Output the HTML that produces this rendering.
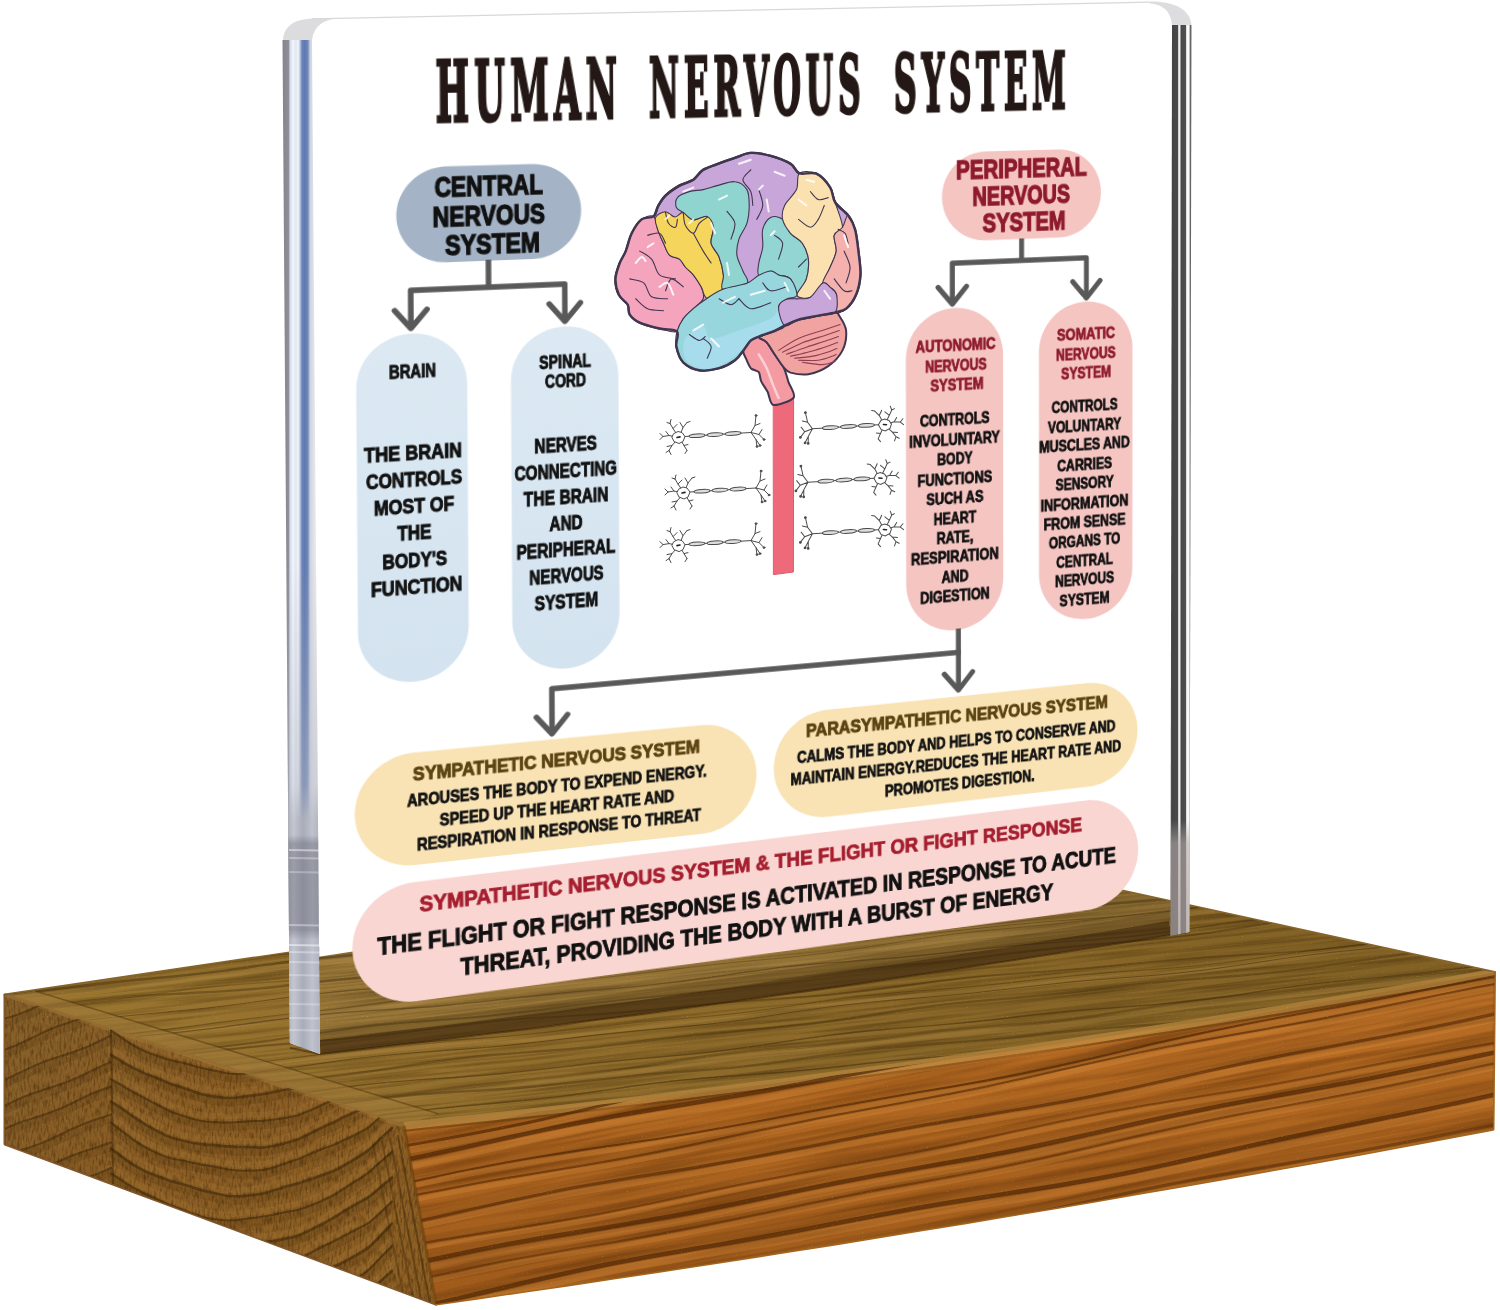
<!DOCTYPE html>
<html><head><meta charset="utf-8"><title>Human Nervous System</title>
<style>
html,body{margin:0;padding:0;background:#fff}
body{width:1500px;height:1310px;position:relative;overflow:hidden;font-family:"Liberation Sans",sans-serif}
.abs{position:absolute;left:0;top:0}
#panel{width:860px;height:1000px;transform-origin:0 0;transform:matrix3d(1.1494175,-0.0078878222,0,0.00012859121,0.011429869,1.0462971,0,1.0718339e-05,0,0,1,0,312,19,0,1)}
</style></head><body>
<svg class="abs" width="1500" height="1310" viewBox="0 0 1500 1310">
<defs>
<linearGradient id="wtop" x1="0" y1="0" x2="1" y2="0"><stop offset="0" stop-color="#9a7630"/><stop offset="0.25" stop-color="#94702e"/><stop offset="0.6" stop-color="#8a6829"/><stop offset="1" stop-color="#806024"/></linearGradient>
<linearGradient id="wfront" x1="0" y1="0" x2="0.12" y2="1"><stop offset="0" stop-color="#bc7229"/><stop offset="0.4" stop-color="#b26821"/><stop offset="1" stop-color="#9e5a1b"/></linearGradient>
<linearGradient id="wend" x1="0" y1="0" x2="1" y2="0.6"><stop offset="0" stop-color="#86602a"/><stop offset="0.5" stop-color="#8a5d24"/><stop offset="1" stop-color="#8c5f24"/></linearGradient>
<filter id="nf" x="0" y="0" width="100%" height="100%" color-interpolation-filters="sRGB"><feTurbulence type="fractalNoise" baseFrequency="0.005 0.14" numOctaves="3" seed="5"/><feColorMatrix type="matrix" values="0 0 0 0 0.30  0 0 0 0 0.14  0 0 0 0 0.0  2.4 0 0 0 -0.95"/></filter>
<filter id="nt" x="0" y="0" width="100%" height="100%" color-interpolation-filters="sRGB"><feTurbulence type="fractalNoise" baseFrequency="0.006 0.3" numOctaves="3" seed="9"/><feColorMatrix type="matrix" values="0 0 0 0 0.22  0 0 0 0 0.14  0 0 0 0 0.02  2.2 0 0 0 -0.9"/></filter>
<filter id="ne" x="0" y="0" width="100%" height="100%" color-interpolation-filters="sRGB"><feTurbulence type="fractalNoise" baseFrequency="0.5 0.12" numOctaves="2" seed="2"/><feColorMatrix type="matrix" values="0 0 0 0 0.25  0 0 0 0 0.14  0 0 0 0 0.02  2.0 0 0 0 -0.85"/></filter>
<filter id="spk" x="0" y="0" width="100%" height="100%" color-interpolation-filters="sRGB"><feTurbulence type="fractalNoise" baseFrequency="0.8" numOctaves="1" seed="4"/><feColorMatrix type="matrix" values="0 0 0 0 0.85  0 0 0 0 0.72  0 0 0 0 0.45  4 0 0 0 -2.75"/></filter>
<clipPath id="cwood"><polygon points="5.0,995.0 955.0,854.5 1494.5,972.5 1493.0,1129.3 1493.0,1129.3 1449.0,1137.6 1404.9,1145.8 1360.9,1153.9 1316.8,1161.9 1272.8,1169.8 1228.8,1177.7 1184.7,1185.4 1140.7,1193.1 1096.6,1200.7 1052.6,1208.2 1008.5,1215.6 964.5,1222.9 920.5,1230.1 876.4,1237.3 832.4,1244.4 788.3,1251.3 744.3,1258.2 700.2,1265.0 656.2,1271.7 612.2,1278.3 568.1,1284.9 524.1,1291.3 480.0,1297.7 436.0,1304.0 5.0,1144.0"/></clipPath>
<clipPath id="ctop"><polygon points="5.0,995.0 955.0,854.5 1494.5,972.5 1449.1,980.6 1403.6,988.5 1358.2,996.3 1312.8,1003.9 1267.3,1011.4 1221.9,1018.8 1176.4,1026.0 1131.0,1033.1 1085.6,1040.0 1040.1,1046.7 994.7,1053.3 949.2,1059.8 903.8,1066.1 858.4,1072.3 812.9,1078.3 767.5,1084.2 722.1,1089.9 676.6,1095.5 631.2,1100.9 585.8,1106.2 540.3,1111.3 494.9,1116.3 449.4,1121.1 404.0,1125.8"/></clipPath>
<clipPath id="cfront"><polygon points="404.0,1125.8 449.4,1121.1 494.9,1116.3 540.3,1111.3 585.8,1106.2 631.2,1100.9 676.6,1095.5 722.1,1089.9 767.5,1084.2 812.9,1078.3 858.4,1072.3 903.8,1066.1 949.2,1059.8 994.7,1053.3 1040.1,1046.7 1085.6,1040.0 1131.0,1033.1 1176.4,1026.0 1221.9,1018.8 1267.3,1011.4 1312.8,1003.9 1358.2,996.3 1403.6,988.5 1449.1,980.6 1494.5,972.5 1493.0,1129.3 1449.0,1137.6 1404.9,1145.8 1360.9,1153.9 1316.8,1161.9 1272.8,1169.8 1228.8,1177.7 1184.7,1185.4 1140.7,1193.1 1096.6,1200.7 1052.6,1208.2 1008.5,1215.6 964.5,1222.9 920.5,1230.1 876.4,1237.3 832.4,1244.4 788.3,1251.3 744.3,1258.2 700.2,1265.0 656.2,1271.7 612.2,1278.3 568.1,1284.9 524.1,1291.3 480.0,1297.7 436.0,1304.0"/></clipPath>
<clipPath id="cend"><polygon points="5.0,995.0 404.0,1125.8 436.0,1304.0 5.0,1144.0"/></clipPath>
<clipPath id="cpanel"><polygon points="312.0,19.0 1171.0,2.0 1170.0,935.0 1116.9,943.7 1063.8,952.2 1010.6,960.6 957.5,968.8 904.4,976.8 851.2,984.7 798.1,992.4 745.0,999.9 691.9,1007.3 638.8,1014.4 585.6,1021.5 532.5,1028.3 479.4,1035.0 426.2,1041.5 373.1,1047.8 320.0,1054.0"/></clipPath>
</defs>
<polygon points="5.0,995.0 955.0,854.5 1494.5,972.5 1449.1,980.6 1403.6,988.5 1358.2,996.3 1312.8,1003.9 1267.3,1011.4 1221.9,1018.8 1176.4,1026.0 1131.0,1033.1 1085.6,1040.0 1040.1,1046.7 994.7,1053.3 949.2,1059.8 903.8,1066.1 858.4,1072.3 812.9,1078.3 767.5,1084.2 722.1,1089.9 676.6,1095.5 631.2,1100.9 585.8,1106.2 540.3,1111.3 494.9,1116.3 449.4,1121.1 404.0,1125.8" fill="url(#wtop)" stroke="#86642a" stroke-width="3" stroke-linejoin="round"/>
<polygon points="5.0,995.0 404.0,1125.8 436.0,1304.0 5.0,1144.0" fill="url(#wend)" stroke="#83592a" stroke-width="3" stroke-linejoin="round"/>
<polygon points="404.0,1125.8 449.4,1121.1 494.9,1116.3 540.3,1111.3 585.8,1106.2 631.2,1100.9 676.6,1095.5 722.1,1089.9 767.5,1084.2 812.9,1078.3 858.4,1072.3 903.8,1066.1 949.2,1059.8 994.7,1053.3 1040.1,1046.7 1085.6,1040.0 1131.0,1033.1 1176.4,1026.0 1221.9,1018.8 1267.3,1011.4 1312.8,1003.9 1358.2,996.3 1403.6,988.5 1449.1,980.6 1494.5,972.5 1493.0,1129.3 1449.0,1137.6 1404.9,1145.8 1360.9,1153.9 1316.8,1161.9 1272.8,1169.8 1228.8,1177.7 1184.7,1185.4 1140.7,1193.1 1096.6,1200.7 1052.6,1208.2 1008.5,1215.6 964.5,1222.9 920.5,1230.1 876.4,1237.3 832.4,1244.4 788.3,1251.3 744.3,1258.2 700.2,1265.0 656.2,1271.7 612.2,1278.3 568.1,1284.9 524.1,1291.3 480.0,1297.7 436.0,1304.0" fill="url(#wfront)" stroke="#a5651f" stroke-width="3" stroke-linejoin="round"/>
<g clip-path="url(#cfront)"><rect x="300" y="1050" width="1300" height="600" transform="skewY(-10.8)" filter="url(#nf)" opacity="0.38"/></g>
<g clip-path="url(#ctop)"><rect x="0" y="860" width="1600" height="500" transform="skewY(-6)" filter="url(#nt)" opacity="0.45"/></g>
<g clip-path="url(#cend)"><rect x="0" y="990" width="450" height="320" filter="url(#ne)" opacity="0.6"/></g>
<g clip-path="url(#ctop)" fill="none" stroke-linecap="round">
<path d="M0.0 980.3 C6.2 979.9 25.0 978.4 37.5 977.6 C50.0 976.8 62.5 976.2 75.0 975.4 C87.5 974.5 100.0 973.7 112.5 972.6 C125.0 971.5 137.5 970.2 150.0 968.8 C162.5 967.3 175.0 965.7 187.5 964.1 C200.0 962.6 212.5 961.0 225.0 959.6 C237.5 958.2 250.0 957.0 262.5 955.7 C275.0 954.5 287.5 953.5 300.0 952.2 C312.5 951.0 325.0 949.7 337.5 948.3 C350.0 946.8 362.5 945.1 375.0 943.4 C387.5 941.7 400.0 939.8 412.5 938.1 C425.0 936.4 437.5 934.7 450.0 933.3 C462.5 931.8 475.0 930.7 487.5 929.6 C500.0 928.6 512.5 927.8 525.0 927.0 C537.5 926.1 550.0 925.4 562.5 924.4 C575.0 923.4 587.5 922.4 600.0 921.1 C612.5 919.9 625.0 918.4 637.5 917.1 C650.0 915.7 662.5 914.2 675.0 912.9 C687.5 911.6 700.0 910.4 712.5 909.3 C725.0 908.2 737.5 907.3 750.0 906.2 C762.5 905.2 775.0 904.2 787.5 902.9 C800.0 901.6 812.5 900.2 825.0 898.6 C837.5 897.0 850.0 895.0 862.5 893.2 C875.0 891.4 887.5 889.5 900.0 887.8 C912.5 886.1 925.0 884.5 937.5 883.1 C950.0 881.8 962.5 880.7 975.0 879.6 C987.5 878.5 1000.0 877.7 1012.5 876.6 C1025.0 875.6 1037.5 874.5 1050.0 873.3 C1062.5 872.1 1075.0 870.7 1087.5 869.3 C1100.0 868.0 1112.5 866.4 1125.0 865.2 C1137.5 863.9 1150.0 862.6 1162.5 861.6 C1175.0 860.5 1187.5 859.7 1200.0 858.8 C1212.5 857.9 1225.0 857.3 1237.5 856.3 C1250.0 855.3 1262.5 854.3 1275.0 852.9 C1287.5 851.6 1300.0 850.0 1312.5 848.3 C1325.0 846.7 1337.5 844.7 1350.0 843.0 C1362.5 841.3 1375.0 839.4 1387.5 837.9 C1400.0 836.3 1412.5 835.0 1425.0 833.7 C1437.5 832.4 1450.0 831.4 1462.5 830.2 C1475.0 829.0 1493.8 827.1 1500.0 826.5" stroke="rgba(62,42,10,0.4)" stroke-width="2.4"/>
<path d="M0.0 996.0 C6.2 995.2 25.0 992.9 37.5 991.4 C50.0 989.8 62.5 988.1 75.0 986.6 C87.5 985.1 100.0 983.6 112.5 982.3 C125.0 981.0 137.5 979.9 150.0 978.7 C162.5 977.5 175.0 976.4 187.5 975.0 C200.0 973.6 212.5 972.1 225.0 970.6 C237.5 969.0 250.0 967.1 262.5 965.4 C275.0 963.8 287.5 962.0 300.0 960.5 C312.5 959.0 325.0 957.7 337.5 956.6 C350.0 955.4 362.5 954.7 375.0 953.8 C387.5 953.0 400.0 952.4 412.5 951.5 C425.0 950.6 437.5 949.7 450.0 948.6 C462.5 947.5 475.0 946.1 487.5 944.7 C500.0 943.4 512.5 941.8 525.0 940.4 C537.5 939.0 550.0 937.7 562.5 936.4 C575.0 935.2 587.5 934.2 600.0 933.1 C612.5 932.0 625.0 931.1 637.5 929.9 C650.0 928.6 662.5 927.4 675.0 925.9 C687.5 924.3 700.0 922.6 712.5 920.8 C725.0 919.0 737.5 917.0 750.0 915.3 C762.5 913.6 775.0 911.8 787.5 910.4 C800.0 909.0 812.5 907.8 825.0 906.7 C837.5 905.6 850.0 904.8 862.5 903.8 C875.0 902.8 887.5 902.0 900.0 900.9 C912.5 899.8 925.0 898.5 937.5 897.2 C950.0 896.0 962.5 894.5 975.0 893.1 C987.5 891.8 1000.0 890.4 1012.5 889.3 C1025.0 888.1 1037.5 887.1 1050.0 886.2 C1062.5 885.2 1075.0 884.5 1087.5 883.6 C1100.0 882.6 1112.5 881.7 1125.0 880.5 C1137.5 879.2 1150.0 877.8 1162.5 876.2 C1175.0 874.6 1187.5 872.7 1200.0 870.9 C1212.5 869.1 1225.0 867.2 1237.5 865.6 C1250.0 863.9 1262.5 862.4 1275.0 861.0 C1287.5 859.7 1300.0 858.6 1312.5 857.5 C1325.0 856.3 1337.5 855.3 1350.0 854.1 C1362.5 852.9 1375.0 851.6 1387.5 850.3 C1400.0 848.9 1412.5 847.3 1425.0 845.9 C1437.5 844.4 1450.0 842.9 1462.5 841.6 C1475.0 840.4 1493.8 838.8 1500.0 838.3" stroke="rgba(62,42,10,0.5)" stroke-width="2.4"/>
<path d="M0.0 1001.0 C6.2 1000.2 25.0 997.9 37.5 996.4 C50.0 994.8 62.5 993.1 75.0 991.6 C87.5 990.1 100.0 988.6 112.5 987.3 C125.0 986.0 137.5 984.9 150.0 983.7 C162.5 982.5 175.0 981.4 187.5 980.0 C200.0 978.6 212.5 977.1 225.0 975.6 C237.5 974.0 250.0 972.1 262.5 970.4 C275.0 968.8 287.5 967.0 300.0 965.5 C312.5 964.0 325.0 962.7 337.5 961.6 C350.0 960.4 362.5 959.7 375.0 958.8 C387.5 958.0 400.0 957.4 412.5 956.5 C425.0 955.6 437.5 954.7 450.0 953.6 C462.5 952.5 475.0 951.1 487.5 949.7 C500.0 948.4 512.5 946.8 525.0 945.4 C537.5 944.0 550.0 942.7 562.5 941.4 C575.0 940.2 587.5 939.2 600.0 938.1 C612.5 937.0 625.0 936.1 637.5 934.9 C650.0 933.6 662.5 932.4 675.0 930.9 C687.5 929.3 700.0 927.6 712.5 925.8 C725.0 924.0 737.5 922.0 750.0 920.3 C762.5 918.6 775.0 916.8 787.5 915.4 C800.0 914.0 812.5 912.8 825.0 911.7 C837.5 910.6 850.0 909.8 862.5 908.8 C875.0 907.8 887.5 907.0 900.0 905.9 C912.5 904.8 925.0 903.5 937.5 902.2 C950.0 901.0 962.5 899.5 975.0 898.1 C987.5 896.8 1000.0 895.4 1012.5 894.3 C1025.0 893.1 1037.5 892.1 1050.0 891.2 C1062.5 890.2 1075.0 889.5 1087.5 888.6 C1100.0 887.6 1112.5 886.7 1125.0 885.5 C1137.5 884.2 1150.0 882.8 1162.5 881.2 C1175.0 879.6 1187.5 877.7 1200.0 875.9 C1212.5 874.1 1225.0 872.2 1237.5 870.6 C1250.0 868.9 1262.5 867.4 1275.0 866.0 C1287.5 864.7 1300.0 863.6 1312.5 862.5 C1325.0 861.3 1337.5 860.3 1350.0 859.1 C1362.5 857.9 1375.0 856.6 1387.5 855.3 C1400.0 853.9 1412.5 852.3 1425.0 850.9 C1437.5 849.4 1450.0 847.9 1462.5 846.6 C1475.0 845.4 1493.8 843.8 1500.0 843.3" stroke="rgba(190,150,80,0.22)" stroke-width="5"/>
<path d="M0.0 1013.0 C6.2 1012.3 25.0 1010.3 37.5 1009.0 C50.0 1007.6 62.5 1006.4 75.0 1004.9 C87.5 1003.4 100.0 1001.8 112.5 1000.1 C125.0 998.4 137.5 996.4 150.0 994.7 C162.5 992.9 175.0 991.1 187.5 989.6 C200.0 988.0 212.5 986.7 225.0 985.6 C237.5 984.4 250.0 983.6 262.5 982.6 C275.0 981.7 287.5 981.0 300.0 980.0 C312.5 979.0 325.0 977.9 337.5 976.6 C350.0 975.3 362.5 973.8 375.0 972.3 C387.5 970.7 400.0 969.0 412.5 967.5 C425.0 965.9 437.5 964.4 450.0 963.1 C462.5 961.7 475.0 960.5 487.5 959.3 C500.0 958.0 512.5 956.9 525.0 955.5 C537.5 954.1 550.0 952.6 562.5 951.0 C575.0 949.3 587.5 947.4 600.0 945.5 C612.5 943.6 625.0 941.5 637.5 939.7 C650.0 937.9 662.5 936.1 675.0 934.6 C687.5 933.2 700.0 932.0 712.5 930.8 C725.0 929.7 737.5 928.8 750.0 927.8 C762.5 926.7 775.0 925.7 787.5 924.5 C800.0 923.3 812.5 921.9 825.0 920.5 C837.5 919.1 850.0 917.5 862.5 916.1 C875.0 914.6 887.5 913.1 900.0 911.8 C912.5 910.6 925.0 909.5 937.5 908.4 C950.0 907.3 962.5 906.4 975.0 905.3 C987.5 904.1 1000.0 903.0 1012.5 901.5 C1025.0 900.1 1037.5 898.4 1050.0 896.7 C1062.5 894.9 1075.0 892.8 1087.5 890.9 C1100.0 889.0 1112.5 887.0 1125.0 885.2 C1137.5 883.5 1150.0 881.9 1162.5 880.5 C1175.0 879.1 1187.5 877.9 1200.0 876.7 C1212.5 875.5 1225.0 874.4 1237.5 873.1 C1250.0 871.8 1262.5 870.4 1275.0 869.0 C1287.5 867.5 1300.0 865.8 1312.5 864.3 C1325.0 862.8 1337.5 861.2 1350.0 859.9 C1362.5 858.5 1375.0 857.3 1387.5 856.3 C1400.0 855.2 1412.5 854.4 1425.0 853.5 C1437.5 852.6 1450.0 851.8 1462.5 850.7 C1475.0 849.6 1493.8 847.5 1500.0 846.8" stroke="rgba(62,42,10,0.3)" stroke-width="1.3"/>
<path d="M0.0 1011.4 C6.2 1010.7 25.0 1008.6 37.5 1007.2 C50.0 1005.7 62.5 1003.9 75.0 1002.5 C87.5 1001.0 100.0 999.5 112.5 998.3 C125.0 997.1 137.5 996.1 150.0 995.3 C162.5 994.4 175.0 993.9 187.5 993.2 C200.0 992.5 212.5 992.0 225.0 991.1 C237.5 990.3 250.0 989.3 262.5 988.1 C275.0 987.0 287.5 985.5 300.0 984.1 C312.5 982.8 325.0 981.2 337.5 979.9 C350.0 978.6 362.5 977.3 375.0 976.2 C387.5 975.0 400.0 974.1 412.5 973.0 C425.0 972.0 437.5 971.0 450.0 969.7 C462.5 968.5 475.0 967.1 487.5 965.6 C500.0 964.1 512.5 962.3 525.0 960.6 C537.5 958.9 550.0 957.1 562.5 955.6 C575.0 954.1 587.5 952.7 600.0 951.5 C612.5 950.4 625.0 949.5 637.5 948.7 C650.0 947.8 662.5 947.2 675.0 946.4 C687.5 945.6 700.0 944.7 712.5 943.7 C725.0 942.7 737.5 941.4 750.0 940.2 C762.5 939.0 775.0 937.6 787.5 936.3 C800.0 935.1 812.5 933.9 825.0 932.9 C837.5 931.8 850.0 931.0 862.5 930.1 C875.0 929.2 887.5 928.4 900.0 927.4 C912.5 926.4 925.0 925.4 937.5 924.0 C950.0 922.7 962.5 921.1 975.0 919.4 C987.5 917.8 1000.0 915.9 1012.5 914.2 C1025.0 912.5 1037.5 910.8 1050.0 909.4 C1062.5 907.9 1075.0 906.7 1087.5 905.6 C1100.0 904.5 1112.5 903.6 1125.0 902.6 C1137.5 901.6 1150.0 900.8 1162.5 899.7 C1175.0 898.6 1187.5 897.4 1200.0 896.1 C1212.5 894.9 1225.0 893.4 1237.5 892.2 C1250.0 890.9 1262.5 889.6 1275.0 888.5 C1287.5 887.5 1300.0 886.6 1312.5 885.8 C1325.0 885.0 1337.5 884.4 1350.0 883.7 C1362.5 882.9 1375.0 882.2 1387.5 881.2 C1400.0 880.2 1412.5 879.0 1425.0 877.6 C1437.5 876.2 1450.0 874.5 1462.5 872.9 C1475.0 871.3 1493.8 868.8 1500.0 868.0" stroke="rgba(62,42,10,0.4)" stroke-width="2.4"/>
<path d="M0.0 1030.8 C6.2 1030.1 25.0 1028.1 37.5 1026.6 C50.0 1025.1 62.5 1023.3 75.0 1021.8 C87.5 1020.2 100.0 1018.7 112.5 1017.3 C125.0 1016.0 137.5 1014.8 150.0 1013.6 C162.5 1012.4 175.0 1011.3 187.5 1010.0 C200.0 1008.8 212.5 1007.4 225.0 1005.9 C237.5 1004.4 250.0 1002.6 262.5 1000.9 C275.0 999.3 287.5 997.4 300.0 995.8 C312.5 994.3 325.0 992.8 337.5 991.5 C350.0 990.3 362.5 989.4 375.0 988.5 C387.5 987.6 400.0 987.0 412.5 986.1 C425.0 985.3 437.5 984.5 450.0 983.5 C462.5 982.5 475.0 981.3 487.5 980.0 C500.0 978.7 512.5 977.1 525.0 975.8 C537.5 974.4 550.0 972.9 562.5 971.6 C575.0 970.4 587.5 969.3 600.0 968.2 C612.5 967.1 625.0 966.2 637.5 965.0 C650.0 963.9 662.5 962.8 675.0 961.4 C687.5 960.0 700.0 958.4 712.5 956.7 C725.0 955.0 737.5 953.0 750.0 951.2 C762.5 949.4 775.0 947.6 787.5 946.0 C800.0 944.5 812.5 943.1 825.0 941.9 C837.5 940.8 850.0 939.9 862.5 938.9 C875.0 937.9 887.5 937.1 900.0 936.1 C912.5 935.1 925.0 934.0 937.5 932.7 C950.0 931.5 962.5 930.1 975.0 928.7 C987.5 927.4 1000.0 925.9 1012.5 924.7 C1025.0 923.5 1037.5 922.4 1050.0 921.4 C1062.5 920.4 1075.0 919.7 1087.5 918.8 C1100.0 917.9 1112.5 917.1 1125.0 916.0 C1137.5 914.9 1150.0 913.6 1162.5 912.1 C1175.0 910.6 1187.5 908.9 1200.0 907.1 C1212.5 905.4 1225.0 903.4 1237.5 901.7 C1250.0 900.0 1262.5 898.3 1275.0 896.9 C1287.5 895.5 1300.0 894.3 1312.5 893.1 C1325.0 891.9 1337.5 890.9 1350.0 889.8 C1362.5 888.6 1375.0 887.5 1387.5 886.1 C1400.0 884.8 1412.5 883.3 1425.0 881.9 C1437.5 880.5 1450.0 878.9 1462.5 877.5 C1475.0 876.2 1493.8 874.5 1500.0 873.8" stroke="rgba(62,42,10,0.5)" stroke-width="1.0"/>
<path d="M0.0 1044.7 C6.2 1044.1 25.0 1042.0 37.5 1040.9 C50.0 1039.8 62.5 1039.0 75.0 1038.1 C87.5 1037.2 100.0 1036.4 112.5 1035.3 C125.0 1034.2 137.5 1033.0 150.0 1031.6 C162.5 1030.1 175.0 1028.4 187.5 1026.8 C200.0 1025.1 212.5 1023.3 225.0 1021.7 C237.5 1020.0 250.0 1018.4 262.5 1017.0 C275.0 1015.5 287.5 1014.2 300.0 1012.9 C312.5 1011.5 325.0 1010.3 337.5 1008.8 C350.0 1007.3 362.5 1005.7 375.0 1004.0 C387.5 1002.2 400.0 1000.2 412.5 998.3 C425.0 996.4 437.5 994.4 450.0 992.6 C462.5 990.8 475.0 989.2 487.5 987.8 C500.0 986.4 512.5 985.3 525.0 984.2 C537.5 983.1 550.0 982.3 562.5 981.2 C575.0 980.2 587.5 979.2 600.0 977.9 C612.5 976.7 625.0 975.2 637.5 973.8 C650.0 972.3 662.5 970.6 675.0 969.1 C687.5 967.5 700.0 966.0 712.5 964.7 C725.0 963.3 737.5 962.1 750.0 960.9 C762.5 959.7 775.0 958.7 787.5 957.4 C800.0 956.1 812.5 954.8 825.0 953.2 C837.5 951.6 850.0 949.8 862.5 947.9 C875.0 946.0 887.5 943.8 900.0 941.9 C912.5 939.9 925.0 937.9 937.5 936.2 C950.0 934.5 962.5 933.0 975.0 931.7 C987.5 930.3 1000.0 929.2 1012.5 928.0 C1025.0 926.8 1037.5 925.8 1050.0 924.5 C1062.5 923.2 1075.0 921.8 1087.5 920.3 C1100.0 918.9 1112.5 917.2 1125.0 915.7 C1137.5 914.2 1150.0 912.6 1162.5 911.2 C1175.0 909.9 1187.5 908.7 1200.0 907.6 C1212.5 906.5 1225.0 905.7 1237.5 904.6 C1250.0 903.6 1262.5 902.6 1275.0 901.3 C1287.5 900.1 1300.0 898.6 1312.5 897.0 C1325.0 895.3 1337.5 893.3 1350.0 891.5 C1362.5 889.6 1375.0 887.5 1387.5 885.6 C1400.0 883.8 1412.5 882.0 1425.0 880.5 C1437.5 878.9 1450.0 877.6 1462.5 876.2 C1475.0 874.8 1493.8 872.9 1500.0 872.2" stroke="rgba(62,42,10,0.4)" stroke-width="1.0"/>
<path d="M0.0 1049.7 C6.2 1049.1 25.0 1047.0 37.5 1045.9 C50.0 1044.8 62.5 1044.0 75.0 1043.1 C87.5 1042.2 100.0 1041.4 112.5 1040.3 C125.0 1039.2 137.5 1038.0 150.0 1036.6 C162.5 1035.1 175.0 1033.4 187.5 1031.8 C200.0 1030.1 212.5 1028.3 225.0 1026.7 C237.5 1025.0 250.0 1023.4 262.5 1022.0 C275.0 1020.5 287.5 1019.2 300.0 1017.9 C312.5 1016.5 325.0 1015.3 337.5 1013.8 C350.0 1012.3 362.5 1010.7 375.0 1009.0 C387.5 1007.2 400.0 1005.2 412.5 1003.3 C425.0 1001.4 437.5 999.4 450.0 997.6 C462.5 995.8 475.0 994.2 487.5 992.8 C500.0 991.4 512.5 990.3 525.0 989.2 C537.5 988.1 550.0 987.3 562.5 986.2 C575.0 985.2 587.5 984.2 600.0 982.9 C612.5 981.7 625.0 980.2 637.5 978.8 C650.0 977.3 662.5 975.6 675.0 974.1 C687.5 972.5 700.0 971.0 712.5 969.7 C725.0 968.3 737.5 967.1 750.0 965.9 C762.5 964.7 775.0 963.7 787.5 962.4 C800.0 961.1 812.5 959.8 825.0 958.2 C837.5 956.6 850.0 954.8 862.5 952.9 C875.0 951.0 887.5 948.8 900.0 946.9 C912.5 944.9 925.0 942.9 937.5 941.2 C950.0 939.5 962.5 938.0 975.0 936.7 C987.5 935.3 1000.0 934.2 1012.5 933.0 C1025.0 931.8 1037.5 930.8 1050.0 929.5 C1062.5 928.2 1075.0 926.8 1087.5 925.3 C1100.0 923.9 1112.5 922.2 1125.0 920.7 C1137.5 919.2 1150.0 917.6 1162.5 916.2 C1175.0 914.9 1187.5 913.7 1200.0 912.6 C1212.5 911.5 1225.0 910.7 1237.5 909.6 C1250.0 908.6 1262.5 907.6 1275.0 906.3 C1287.5 905.1 1300.0 903.6 1312.5 902.0 C1325.0 900.3 1337.5 898.3 1350.0 896.5 C1362.5 894.6 1375.0 892.5 1387.5 890.6 C1400.0 888.8 1412.5 887.0 1425.0 885.5 C1437.5 883.9 1450.0 882.6 1462.5 881.2 C1475.0 879.8 1493.8 877.9 1500.0 877.2" stroke="rgba(190,150,80,0.22)" stroke-width="5"/>
<path d="M0.0 1052.3 C6.2 1051.5 25.0 1049.2 37.5 1047.6 C50.0 1046.0 62.5 1044.3 75.0 1042.8 C87.5 1041.3 100.0 1040.0 112.5 1038.7 C125.0 1037.4 137.5 1036.3 150.0 1035.1 C162.5 1033.9 175.0 1032.7 187.5 1031.3 C200.0 1029.9 212.5 1028.4 225.0 1026.8 C237.5 1025.2 250.0 1023.3 262.5 1021.6 C275.0 1020.0 287.5 1018.2 300.0 1016.8 C312.5 1015.3 325.0 1014.1 337.5 1013.0 C350.0 1012.0 362.5 1011.2 375.0 1010.4 C387.5 1009.6 400.0 1008.9 412.5 1008.0 C425.0 1007.2 437.5 1006.2 450.0 1005.0 C462.5 1003.9 475.0 1002.4 487.5 1001.1 C500.0 999.7 512.5 998.1 525.0 996.8 C537.5 995.4 550.0 994.1 562.5 992.9 C575.0 991.7 587.5 990.7 600.0 989.6 C612.5 988.5 625.0 987.5 637.5 986.3 C650.0 985.0 662.5 983.7 675.0 982.1 C687.5 980.6 700.0 978.8 712.5 977.0 C725.0 975.2 737.5 973.2 750.0 971.5 C762.5 969.8 775.0 968.1 787.5 966.7 C800.0 965.4 812.5 964.2 825.0 963.2 C837.5 962.1 850.0 961.3 862.5 960.4 C875.0 959.4 887.5 958.5 900.0 957.4 C912.5 956.3 925.0 955.0 937.5 953.7 C950.0 952.4 962.5 950.9 975.0 949.5 C987.5 948.2 1000.0 946.9 1012.5 945.8 C1025.0 944.6 1037.5 943.7 1050.0 942.8 C1062.5 941.8 1075.0 941.1 1087.5 940.1 C1100.0 939.2 1112.5 938.2 1125.0 936.9 C1137.5 935.6 1150.0 934.1 1162.5 932.5 C1175.0 930.8 1187.5 928.9 1200.0 927.1 C1212.5 925.4 1225.0 923.5 1237.5 921.9 C1250.0 920.2 1262.5 918.8 1275.0 917.5 C1287.5 916.2 1300.0 915.1 1312.5 914.0 C1325.0 912.8 1337.5 911.8 1350.0 910.6 C1362.5 909.4 1375.0 908.1 1387.5 906.7 C1400.0 905.3 1412.5 903.7 1425.0 902.3 C1437.5 900.8 1450.0 899.3 1462.5 898.1 C1475.0 896.9 1493.8 895.4 1500.0 894.9" stroke="rgba(62,42,10,0.5)" stroke-width="1.3"/>
<path d="M0.0 1073.6 C6.2 1072.9 25.0 1071.2 37.5 1069.7 C50.0 1068.3 62.5 1066.5 75.0 1064.8 C87.5 1063.1 100.0 1061.2 112.5 1059.5 C125.0 1057.8 137.5 1056.2 150.0 1054.7 C162.5 1053.2 175.0 1051.9 187.5 1050.5 C200.0 1049.1 212.5 1047.8 225.0 1046.3 C237.5 1044.8 250.0 1043.2 262.5 1041.5 C275.0 1039.8 287.5 1037.8 300.0 1035.9 C312.5 1034.0 325.0 1032.0 337.5 1030.3 C350.0 1028.5 362.5 1026.9 375.0 1025.5 C387.5 1024.2 400.0 1023.1 412.5 1022.1 C425.0 1021.0 437.5 1020.2 450.0 1019.2 C462.5 1018.1 475.0 1017.1 487.5 1015.9 C500.0 1014.6 512.5 1013.2 525.0 1011.7 C537.5 1010.2 550.0 1008.4 562.5 1006.9 C575.0 1005.3 587.5 1003.7 600.0 1002.3 C612.5 1000.9 625.0 999.7 637.5 998.4 C650.0 997.2 662.5 996.1 675.0 994.8 C687.5 993.4 700.0 992.1 712.5 990.5 C725.0 988.8 737.5 987.0 750.0 985.1 C762.5 983.2 775.0 981.0 787.5 979.0 C800.0 977.1 812.5 975.1 825.0 973.4 C837.5 971.7 850.0 970.2 862.5 968.9 C875.0 967.5 887.5 966.5 900.0 965.3 C912.5 964.2 925.0 963.2 937.5 961.9 C950.0 960.7 962.5 959.3 975.0 957.9 C987.5 956.4 1000.0 954.8 1012.5 953.2 C1025.0 951.7 1037.5 950.1 1050.0 948.8 C1062.5 947.4 1075.0 946.2 1087.5 945.0 C1100.0 943.9 1112.5 943.0 1125.0 941.9 C1137.5 940.8 1150.0 939.8 1162.5 938.5 C1175.0 937.2 1187.5 935.7 1200.0 934.0 C1212.5 932.3 1225.0 930.3 1237.5 928.3 C1250.0 926.4 1262.5 924.3 1275.0 922.4 C1287.5 920.6 1300.0 918.8 1312.5 917.2 C1325.0 915.6 1337.5 914.3 1350.0 912.9 C1362.5 911.6 1375.0 910.4 1387.5 909.0 C1400.0 907.7 1412.5 906.3 1425.0 904.7 C1437.5 903.2 1450.0 901.5 1462.5 899.8 C1475.0 898.2 1493.8 895.7 1500.0 894.9" stroke="rgba(62,42,10,0.4)" stroke-width="1.8"/>
<path d="M0.0 1067.7 C6.2 1067.1 25.0 1065.2 37.5 1064.2 C50.0 1063.2 62.5 1062.5 75.0 1061.8 C87.5 1061.1 100.0 1060.7 112.5 1060.0 C125.0 1059.3 137.5 1058.6 150.0 1057.6 C162.5 1056.7 175.0 1055.5 187.5 1054.2 C200.0 1052.9 212.5 1051.4 225.0 1050.0 C237.5 1048.6 250.0 1047.2 262.5 1045.9 C275.0 1044.7 287.5 1043.6 300.0 1042.5 C312.5 1041.4 325.0 1040.5 337.5 1039.4 C350.0 1038.3 362.5 1037.2 375.0 1035.8 C387.5 1034.5 400.0 1032.9 412.5 1031.4 C425.0 1029.8 437.5 1028.0 450.0 1026.4 C462.5 1024.8 475.0 1023.2 487.5 1021.9 C500.0 1020.6 512.5 1019.5 525.0 1018.6 C537.5 1017.7 550.0 1017.1 562.5 1016.3 C575.0 1015.6 587.5 1015.0 600.0 1014.2 C612.5 1013.3 625.0 1012.3 637.5 1011.2 C650.0 1010.1 662.5 1008.8 675.0 1007.6 C687.5 1006.3 700.0 1005.0 712.5 1003.8 C725.0 1002.7 737.5 1001.6 750.0 1000.7 C762.5 999.7 775.0 998.9 787.5 998.0 C800.0 997.1 812.5 996.3 825.0 995.1 C837.5 994.0 850.0 992.7 862.5 991.2 C875.0 989.8 887.5 988.0 900.0 986.3 C912.5 984.6 925.0 982.8 937.5 981.2 C950.0 979.6 962.5 978.2 975.0 976.9 C987.5 975.7 1000.0 974.7 1012.5 973.8 C1025.0 972.8 1037.5 972.1 1050.0 971.2 C1062.5 970.2 1075.0 969.3 1087.5 968.2 C1100.0 967.1 1112.5 965.8 1125.0 964.6 C1137.5 963.3 1150.0 961.9 1162.5 960.8 C1175.0 959.6 1187.5 958.5 1200.0 957.6 C1212.5 956.7 1225.0 956.0 1237.5 955.3 C1250.0 954.5 1262.5 954.0 1275.0 953.1 C1287.5 952.3 1300.0 951.4 1312.5 950.2 C1325.0 949.0 1337.5 947.6 1350.0 946.1 C1362.5 944.5 1375.0 942.7 1387.5 941.1 C1400.0 939.5 1412.5 937.9 1425.0 936.4 C1437.5 935.0 1450.0 933.8 1462.5 932.6 C1475.0 931.5 1493.8 930.0 1500.0 929.5" stroke="rgba(62,42,10,0.4)" stroke-width="1.8"/>
<path d="M0.0 1089.2 C6.2 1088.8 25.0 1087.6 37.5 1086.5 C50.0 1085.5 62.5 1084.2 75.0 1082.8 C87.5 1081.4 100.0 1079.7 112.5 1078.1 C125.0 1076.6 137.5 1074.9 150.0 1073.4 C162.5 1071.9 175.0 1070.6 187.5 1069.3 C200.0 1068.0 212.5 1066.9 225.0 1065.7 C237.5 1064.4 250.0 1063.2 262.5 1061.8 C275.0 1060.4 287.5 1058.8 300.0 1057.1 C312.5 1055.5 325.0 1053.5 337.5 1051.8 C350.0 1050.1 362.5 1048.3 375.0 1046.8 C387.5 1045.4 400.0 1044.1 412.5 1043.0 C425.0 1041.9 437.5 1041.1 450.0 1040.2 C462.5 1039.4 475.0 1038.7 487.5 1037.8 C500.0 1036.8 512.5 1035.8 525.0 1034.6 C537.5 1033.4 550.0 1032.0 562.5 1030.6 C575.0 1029.2 587.5 1027.7 600.0 1026.3 C612.5 1024.9 625.0 1023.6 637.5 1022.4 C650.0 1021.3 662.5 1020.3 675.0 1019.2 C687.5 1018.1 700.0 1017.1 712.5 1015.9 C725.0 1014.6 737.5 1013.3 750.0 1011.7 C762.5 1010.1 775.0 1008.2 787.5 1006.4 C800.0 1004.6 812.5 1002.6 825.0 1000.9 C837.5 999.1 850.0 997.4 862.5 996.0 C875.0 994.6 887.5 993.5 900.0 992.3 C912.5 991.2 925.0 990.4 937.5 989.4 C950.0 988.4 962.5 987.4 975.0 986.2 C987.5 985.1 1000.0 983.7 1012.5 982.4 C1025.0 981.0 1037.5 979.5 1050.0 978.1 C1062.5 976.8 1075.0 975.5 1087.5 974.4 C1100.0 973.2 1112.5 972.3 1125.0 971.4 C1137.5 970.4 1150.0 969.7 1162.5 968.8 C1175.0 967.8 1187.5 966.8 1200.0 965.5 C1212.5 964.2 1225.0 962.7 1237.5 961.0 C1250.0 959.4 1262.5 957.4 1275.0 955.6 C1287.5 953.9 1300.0 952.0 1312.5 950.3 C1325.0 948.7 1337.5 947.3 1350.0 945.9 C1362.5 944.6 1375.0 943.5 1387.5 942.3 C1400.0 941.1 1412.5 940.1 1425.0 938.8 C1437.5 937.5 1450.0 936.1 1462.5 934.7 C1475.0 933.2 1493.8 930.9 1500.0 930.1" stroke="rgba(62,42,10,0.4)" stroke-width="1.0"/>
<path d="M0.0 1094.2 C6.2 1093.8 25.0 1092.6 37.5 1091.5 C50.0 1090.5 62.5 1089.2 75.0 1087.8 C87.5 1086.4 100.0 1084.7 112.5 1083.1 C125.0 1081.6 137.5 1079.9 150.0 1078.4 C162.5 1076.9 175.0 1075.6 187.5 1074.3 C200.0 1073.0 212.5 1071.9 225.0 1070.7 C237.5 1069.4 250.0 1068.2 262.5 1066.8 C275.0 1065.4 287.5 1063.8 300.0 1062.1 C312.5 1060.5 325.0 1058.5 337.5 1056.8 C350.0 1055.1 362.5 1053.3 375.0 1051.8 C387.5 1050.4 400.0 1049.1 412.5 1048.0 C425.0 1046.9 437.5 1046.1 450.0 1045.2 C462.5 1044.4 475.0 1043.7 487.5 1042.8 C500.0 1041.8 512.5 1040.8 525.0 1039.6 C537.5 1038.4 550.0 1037.0 562.5 1035.6 C575.0 1034.2 587.5 1032.7 600.0 1031.3 C612.5 1029.9 625.0 1028.6 637.5 1027.4 C650.0 1026.3 662.5 1025.3 675.0 1024.2 C687.5 1023.1 700.0 1022.1 712.5 1020.9 C725.0 1019.6 737.5 1018.3 750.0 1016.7 C762.5 1015.1 775.0 1013.2 787.5 1011.4 C800.0 1009.6 812.5 1007.6 825.0 1005.9 C837.5 1004.1 850.0 1002.4 862.5 1001.0 C875.0 999.6 887.5 998.5 900.0 997.3 C912.5 996.2 925.0 995.4 937.5 994.4 C950.0 993.4 962.5 992.4 975.0 991.2 C987.5 990.1 1000.0 988.7 1012.5 987.4 C1025.0 986.0 1037.5 984.5 1050.0 983.1 C1062.5 981.8 1075.0 980.5 1087.5 979.4 C1100.0 978.2 1112.5 977.3 1125.0 976.4 C1137.5 975.4 1150.0 974.7 1162.5 973.8 C1175.0 972.8 1187.5 971.8 1200.0 970.5 C1212.5 969.2 1225.0 967.7 1237.5 966.0 C1250.0 964.4 1262.5 962.4 1275.0 960.6 C1287.5 958.9 1300.0 957.0 1312.5 955.3 C1325.0 953.7 1337.5 952.3 1350.0 950.9 C1362.5 949.6 1375.0 948.5 1387.5 947.3 C1400.0 946.1 1412.5 945.1 1425.0 943.8 C1437.5 942.5 1450.0 941.1 1462.5 939.7 C1475.0 938.2 1493.8 935.9 1500.0 935.1" stroke="rgba(190,150,80,0.22)" stroke-width="5"/>
<path d="M0.0 1101.5 C6.2 1101.0 25.0 1099.5 37.5 1098.2 C50.0 1096.9 62.5 1095.3 75.0 1093.8 C87.5 1092.2 100.0 1090.3 112.5 1088.7 C125.0 1087.1 137.5 1085.5 150.0 1084.0 C162.5 1082.5 175.0 1081.3 187.5 1079.9 C200.0 1078.6 212.5 1077.5 225.0 1076.1 C237.5 1074.8 250.0 1073.3 262.5 1071.7 C275.0 1070.1 287.5 1068.3 300.0 1066.5 C312.5 1064.7 325.0 1062.7 337.5 1061.0 C350.0 1059.3 362.5 1057.7 375.0 1056.3 C387.5 1054.9 400.0 1053.9 412.5 1052.8 C425.0 1051.8 437.5 1051.1 450.0 1050.2 C462.5 1049.2 475.0 1048.4 487.5 1047.3 C500.0 1046.2 512.5 1044.9 525.0 1043.5 C537.5 1042.2 550.0 1040.5 562.5 1039.1 C575.0 1037.6 587.5 1036.0 600.0 1034.7 C612.5 1033.3 625.0 1032.1 637.5 1030.9 C650.0 1029.7 662.5 1028.7 675.0 1027.5 C687.5 1026.3 700.0 1025.1 712.5 1023.7 C725.0 1022.2 737.5 1020.5 750.0 1018.8 C762.5 1017.0 775.0 1014.9 787.5 1013.0 C800.0 1011.2 812.5 1009.2 825.0 1007.5 C837.5 1005.8 850.0 1004.3 862.5 1003.0 C875.0 1001.6 887.5 1000.6 900.0 999.5 C912.5 998.4 925.0 997.5 937.5 996.4 C950.0 995.3 962.5 994.1 975.0 992.8 C987.5 991.4 1000.0 989.9 1012.5 988.5 C1025.0 987.0 1037.5 985.5 1050.0 984.2 C1062.5 982.8 1075.0 981.6 1087.5 980.5 C1100.0 979.4 1112.5 978.6 1125.0 977.6 C1137.5 976.6 1150.0 975.7 1162.5 974.6 C1175.0 973.4 1187.5 972.1 1200.0 970.6 C1212.5 969.1 1225.0 967.2 1237.5 965.4 C1250.0 963.6 1262.5 961.5 1275.0 959.7 C1287.5 957.9 1300.0 956.1 1312.5 954.6 C1325.0 953.0 1337.5 951.7 1350.0 950.4 C1362.5 949.1 1375.0 948.0 1387.5 946.7 C1400.0 945.5 1412.5 944.2 1425.0 942.8 C1437.5 941.4 1450.0 939.8 1462.5 938.2 C1475.0 936.7 1493.8 934.3 1500.0 933.5" stroke="rgba(62,42,10,0.5)" stroke-width="1.0"/>
<path d="M0.0 1110.3 C6.2 1109.8 25.0 1108.1 37.5 1107.1 C50.0 1106.1 62.5 1105.5 75.0 1104.6 C87.5 1103.6 100.0 1102.8 112.5 1101.6 C125.0 1100.5 137.5 1099.1 150.0 1097.6 C162.5 1096.2 175.0 1094.4 187.5 1092.8 C200.0 1091.1 212.5 1089.4 225.0 1087.9 C237.5 1086.3 250.0 1084.9 262.5 1083.6 C275.0 1082.2 287.5 1081.1 300.0 1079.7 C312.5 1078.4 325.0 1077.1 337.5 1075.6 C350.0 1074.1 362.5 1072.4 375.0 1070.6 C387.5 1068.8 400.0 1066.8 412.5 1065.0 C425.0 1063.1 437.5 1061.2 450.0 1059.7 C462.5 1058.1 475.0 1056.7 487.5 1055.5 C500.0 1054.3 512.5 1053.4 525.0 1052.4 C537.5 1051.4 550.0 1050.6 562.5 1049.6 C575.0 1048.5 587.5 1047.4 600.0 1046.1 C612.5 1044.8 625.0 1043.3 637.5 1041.8 C650.0 1040.4 662.5 1038.7 675.0 1037.3 C687.5 1035.9 700.0 1034.5 712.5 1033.3 C725.0 1032.0 737.5 1031.0 750.0 1029.9 C762.5 1028.7 775.0 1027.7 787.5 1026.3 C800.0 1025.0 812.5 1023.6 825.0 1021.9 C837.5 1020.2 850.0 1018.3 862.5 1016.4 C875.0 1014.5 887.5 1012.4 900.0 1010.5 C912.5 1008.7 925.0 1006.9 937.5 1005.4 C950.0 1003.9 962.5 1002.6 975.0 1001.4 C987.5 1000.2 1000.0 999.2 1012.5 998.1 C1025.0 996.9 1037.5 995.8 1050.0 994.5 C1062.5 993.2 1075.0 991.8 1087.5 990.3 C1100.0 988.9 1112.5 987.2 1125.0 985.8 C1137.5 984.4 1150.0 983.0 1162.5 981.8 C1175.0 980.6 1187.5 979.6 1200.0 978.6 C1212.5 977.6 1225.0 976.8 1237.5 975.8 C1250.0 974.7 1262.5 973.7 1275.0 972.3 C1287.5 970.9 1300.0 969.3 1312.5 967.6 C1325.0 965.9 1337.5 963.9 1350.0 962.0 C1362.5 960.2 1375.0 958.2 1387.5 956.5 C1400.0 954.8 1412.5 953.2 1425.0 951.8 C1437.5 950.4 1450.0 949.2 1462.5 947.9 C1475.0 946.6 1493.8 944.7 1500.0 944.0" stroke="rgba(62,42,10,0.4)" stroke-width="2.4"/>
<path d="M0.0 1127.9 C6.2 1127.4 25.0 1125.9 37.5 1124.6 C50.0 1123.3 62.5 1121.8 75.0 1120.2 C87.5 1118.6 100.0 1116.8 112.5 1115.3 C125.0 1113.7 137.5 1112.1 150.0 1110.7 C162.5 1109.3 175.0 1108.0 187.5 1106.8 C200.0 1105.5 212.5 1104.4 225.0 1103.0 C237.5 1101.7 250.0 1100.2 262.5 1098.7 C275.0 1097.1 287.5 1095.2 300.0 1093.5 C312.5 1091.7 325.0 1089.8 337.5 1088.1 C350.0 1086.5 362.5 1084.9 375.0 1083.6 C387.5 1082.3 400.0 1081.3 412.5 1080.3 C425.0 1079.3 437.5 1078.6 450.0 1077.7 C462.5 1076.8 475.0 1076.0 487.5 1074.9 C500.0 1073.8 512.5 1072.5 525.0 1071.2 C537.5 1069.8 550.0 1068.2 562.5 1066.8 C575.0 1065.3 587.5 1063.8 600.0 1062.5 C612.5 1061.2 625.0 1060.0 637.5 1058.9 C650.0 1057.7 662.5 1056.8 675.0 1055.6 C687.5 1054.4 700.0 1053.2 712.5 1051.8 C725.0 1050.3 737.5 1048.6 750.0 1046.9 C762.5 1045.1 775.0 1043.1 787.5 1041.2 C800.0 1039.4 812.5 1037.5 825.0 1035.8 C837.5 1034.2 850.0 1032.8 862.5 1031.5 C875.0 1030.2 887.5 1029.3 900.0 1028.2 C912.5 1027.2 925.0 1026.3 937.5 1025.2 C950.0 1024.1 962.5 1022.9 975.0 1021.6 C987.5 1020.3 1000.0 1018.8 1012.5 1017.4 C1025.0 1016.0 1037.5 1014.4 1050.0 1013.2 C1062.5 1011.9 1075.0 1010.7 1087.5 1009.7 C1100.0 1008.6 1112.5 1007.8 1125.0 1006.9 C1137.5 1005.9 1150.0 1005.1 1162.5 1003.9 C1175.0 1002.8 1187.5 1001.5 1200.0 999.9 C1212.5 998.4 1225.0 996.6 1237.5 994.8 C1250.0 993.0 1262.5 991.0 1275.0 989.2 C1287.5 987.4 1300.0 985.7 1312.5 984.2 C1325.0 982.7 1337.5 981.4 1350.0 980.2 C1362.5 978.9 1375.0 977.8 1387.5 976.6 C1400.0 975.4 1412.5 974.1 1425.0 972.7 C1437.5 971.3 1450.0 969.8 1462.5 968.2 C1475.0 966.7 1493.8 964.4 1500.0 963.6" stroke="rgba(62,42,10,0.5)" stroke-width="1.3"/>
<path d="M0.0 1140.0 C6.2 1139.2 25.0 1136.6 37.5 1135.1 C50.0 1133.5 62.5 1132.2 75.0 1130.8 C87.5 1129.5 100.0 1128.2 112.5 1126.8 C125.0 1125.3 137.5 1123.8 150.0 1122.1 C162.5 1120.4 175.0 1118.5 187.5 1116.7 C200.0 1114.9 212.5 1112.9 225.0 1111.2 C237.5 1109.6 250.0 1108.0 262.5 1106.6 C275.0 1105.3 287.5 1104.3 300.0 1103.3 C312.5 1102.3 325.0 1101.5 337.5 1100.5 C350.0 1099.6 362.5 1098.6 375.0 1097.4 C387.5 1096.2 400.0 1094.8 412.5 1093.3 C425.0 1091.8 437.5 1090.1 450.0 1088.5 C462.5 1086.9 475.0 1085.3 487.5 1083.9 C500.0 1082.4 512.5 1081.2 525.0 1079.9 C537.5 1078.6 550.0 1077.5 562.5 1076.2 C575.0 1074.8 587.5 1073.5 600.0 1071.9 C612.5 1070.3 625.0 1068.5 637.5 1066.6 C650.0 1064.8 662.5 1062.6 675.0 1060.7 C687.5 1058.8 700.0 1056.8 712.5 1055.2 C725.0 1053.5 737.5 1052.1 750.0 1050.8 C762.5 1049.5 775.0 1048.5 787.5 1047.4 C800.0 1046.3 812.5 1045.4 825.0 1044.2 C837.5 1043.0 850.0 1041.7 862.5 1040.4 C875.0 1039.0 887.5 1037.4 900.0 1035.9 C912.5 1034.4 925.0 1032.8 937.5 1031.4 C950.0 1030.0 962.5 1028.8 975.0 1027.6 C987.5 1026.5 1000.0 1025.6 1012.5 1024.5 C1025.0 1023.4 1037.5 1022.3 1050.0 1021.0 C1062.5 1019.7 1075.0 1018.2 1087.5 1016.5 C1100.0 1014.8 1112.5 1012.8 1125.0 1010.9 C1137.5 1009.0 1150.0 1006.9 1162.5 1005.0 C1175.0 1003.2 1187.5 1001.4 1200.0 999.8 C1212.5 998.3 1225.0 997.0 1237.5 995.6 C1250.0 994.3 1262.5 993.2 1275.0 991.9 C1287.5 990.6 1300.0 989.3 1312.5 987.9 C1325.0 986.4 1337.5 984.8 1350.0 983.2 C1362.5 981.6 1375.0 979.9 1387.5 978.4 C1400.0 977.0 1412.5 975.6 1425.0 974.4 C1437.5 973.2 1450.0 972.3 1462.5 971.3 C1475.0 970.4 1493.8 969.1 1500.0 968.6" stroke="rgba(62,42,10,0.3)" stroke-width="2.4"/>
<path d="M0.0 1145.0 C6.2 1144.2 25.0 1141.6 37.5 1140.1 C50.0 1138.5 62.5 1137.2 75.0 1135.8 C87.5 1134.5 100.0 1133.2 112.5 1131.8 C125.0 1130.3 137.5 1128.8 150.0 1127.1 C162.5 1125.4 175.0 1123.5 187.5 1121.7 C200.0 1119.9 212.5 1117.9 225.0 1116.2 C237.5 1114.6 250.0 1113.0 262.5 1111.6 C275.0 1110.3 287.5 1109.3 300.0 1108.3 C312.5 1107.3 325.0 1106.5 337.5 1105.5 C350.0 1104.6 362.5 1103.6 375.0 1102.4 C387.5 1101.2 400.0 1099.8 412.5 1098.3 C425.0 1096.8 437.5 1095.1 450.0 1093.5 C462.5 1091.9 475.0 1090.3 487.5 1088.9 C500.0 1087.4 512.5 1086.2 525.0 1084.9 C537.5 1083.6 550.0 1082.5 562.5 1081.2 C575.0 1079.8 587.5 1078.5 600.0 1076.9 C612.5 1075.3 625.0 1073.5 637.5 1071.6 C650.0 1069.8 662.5 1067.6 675.0 1065.7 C687.5 1063.8 700.0 1061.8 712.5 1060.2 C725.0 1058.5 737.5 1057.1 750.0 1055.8 C762.5 1054.5 775.0 1053.5 787.5 1052.4 C800.0 1051.3 812.5 1050.4 825.0 1049.2 C837.5 1048.0 850.0 1046.7 862.5 1045.4 C875.0 1044.0 887.5 1042.4 900.0 1040.9 C912.5 1039.4 925.0 1037.8 937.5 1036.4 C950.0 1035.0 962.5 1033.8 975.0 1032.6 C987.5 1031.5 1000.0 1030.6 1012.5 1029.5 C1025.0 1028.4 1037.5 1027.3 1050.0 1026.0 C1062.5 1024.7 1075.0 1023.2 1087.5 1021.5 C1100.0 1019.8 1112.5 1017.8 1125.0 1015.9 C1137.5 1014.0 1150.0 1011.9 1162.5 1010.0 C1175.0 1008.2 1187.5 1006.4 1200.0 1004.8 C1212.5 1003.3 1225.0 1002.0 1237.5 1000.6 C1250.0 999.3 1262.5 998.2 1275.0 996.9 C1287.5 995.6 1300.0 994.3 1312.5 992.9 C1325.0 991.4 1337.5 989.8 1350.0 988.2 C1362.5 986.6 1375.0 984.9 1387.5 983.4 C1400.0 982.0 1412.5 980.6 1425.0 979.4 C1437.5 978.2 1450.0 977.3 1462.5 976.3 C1475.0 975.4 1493.8 974.1 1500.0 973.6" stroke="rgba(190,150,80,0.22)" stroke-width="5"/>
<path d="M0.0 1139.1 C6.2 1138.7 25.0 1137.7 37.5 1136.8 C50.0 1135.8 62.5 1134.7 75.0 1133.5 C87.5 1132.2 100.0 1130.6 112.5 1129.1 C125.0 1127.6 137.5 1126.0 150.0 1124.5 C162.5 1123.1 175.0 1121.7 187.5 1120.4 C200.0 1119.1 212.5 1118.1 225.0 1116.9 C237.5 1115.7 250.0 1114.7 262.5 1113.4 C275.0 1112.1 287.5 1110.6 300.0 1109.0 C312.5 1107.5 325.0 1105.7 337.5 1104.0 C350.0 1102.3 362.5 1100.5 375.0 1099.0 C387.5 1097.5 400.0 1096.2 412.5 1095.0 C425.0 1093.9 437.5 1093.1 450.0 1092.3 C462.5 1091.4 475.0 1090.8 487.5 1090.0 C500.0 1089.2 512.5 1088.3 525.0 1087.2 C537.5 1086.2 550.0 1084.9 562.5 1083.6 C575.0 1082.2 587.5 1080.7 600.0 1079.4 C612.5 1078.1 625.0 1076.8 637.5 1075.6 C650.0 1074.4 662.5 1073.5 675.0 1072.4 C687.5 1071.4 700.0 1070.5 712.5 1069.4 C725.0 1068.3 737.5 1067.1 750.0 1065.6 C762.5 1064.2 775.0 1062.5 787.5 1060.8 C800.0 1059.0 812.5 1057.1 825.0 1055.3 C837.5 1053.6 850.0 1051.9 862.5 1050.4 C875.0 1049.0 887.5 1047.8 900.0 1046.7 C912.5 1045.6 925.0 1044.8 937.5 1043.8 C950.0 1042.8 962.5 1042.0 975.0 1040.9 C987.5 1039.8 1000.0 1038.6 1012.5 1037.4 C1025.0 1036.1 1037.5 1034.6 1050.0 1033.3 C1062.5 1032.0 1075.0 1030.7 1087.5 1029.6 C1100.0 1028.4 1112.5 1027.5 1125.0 1026.6 C1137.5 1025.7 1150.0 1025.0 1162.5 1024.2 C1175.0 1023.3 1187.5 1022.4 1200.0 1021.3 C1212.5 1020.2 1225.0 1018.8 1237.5 1017.3 C1250.0 1015.8 1262.5 1013.9 1275.0 1012.2 C1287.5 1010.5 1300.0 1008.6 1312.5 1007.0 C1325.0 1005.4 1337.5 1003.9 1350.0 1002.5 C1362.5 1001.2 1375.0 1000.1 1387.5 999.0 C1400.0 997.8 1412.5 996.8 1425.0 995.7 C1437.5 994.5 1450.0 993.2 1462.5 991.9 C1475.0 990.5 1493.8 988.2 1500.0 987.5" stroke="rgba(62,42,10,0.4)" stroke-width="2.4"/>
<path d="M0.0 1153.2 C6.2 1152.6 25.0 1150.7 37.5 1149.5 C50.0 1148.2 62.5 1147.1 75.0 1145.7 C87.5 1144.3 100.0 1142.8 112.5 1141.2 C125.0 1139.6 137.5 1137.8 150.0 1136.2 C162.5 1134.5 175.0 1132.8 187.5 1131.4 C200.0 1130.0 212.5 1128.8 225.0 1127.7 C237.5 1126.7 250.0 1126.0 262.5 1125.2 C275.0 1124.4 287.5 1123.7 300.0 1122.9 C312.5 1122.0 325.0 1121.0 337.5 1119.8 C350.0 1118.6 362.5 1117.2 375.0 1115.8 C387.5 1114.4 400.0 1112.7 412.5 1111.3 C425.0 1109.9 437.5 1108.5 450.0 1107.3 C462.5 1106.0 475.0 1105.0 487.5 1103.8 C500.0 1102.7 512.5 1101.6 525.0 1100.4 C537.5 1099.1 550.0 1097.7 562.5 1096.2 C575.0 1094.6 587.5 1092.8 600.0 1091.0 C612.5 1089.2 625.0 1087.2 637.5 1085.5 C650.0 1083.9 662.5 1082.2 675.0 1080.8 C687.5 1079.5 700.0 1078.4 712.5 1077.4 C725.0 1076.3 737.5 1075.6 750.0 1074.7 C762.5 1073.7 775.0 1072.8 787.5 1071.8 C800.0 1070.7 812.5 1069.4 825.0 1068.1 C837.5 1066.8 850.0 1065.3 862.5 1063.9 C875.0 1062.6 887.5 1061.2 900.0 1060.1 C912.5 1058.9 925.0 1057.9 937.5 1057.0 C950.0 1056.0 962.5 1055.2 975.0 1054.2 C987.5 1053.1 1000.0 1052.1 1012.5 1050.8 C1025.0 1049.5 1037.5 1047.9 1050.0 1046.2 C1062.5 1044.5 1075.0 1042.6 1087.5 1040.8 C1100.0 1039.0 1112.5 1037.1 1125.0 1035.5 C1137.5 1033.8 1150.0 1032.4 1162.5 1031.1 C1175.0 1029.8 1187.5 1028.8 1200.0 1027.6 C1212.5 1026.5 1225.0 1025.6 1237.5 1024.4 C1250.0 1023.2 1262.5 1021.9 1275.0 1020.6 C1287.5 1019.2 1300.0 1017.7 1312.5 1016.2 C1325.0 1014.8 1337.5 1013.3 1350.0 1012.1 C1362.5 1010.9 1375.0 1009.8 1387.5 1008.9 C1400.0 1007.9 1412.5 1007.3 1425.0 1006.5 C1437.5 1005.6 1450.0 1004.9 1462.5 1003.9 C1475.0 1002.9 1493.8 1001.0 1500.0 1000.4" stroke="rgba(62,42,10,0.5)" stroke-width="1.3"/>
<path d="M0.0 1171.0 C6.2 1170.3 25.0 1168.1 37.5 1166.8 C50.0 1165.5 62.5 1164.4 75.0 1163.1 C87.5 1161.8 100.0 1160.5 112.5 1159.0 C125.0 1157.5 137.5 1155.9 150.0 1154.2 C162.5 1152.5 175.0 1150.6 187.5 1149.0 C200.0 1147.3 212.5 1145.6 225.0 1144.3 C237.5 1142.9 250.0 1141.8 262.5 1140.7 C275.0 1139.7 287.5 1139.0 300.0 1138.2 C312.5 1137.3 325.0 1136.6 337.5 1135.6 C350.0 1134.6 362.5 1133.5 375.0 1132.2 C387.5 1130.9 400.0 1129.4 412.5 1127.9 C425.0 1126.4 437.5 1124.8 450.0 1123.4 C462.5 1122.0 475.0 1120.6 487.5 1119.4 C500.0 1118.1 512.5 1117.1 525.0 1115.9 C537.5 1114.7 550.0 1113.6 562.5 1112.3 C575.0 1110.9 587.5 1109.4 600.0 1107.7 C612.5 1106.0 625.0 1104.0 637.5 1102.2 C650.0 1100.4 662.5 1098.4 675.0 1096.7 C687.5 1095.0 700.0 1093.5 712.5 1092.1 C725.0 1090.8 737.5 1089.8 750.0 1088.8 C762.5 1087.7 775.0 1087.0 787.5 1085.9 C800.0 1084.9 812.5 1083.9 825.0 1082.7 C837.5 1081.5 850.0 1080.1 862.5 1078.8 C875.0 1077.4 887.5 1075.8 900.0 1074.5 C912.5 1073.1 925.0 1071.8 937.5 1070.7 C950.0 1069.5 962.5 1068.6 975.0 1067.6 C987.5 1066.6 1000.0 1065.8 1012.5 1064.7 C1025.0 1063.6 1037.5 1062.4 1050.0 1060.9 C1062.5 1059.5 1075.0 1057.7 1087.5 1056.0 C1100.0 1054.2 1112.5 1052.2 1125.0 1050.3 C1137.5 1048.5 1150.0 1046.7 1162.5 1045.1 C1175.0 1043.5 1187.5 1042.1 1200.0 1040.8 C1212.5 1039.5 1225.0 1038.5 1237.5 1037.4 C1250.0 1036.2 1262.5 1035.1 1275.0 1033.9 C1287.5 1032.6 1300.0 1031.2 1312.5 1029.7 C1325.0 1028.3 1337.5 1026.7 1350.0 1025.2 C1362.5 1023.8 1375.0 1022.3 1387.5 1021.1 C1400.0 1019.9 1412.5 1018.9 1425.0 1018.0 C1437.5 1017.1 1450.0 1016.4 1462.5 1015.6 C1475.0 1014.7 1493.8 1013.2 1500.0 1012.8" stroke="rgba(62,42,10,0.4)" stroke-width="2.4"/>
<path d="M0.0 1188.9 C6.2 1188.3 25.0 1186.1 37.5 1184.9 C50.0 1183.7 62.5 1182.9 75.0 1181.9 C87.5 1180.9 100.0 1180.2 112.5 1179.1 C125.0 1178.1 137.5 1176.9 150.0 1175.6 C162.5 1174.2 175.0 1172.6 187.5 1170.9 C200.0 1169.3 212.5 1167.4 225.0 1165.8 C237.5 1164.1 250.0 1162.5 262.5 1161.0 C275.0 1159.4 287.5 1158.1 300.0 1156.8 C312.5 1155.4 325.0 1154.2 337.5 1152.7 C350.0 1151.3 362.5 1149.7 375.0 1148.0 C387.5 1146.3 400.0 1144.4 412.5 1142.5 C425.0 1140.6 437.5 1138.4 450.0 1136.6 C462.5 1134.8 475.0 1133.0 487.5 1131.6 C500.0 1130.1 512.5 1128.9 525.0 1127.7 C537.5 1126.6 550.0 1125.7 562.5 1124.7 C575.0 1123.7 587.5 1122.7 600.0 1121.5 C612.5 1120.3 625.0 1118.9 637.5 1117.4 C650.0 1116.0 662.5 1114.3 675.0 1112.7 C687.5 1111.2 700.0 1109.6 712.5 1108.2 C725.0 1106.8 737.5 1105.6 750.0 1104.3 C762.5 1103.1 775.0 1102.1 787.5 1100.8 C800.0 1099.6 812.5 1098.3 825.0 1096.8 C837.5 1095.3 850.0 1093.5 862.5 1091.6 C875.0 1089.8 887.5 1087.6 900.0 1085.6 C912.5 1083.7 925.0 1081.6 937.5 1079.8 C950.0 1078.0 962.5 1076.4 975.0 1075.0 C987.5 1073.6 1000.0 1072.4 1012.5 1071.2 C1025.0 1070.0 1037.5 1068.9 1050.0 1067.7 C1062.5 1066.4 1075.0 1065.1 1087.5 1063.6 C1100.0 1062.2 1112.5 1060.5 1125.0 1059.0 C1137.5 1057.4 1150.0 1055.8 1162.5 1054.4 C1175.0 1053.0 1187.5 1051.7 1200.0 1050.6 C1212.5 1049.4 1225.0 1048.5 1237.5 1047.5 C1250.0 1046.5 1262.5 1045.6 1275.0 1044.3 C1287.5 1043.1 1300.0 1041.7 1312.5 1040.2 C1325.0 1038.6 1337.5 1036.7 1350.0 1034.8 C1362.5 1032.9 1375.0 1030.8 1387.5 1028.9 C1400.0 1027.0 1412.5 1025.2 1425.0 1023.6 C1437.5 1021.9 1450.0 1020.5 1462.5 1019.1 C1475.0 1017.7 1493.8 1015.8 1500.0 1015.1" stroke="rgba(62,42,10,0.3)" stroke-width="1.8"/>
<path d="M0.0 1193.9 C6.2 1193.3 25.0 1191.1 37.5 1189.9 C50.0 1188.7 62.5 1187.9 75.0 1186.9 C87.5 1185.9 100.0 1185.2 112.5 1184.1 C125.0 1183.1 137.5 1181.9 150.0 1180.6 C162.5 1179.2 175.0 1177.6 187.5 1175.9 C200.0 1174.3 212.5 1172.4 225.0 1170.8 C237.5 1169.1 250.0 1167.5 262.5 1166.0 C275.0 1164.4 287.5 1163.1 300.0 1161.8 C312.5 1160.4 325.0 1159.2 337.5 1157.7 C350.0 1156.3 362.5 1154.7 375.0 1153.0 C387.5 1151.3 400.0 1149.4 412.5 1147.5 C425.0 1145.6 437.5 1143.4 450.0 1141.6 C462.5 1139.8 475.0 1138.0 487.5 1136.6 C500.0 1135.1 512.5 1133.9 525.0 1132.7 C537.5 1131.6 550.0 1130.7 562.5 1129.7 C575.0 1128.7 587.5 1127.7 600.0 1126.5 C612.5 1125.3 625.0 1123.9 637.5 1122.4 C650.0 1121.0 662.5 1119.3 675.0 1117.7 C687.5 1116.2 700.0 1114.6 712.5 1113.2 C725.0 1111.8 737.5 1110.6 750.0 1109.3 C762.5 1108.1 775.0 1107.1 787.5 1105.8 C800.0 1104.6 812.5 1103.3 825.0 1101.8 C837.5 1100.3 850.0 1098.5 862.5 1096.6 C875.0 1094.8 887.5 1092.6 900.0 1090.6 C912.5 1088.7 925.0 1086.6 937.5 1084.8 C950.0 1083.0 962.5 1081.4 975.0 1080.0 C987.5 1078.6 1000.0 1077.4 1012.5 1076.2 C1025.0 1075.0 1037.5 1073.9 1050.0 1072.7 C1062.5 1071.4 1075.0 1070.1 1087.5 1068.6 C1100.0 1067.2 1112.5 1065.5 1125.0 1064.0 C1137.5 1062.4 1150.0 1060.8 1162.5 1059.4 C1175.0 1058.0 1187.5 1056.7 1200.0 1055.6 C1212.5 1054.4 1225.0 1053.5 1237.5 1052.5 C1250.0 1051.5 1262.5 1050.6 1275.0 1049.3 C1287.5 1048.1 1300.0 1046.7 1312.5 1045.2 C1325.0 1043.6 1337.5 1041.7 1350.0 1039.8 C1362.5 1037.9 1375.0 1035.8 1387.5 1033.9 C1400.0 1032.0 1412.5 1030.2 1425.0 1028.6 C1437.5 1026.9 1450.0 1025.5 1462.5 1024.1 C1475.0 1022.7 1493.8 1020.8 1500.0 1020.1" stroke="rgba(190,150,80,0.22)" stroke-width="5"/>
<path d="M0.0 1188.7 C6.2 1188.1 25.0 1186.0 37.5 1184.9 C50.0 1183.8 62.5 1183.0 75.0 1182.1 C87.5 1181.3 100.0 1180.7 112.5 1179.7 C125.0 1178.8 137.5 1177.9 150.0 1176.7 C162.5 1175.5 175.0 1174.0 187.5 1172.5 C200.0 1171.0 212.5 1169.3 225.0 1167.7 C237.5 1166.2 250.0 1164.6 262.5 1163.2 C275.0 1161.8 287.5 1160.6 300.0 1159.3 C312.5 1158.0 325.0 1157.0 337.5 1155.6 C350.0 1154.3 362.5 1153.0 375.0 1151.4 C387.5 1149.8 400.0 1148.0 412.5 1146.3 C425.0 1144.5 437.5 1142.5 450.0 1140.8 C462.5 1139.0 475.0 1137.3 487.5 1135.9 C500.0 1134.5 512.5 1133.4 525.0 1132.3 C537.5 1131.2 550.0 1130.5 562.5 1129.6 C575.0 1128.7 587.5 1127.8 600.0 1126.8 C612.5 1125.7 625.0 1124.5 637.5 1123.2 C650.0 1121.9 662.5 1120.3 675.0 1118.9 C687.5 1117.5 700.0 1116.0 712.5 1114.6 C725.0 1113.3 737.5 1112.2 750.0 1111.1 C762.5 1109.9 775.0 1109.0 787.5 1107.9 C800.0 1106.8 812.5 1105.7 825.0 1104.3 C837.5 1103.0 850.0 1101.4 862.5 1099.7 C875.0 1098.0 887.5 1096.0 900.0 1094.1 C912.5 1092.2 925.0 1090.2 937.5 1088.5 C950.0 1086.9 962.5 1085.3 975.0 1083.9 C987.5 1082.6 1000.0 1081.5 1012.5 1080.4 C1025.0 1079.3 1037.5 1078.4 1050.0 1077.2 C1062.5 1076.1 1075.0 1074.9 1087.5 1073.6 C1100.0 1072.3 1112.5 1070.8 1125.0 1069.4 C1137.5 1067.9 1150.0 1066.4 1162.5 1065.1 C1175.0 1063.8 1187.5 1062.6 1200.0 1061.5 C1212.5 1060.5 1225.0 1059.7 1237.5 1058.7 C1250.0 1057.8 1262.5 1057.1 1275.0 1056.0 C1287.5 1054.9 1300.0 1053.8 1312.5 1052.3 C1325.0 1050.9 1337.5 1049.2 1350.0 1047.4 C1362.5 1045.7 1375.0 1043.7 1387.5 1041.9 C1400.0 1040.2 1412.5 1038.4 1425.0 1036.8 C1437.5 1035.3 1450.0 1034.0 1462.5 1032.6 C1475.0 1031.3 1493.8 1029.6 1500.0 1029.0" stroke="rgba(62,42,10,0.3)" stroke-width="1.0"/>
<path d="M0.0 1212.0 C6.2 1211.1 25.0 1208.4 37.5 1206.8 C50.0 1205.1 62.5 1203.5 75.0 1202.1 C87.5 1200.6 100.0 1199.4 112.5 1198.0 C125.0 1196.7 137.5 1195.5 150.0 1194.1 C162.5 1192.6 175.0 1191.1 187.5 1189.4 C200.0 1187.7 212.5 1185.8 225.0 1184.0 C237.5 1182.2 250.0 1180.3 262.5 1178.7 C275.0 1177.1 287.5 1175.6 300.0 1174.3 C312.5 1173.1 325.0 1172.1 337.5 1171.1 C350.0 1170.2 362.5 1169.5 375.0 1168.5 C387.5 1167.5 400.0 1166.6 412.5 1165.4 C425.0 1164.2 437.5 1162.7 450.0 1161.3 C462.5 1159.8 475.0 1158.1 487.5 1156.6 C500.0 1155.1 512.5 1153.6 525.0 1152.2 C537.5 1150.8 550.0 1149.6 562.5 1148.4 C575.0 1147.2 587.5 1146.1 600.0 1144.8 C612.5 1143.5 625.0 1142.2 637.5 1140.6 C650.0 1139.0 662.5 1137.2 675.0 1135.3 C687.5 1133.5 700.0 1131.4 712.5 1129.5 C725.0 1127.6 737.5 1125.7 750.0 1124.2 C762.5 1122.6 775.0 1121.2 787.5 1120.0 C800.0 1118.8 812.5 1117.8 825.0 1116.8 C837.5 1115.7 850.0 1114.8 862.5 1113.6 C875.0 1112.4 887.5 1111.1 900.0 1109.7 C912.5 1108.4 925.0 1106.8 937.5 1105.3 C950.0 1103.9 962.5 1102.3 975.0 1101.0 C987.5 1099.7 1000.0 1098.6 1012.5 1097.5 C1025.0 1096.4 1037.5 1095.6 1050.0 1094.5 C1062.5 1093.4 1075.0 1092.4 1087.5 1091.1 C1100.0 1089.8 1112.5 1088.3 1125.0 1086.6 C1137.5 1084.9 1150.0 1082.9 1162.5 1081.1 C1175.0 1079.2 1187.5 1077.1 1200.0 1075.3 C1212.5 1073.5 1225.0 1071.8 1237.5 1070.4 C1250.0 1068.9 1262.5 1067.6 1275.0 1066.4 C1287.5 1065.1 1300.0 1064.0 1312.5 1062.7 C1325.0 1061.5 1337.5 1060.1 1350.0 1058.7 C1362.5 1057.2 1375.0 1055.6 1387.5 1054.0 C1400.0 1052.5 1412.5 1050.8 1425.0 1049.4 C1437.5 1048.0 1450.0 1046.7 1462.5 1045.6 C1475.0 1044.5 1493.8 1043.2 1500.0 1042.7" stroke="rgba(62,42,10,0.4)" stroke-width="1.8"/>
<path d="M0.0 1222.8 C6.2 1222.0 25.0 1219.4 37.5 1217.6 C50.0 1215.9 62.5 1214.1 75.0 1212.5 C87.5 1210.8 100.0 1209.4 112.5 1208.0 C125.0 1206.5 137.5 1205.3 150.0 1203.9 C162.5 1202.5 175.0 1201.2 187.5 1199.6 C200.0 1198.0 212.5 1196.2 225.0 1194.5 C237.5 1192.7 250.0 1190.6 262.5 1188.8 C275.0 1187.0 287.5 1185.2 300.0 1183.6 C312.5 1182.1 325.0 1180.8 337.5 1179.6 C350.0 1178.5 362.5 1177.6 375.0 1176.7 C387.5 1175.7 400.0 1174.9 412.5 1173.8 C425.0 1172.7 437.5 1171.5 450.0 1170.2 C462.5 1168.8 475.0 1167.2 487.5 1165.6 C500.0 1164.1 512.5 1162.4 525.0 1160.9 C537.5 1159.4 550.0 1157.9 562.5 1156.6 C575.0 1155.3 587.5 1154.2 600.0 1152.9 C612.5 1151.6 625.0 1150.5 637.5 1149.0 C650.0 1147.6 662.5 1146.0 675.0 1144.3 C687.5 1142.5 700.0 1140.5 712.5 1138.5 C725.0 1136.6 737.5 1134.5 750.0 1132.6 C762.5 1130.8 775.0 1129.1 787.5 1127.6 C800.0 1126.1 812.5 1124.9 825.0 1123.8 C837.5 1122.6 850.0 1121.6 862.5 1120.5 C875.0 1119.4 887.5 1118.3 900.0 1117.0 C912.5 1115.7 925.0 1114.2 937.5 1112.7 C950.0 1111.2 962.5 1109.5 975.0 1108.1 C987.5 1106.6 1000.0 1105.2 1012.5 1104.0 C1025.0 1102.7 1037.5 1101.7 1050.0 1100.6 C1062.5 1099.5 1075.0 1098.7 1087.5 1097.5 C1100.0 1096.3 1112.5 1095.1 1125.0 1093.6 C1137.5 1092.1 1150.0 1090.3 1162.5 1088.5 C1175.0 1086.7 1187.5 1084.5 1200.0 1082.6 C1212.5 1080.7 1225.0 1078.7 1237.5 1077.0 C1250.0 1075.3 1262.5 1073.8 1275.0 1072.3 C1287.5 1070.9 1300.0 1069.7 1312.5 1068.4 C1325.0 1067.2 1337.5 1066.0 1350.0 1064.6 C1362.5 1063.2 1375.0 1061.6 1387.5 1060.1 C1400.0 1058.5 1412.5 1056.8 1425.0 1055.2 C1437.5 1053.6 1450.0 1052.0 1462.5 1050.7 C1475.0 1049.4 1493.8 1047.8 1500.0 1047.2" stroke="rgba(62,42,10,0.3)" stroke-width="1.3"/>
<path d="M0.0 1228.1 C6.2 1227.4 25.0 1225.6 37.5 1224.3 C50.0 1223.0 62.5 1221.7 75.0 1220.3 C87.5 1218.8 100.0 1217.2 112.5 1215.6 C125.0 1213.9 137.5 1212.0 150.0 1210.3 C162.5 1208.6 175.0 1206.9 187.5 1205.5 C200.0 1204.0 212.5 1202.8 225.0 1201.7 C237.5 1200.6 250.0 1199.9 262.5 1199.0 C275.0 1198.2 287.5 1197.5 300.0 1196.5 C312.5 1195.6 325.0 1194.5 337.5 1193.2 C350.0 1192.0 362.5 1190.5 375.0 1189.0 C387.5 1187.5 400.0 1185.8 412.5 1184.4 C425.0 1182.9 437.5 1181.5 450.0 1180.2 C462.5 1178.9 475.0 1177.8 487.5 1176.6 C500.0 1175.4 512.5 1174.3 525.0 1172.9 C537.5 1171.6 550.0 1170.1 562.5 1168.5 C575.0 1166.8 587.5 1164.9 600.0 1163.1 C612.5 1161.3 625.0 1159.2 637.5 1157.5 C650.0 1155.8 662.5 1154.1 675.0 1152.7 C687.5 1151.3 700.0 1150.2 712.5 1149.1 C725.0 1148.1 737.5 1147.3 750.0 1146.3 C762.5 1145.3 775.0 1144.3 787.5 1143.2 C800.0 1142.0 812.5 1140.7 825.0 1139.3 C837.5 1137.9 850.0 1136.3 862.5 1135.0 C875.0 1133.6 887.5 1132.2 900.0 1131.0 C912.5 1129.8 925.0 1128.8 937.5 1127.7 C950.0 1126.7 962.5 1125.9 975.0 1124.8 C987.5 1123.7 1000.0 1122.5 1012.5 1121.1 C1025.0 1119.7 1037.5 1118.1 1050.0 1116.3 C1062.5 1114.6 1075.0 1112.5 1087.5 1110.7 C1100.0 1108.8 1112.5 1106.9 1125.0 1105.2 C1137.5 1103.6 1150.0 1102.1 1162.5 1100.8 C1175.0 1099.4 1187.5 1098.4 1200.0 1097.2 C1212.5 1096.0 1225.0 1095.0 1237.5 1093.7 C1250.0 1092.5 1262.5 1091.1 1275.0 1089.7 C1287.5 1088.3 1300.0 1086.7 1312.5 1085.2 C1325.0 1083.8 1337.5 1082.2 1350.0 1081.0 C1362.5 1079.7 1375.0 1078.6 1387.5 1077.7 C1400.0 1076.7 1412.5 1076.0 1425.0 1075.1 C1437.5 1074.2 1450.0 1073.4 1462.5 1072.3 C1475.0 1071.3 1493.8 1069.2 1500.0 1068.6" stroke="rgba(62,42,10,0.5)" stroke-width="2.4"/>
<path d="M0.0 1233.1 C6.2 1232.4 25.0 1230.6 37.5 1229.3 C50.0 1228.0 62.5 1226.7 75.0 1225.3 C87.5 1223.8 100.0 1222.2 112.5 1220.6 C125.0 1218.9 137.5 1217.0 150.0 1215.3 C162.5 1213.6 175.0 1211.9 187.5 1210.5 C200.0 1209.0 212.5 1207.8 225.0 1206.7 C237.5 1205.6 250.0 1204.9 262.5 1204.0 C275.0 1203.2 287.5 1202.5 300.0 1201.5 C312.5 1200.6 325.0 1199.5 337.5 1198.2 C350.0 1197.0 362.5 1195.5 375.0 1194.0 C387.5 1192.5 400.0 1190.8 412.5 1189.4 C425.0 1187.9 437.5 1186.5 450.0 1185.2 C462.5 1183.9 475.0 1182.8 487.5 1181.6 C500.0 1180.4 512.5 1179.3 525.0 1177.9 C537.5 1176.6 550.0 1175.1 562.5 1173.5 C575.0 1171.8 587.5 1169.9 600.0 1168.1 C612.5 1166.3 625.0 1164.2 637.5 1162.5 C650.0 1160.8 662.5 1159.1 675.0 1157.7 C687.5 1156.3 700.0 1155.2 712.5 1154.1 C725.0 1153.1 737.5 1152.3 750.0 1151.3 C762.5 1150.3 775.0 1149.3 787.5 1148.2 C800.0 1147.0 812.5 1145.7 825.0 1144.3 C837.5 1142.9 850.0 1141.3 862.5 1140.0 C875.0 1138.6 887.5 1137.2 900.0 1136.0 C912.5 1134.8 925.0 1133.8 937.5 1132.7 C950.0 1131.7 962.5 1130.9 975.0 1129.8 C987.5 1128.7 1000.0 1127.5 1012.5 1126.1 C1025.0 1124.7 1037.5 1123.1 1050.0 1121.3 C1062.5 1119.6 1075.0 1117.5 1087.5 1115.7 C1100.0 1113.8 1112.5 1111.9 1125.0 1110.2 C1137.5 1108.6 1150.0 1107.1 1162.5 1105.8 C1175.0 1104.4 1187.5 1103.4 1200.0 1102.2 C1212.5 1101.0 1225.0 1100.0 1237.5 1098.7 C1250.0 1097.5 1262.5 1096.1 1275.0 1094.7 C1287.5 1093.3 1300.0 1091.7 1312.5 1090.2 C1325.0 1088.8 1337.5 1087.2 1350.0 1086.0 C1362.5 1084.7 1375.0 1083.6 1387.5 1082.7 C1400.0 1081.7 1412.5 1081.0 1425.0 1080.1 C1437.5 1079.2 1450.0 1078.4 1462.5 1077.3 C1475.0 1076.3 1493.8 1074.2 1500.0 1073.6" stroke="rgba(190,150,80,0.22)" stroke-width="5"/>
<path d="M0.0 1236.6 C6.2 1235.8 25.0 1233.6 37.5 1232.0 C50.0 1230.3 62.5 1228.5 75.0 1226.8 C87.5 1225.2 100.0 1223.5 112.5 1222.1 C125.0 1220.7 137.5 1219.5 150.0 1218.5 C162.5 1217.5 175.0 1216.8 187.5 1215.9 C200.0 1215.1 212.5 1214.4 225.0 1213.4 C237.5 1212.5 250.0 1211.4 262.5 1210.1 C275.0 1208.8 287.5 1207.2 300.0 1205.7 C312.5 1204.2 325.0 1202.5 337.5 1201.0 C350.0 1199.5 362.5 1198.1 375.0 1196.8 C387.5 1195.5 400.0 1194.4 412.5 1193.2 C425.0 1191.9 437.5 1190.8 450.0 1189.5 C462.5 1188.1 475.0 1186.6 487.5 1184.9 C500.0 1183.3 512.5 1181.4 525.0 1179.5 C537.5 1177.7 550.0 1175.7 562.5 1174.0 C575.0 1172.3 587.5 1170.7 600.0 1169.4 C612.5 1168.1 625.0 1167.0 637.5 1166.0 C650.0 1165.0 662.5 1164.2 675.0 1163.3 C687.5 1162.3 700.0 1161.4 712.5 1160.2 C725.0 1159.0 737.5 1157.7 750.0 1156.3 C762.5 1154.9 775.0 1153.4 787.5 1152.0 C800.0 1150.6 812.5 1149.2 825.0 1148.0 C837.5 1146.8 850.0 1145.8 862.5 1144.7 C875.0 1143.6 887.5 1142.8 900.0 1141.6 C912.5 1140.5 925.0 1139.3 937.5 1137.9 C950.0 1136.4 962.5 1134.7 975.0 1132.9 C987.5 1131.2 1000.0 1129.1 1012.5 1127.3 C1025.0 1125.4 1037.5 1123.5 1050.0 1121.9 C1062.5 1120.3 1075.0 1118.8 1087.5 1117.5 C1100.0 1116.3 1112.5 1115.2 1125.0 1114.1 C1137.5 1113.0 1150.0 1112.0 1162.5 1110.7 C1175.0 1109.5 1187.5 1108.2 1200.0 1106.8 C1212.5 1105.4 1225.0 1103.8 1237.5 1102.4 C1250.0 1100.9 1262.5 1099.4 1275.0 1098.2 C1287.5 1097.0 1300.0 1095.9 1312.5 1094.9 C1325.0 1094.0 1337.5 1093.3 1350.0 1092.3 C1362.5 1091.4 1375.0 1090.6 1387.5 1089.5 C1400.0 1088.4 1412.5 1087.1 1425.0 1085.6 C1437.5 1084.1 1450.0 1082.2 1462.5 1080.5 C1475.0 1078.7 1493.8 1076.0 1500.0 1075.1" stroke="rgba(62,42,10,0.3)" stroke-width="1.8"/>
<path d="M0.0 1256.9 C6.2 1256.1 25.0 1253.6 37.5 1252.0 C50.0 1250.3 62.5 1248.5 75.0 1246.9 C87.5 1245.3 100.0 1243.8 112.5 1242.4 C125.0 1241.0 137.5 1239.8 150.0 1238.4 C162.5 1237.1 175.0 1235.9 187.5 1234.4 C200.0 1232.9 212.5 1231.3 225.0 1229.6 C237.5 1227.9 250.0 1225.9 262.5 1224.2 C275.0 1222.4 287.5 1220.5 300.0 1218.9 C312.5 1217.4 325.0 1216.0 337.5 1214.8 C350.0 1213.6 362.5 1212.8 375.0 1211.8 C387.5 1210.9 400.0 1210.2 412.5 1209.2 C425.0 1208.2 437.5 1207.2 450.0 1205.9 C462.5 1204.7 475.0 1203.2 487.5 1201.7 C500.0 1200.2 512.5 1198.5 525.0 1197.1 C537.5 1195.6 550.0 1194.1 562.5 1192.8 C575.0 1191.5 587.5 1190.4 600.0 1189.2 C612.5 1188.0 625.0 1187.0 637.5 1185.6 C650.0 1184.3 662.5 1182.9 675.0 1181.3 C687.5 1179.6 700.0 1177.7 712.5 1175.9 C725.0 1174.0 737.5 1171.9 750.0 1170.1 C762.5 1168.2 775.0 1166.4 787.5 1164.9 C800.0 1163.4 812.5 1162.2 825.0 1161.0 C837.5 1159.8 850.0 1158.9 862.5 1157.8 C875.0 1156.8 887.5 1155.8 900.0 1154.6 C912.5 1153.4 925.0 1152.0 937.5 1150.6 C950.0 1149.2 962.5 1147.6 975.0 1146.2 C987.5 1144.7 1000.0 1143.3 1012.5 1142.0 C1025.0 1140.8 1037.5 1139.7 1050.0 1138.7 C1062.5 1137.6 1075.0 1136.8 1087.5 1135.8 C1100.0 1134.7 1112.5 1133.6 1125.0 1132.3 C1137.5 1130.9 1150.0 1129.3 1162.5 1127.6 C1175.0 1125.9 1187.5 1123.9 1200.0 1122.0 C1212.5 1120.1 1225.0 1118.1 1237.5 1116.4 C1250.0 1114.7 1262.5 1113.1 1275.0 1111.6 C1287.5 1110.2 1300.0 1109.0 1312.5 1107.8 C1325.0 1106.5 1337.5 1105.4 1350.0 1104.1 C1362.5 1102.8 1375.0 1101.4 1387.5 1099.9 C1400.0 1098.5 1412.5 1096.8 1425.0 1095.2 C1437.5 1093.7 1450.0 1092.1 1462.5 1090.7 C1475.0 1089.4 1493.8 1087.7 1500.0 1087.1" stroke="rgba(62,42,10,0.5)" stroke-width="1.3"/>
<path d="M0.0 1255.7 C6.2 1255.0 25.0 1253.1 37.5 1251.6 C50.0 1250.2 62.5 1248.5 75.0 1247.0 C87.5 1245.4 100.0 1243.8 112.5 1242.5 C125.0 1241.1 137.5 1240.0 150.0 1239.0 C162.5 1238.0 175.0 1237.4 187.5 1236.6 C200.0 1235.9 212.5 1235.4 225.0 1234.7 C237.5 1233.9 250.0 1233.1 262.5 1232.1 C275.0 1231.0 287.5 1229.7 300.0 1228.4 C312.5 1227.1 325.0 1225.5 337.5 1224.2 C350.0 1222.8 362.5 1221.4 375.0 1220.2 C387.5 1219.0 400.0 1218.0 412.5 1216.9 C425.0 1215.8 437.5 1214.9 450.0 1213.8 C462.5 1212.6 475.0 1211.4 487.5 1210.0 C500.0 1208.5 512.5 1206.9 525.0 1205.2 C537.5 1203.6 550.0 1201.7 562.5 1200.1 C575.0 1198.5 587.5 1196.9 600.0 1195.6 C612.5 1194.3 625.0 1193.2 637.5 1192.3 C650.0 1191.3 662.5 1190.7 675.0 1189.9 C687.5 1189.1 700.0 1188.4 712.5 1187.4 C725.0 1186.5 737.5 1185.4 750.0 1184.2 C762.5 1183.0 775.0 1181.6 787.5 1180.4 C800.0 1179.1 812.5 1177.8 825.0 1176.7 C837.5 1175.5 850.0 1174.6 862.5 1173.7 C875.0 1172.7 887.5 1172.0 900.0 1171.1 C912.5 1170.1 925.0 1169.2 937.5 1168.0 C950.0 1166.8 962.5 1165.4 975.0 1163.9 C987.5 1162.3 1000.0 1160.5 1012.5 1158.8 C1025.0 1157.1 1037.5 1155.2 1050.0 1153.7 C1062.5 1152.1 1075.0 1150.7 1087.5 1149.4 C1100.0 1148.2 1112.5 1147.3 1125.0 1146.3 C1137.5 1145.2 1150.0 1144.4 1162.5 1143.4 C1175.0 1142.4 1187.5 1141.3 1200.0 1140.1 C1212.5 1138.9 1225.0 1137.4 1237.5 1136.1 C1250.0 1134.8 1262.5 1133.4 1275.0 1132.3 C1287.5 1131.1 1300.0 1130.1 1312.5 1129.2 C1325.0 1128.3 1337.5 1127.7 1350.0 1126.9 C1362.5 1126.2 1375.0 1125.6 1387.5 1124.7 C1400.0 1123.8 1412.5 1122.8 1425.0 1121.6 C1437.5 1120.3 1450.0 1118.8 1462.5 1117.2 C1475.0 1115.7 1493.8 1113.1 1500.0 1112.3" stroke="rgba(62,42,10,0.3)" stroke-width="2.4"/>
<path d="M0.0 1275.6 C6.2 1275.1 25.0 1273.7 37.5 1272.7 C50.0 1271.8 62.5 1271.0 75.0 1269.9 C87.5 1268.8 100.0 1267.6 112.5 1266.2 C125.0 1264.8 137.5 1263.1 150.0 1261.4 C162.5 1259.7 175.0 1257.9 187.5 1256.2 C200.0 1254.6 212.5 1252.9 225.0 1251.5 C237.5 1250.0 250.0 1248.7 262.5 1247.4 C275.0 1246.0 287.5 1244.8 300.0 1243.3 C312.5 1241.8 325.0 1240.2 337.5 1238.5 C350.0 1236.7 362.5 1234.7 375.0 1232.8 C387.5 1231.0 400.0 1228.9 412.5 1227.2 C425.0 1225.4 437.5 1223.8 450.0 1222.4 C462.5 1221.0 475.0 1219.9 487.5 1218.8 C500.0 1217.7 512.5 1216.9 525.0 1215.9 C537.5 1214.9 550.0 1213.9 562.5 1212.6 C575.0 1211.4 587.5 1209.9 600.0 1208.4 C612.5 1207.0 625.0 1205.3 637.5 1203.7 C650.0 1202.2 662.5 1200.7 675.0 1199.3 C687.5 1197.9 700.0 1196.7 712.5 1195.5 C725.0 1194.3 737.5 1193.2 750.0 1192.0 C762.5 1190.7 775.0 1189.3 787.5 1187.7 C800.0 1186.2 812.5 1184.3 825.0 1182.4 C837.5 1180.5 850.0 1178.4 862.5 1176.4 C875.0 1174.5 887.5 1172.5 900.0 1170.8 C912.5 1169.1 925.0 1167.6 937.5 1166.2 C950.0 1164.9 962.5 1163.8 975.0 1162.6 C987.5 1161.4 1000.0 1160.4 1012.5 1159.1 C1025.0 1157.9 1037.5 1156.5 1050.0 1155.0 C1062.5 1153.6 1075.0 1151.9 1087.5 1150.4 C1100.0 1148.9 1112.5 1147.3 1125.0 1146.0 C1137.5 1144.6 1150.0 1143.4 1162.5 1142.3 C1175.0 1141.2 1187.5 1140.3 1200.0 1139.3 C1212.5 1138.2 1225.0 1137.3 1237.5 1136.0 C1250.0 1134.7 1262.5 1133.2 1275.0 1131.6 C1287.5 1129.9 1300.0 1127.9 1312.5 1126.0 C1325.0 1124.2 1337.5 1122.0 1350.0 1120.2 C1362.5 1118.4 1375.0 1116.6 1387.5 1115.0 C1400.0 1113.4 1412.5 1112.1 1425.0 1110.7 C1437.5 1109.4 1450.0 1108.2 1462.5 1106.8 C1475.0 1105.4 1493.8 1103.2 1500.0 1102.5" stroke="rgba(62,42,10,0.5)" stroke-width="1.3"/>
<path d="M0.0 1280.6 C6.2 1280.1 25.0 1278.7 37.5 1277.7 C50.0 1276.8 62.5 1276.0 75.0 1274.9 C87.5 1273.8 100.0 1272.6 112.5 1271.2 C125.0 1269.8 137.5 1268.1 150.0 1266.4 C162.5 1264.7 175.0 1262.9 187.5 1261.2 C200.0 1259.6 212.5 1257.9 225.0 1256.5 C237.5 1255.0 250.0 1253.7 262.5 1252.4 C275.0 1251.0 287.5 1249.8 300.0 1248.3 C312.5 1246.8 325.0 1245.2 337.5 1243.5 C350.0 1241.7 362.5 1239.7 375.0 1237.8 C387.5 1236.0 400.0 1233.9 412.5 1232.2 C425.0 1230.4 437.5 1228.8 450.0 1227.4 C462.5 1226.0 475.0 1224.9 487.5 1223.8 C500.0 1222.7 512.5 1221.9 525.0 1220.9 C537.5 1219.9 550.0 1218.9 562.5 1217.6 C575.0 1216.4 587.5 1214.9 600.0 1213.4 C612.5 1212.0 625.0 1210.3 637.5 1208.7 C650.0 1207.2 662.5 1205.7 675.0 1204.3 C687.5 1202.9 700.0 1201.7 712.5 1200.5 C725.0 1199.3 737.5 1198.2 750.0 1197.0 C762.5 1195.7 775.0 1194.3 787.5 1192.7 C800.0 1191.2 812.5 1189.3 825.0 1187.4 C837.5 1185.5 850.0 1183.4 862.5 1181.4 C875.0 1179.5 887.5 1177.5 900.0 1175.8 C912.5 1174.1 925.0 1172.6 937.5 1171.2 C950.0 1169.9 962.5 1168.8 975.0 1167.6 C987.5 1166.4 1000.0 1165.4 1012.5 1164.1 C1025.0 1162.9 1037.5 1161.5 1050.0 1160.0 C1062.5 1158.6 1075.0 1156.9 1087.5 1155.4 C1100.0 1153.9 1112.5 1152.3 1125.0 1151.0 C1137.5 1149.6 1150.0 1148.4 1162.5 1147.3 C1175.0 1146.2 1187.5 1145.3 1200.0 1144.3 C1212.5 1143.2 1225.0 1142.3 1237.5 1141.0 C1250.0 1139.7 1262.5 1138.2 1275.0 1136.6 C1287.5 1134.9 1300.0 1132.9 1312.5 1131.0 C1325.0 1129.2 1337.5 1127.0 1350.0 1125.2 C1362.5 1123.4 1375.0 1121.6 1387.5 1120.0 C1400.0 1118.4 1412.5 1117.1 1425.0 1115.7 C1437.5 1114.4 1450.0 1113.2 1462.5 1111.8 C1475.0 1110.4 1493.8 1108.2 1500.0 1107.5" stroke="rgba(190,150,80,0.22)" stroke-width="5"/>
</g>
<polygon points="5.0,995.0 404.0,1125.8 438.0,1113.8 35.0,991.0" fill="rgba(160,122,58,0.55)" clip-path="url(#ctop)"/>
<path d="M35 991 L438 1113.82551752112" stroke="rgba(70,46,12,0.45)" stroke-width="1.6" fill="none" clip-path="url(#ctop)"/>
<path d="M404.0 1125.8 C411.6 1125.0 434.3 1122.7 449.4 1121.1 C464.6 1119.6 479.7 1117.9 494.9 1116.3 C510.0 1114.7 525.2 1113.0 540.3 1111.3 C555.5 1109.6 570.6 1107.9 585.8 1106.2 C600.9 1104.5 616.0 1102.7 631.2 1100.9 C646.3 1099.1 661.5 1097.3 676.6 1095.5 C691.8 1093.6 706.9 1091.8 722.1 1089.9 C737.2 1088.0 752.4 1086.1 767.5 1084.2 C782.6 1082.3 797.8 1080.3 812.9 1078.3 C828.1 1076.3 843.2 1074.3 858.4 1072.3 C873.5 1070.3 888.7 1068.2 903.8 1066.1 C919.0 1064.0 934.1 1061.9 949.2 1059.8 C964.4 1057.7 979.5 1055.5 994.7 1053.3 C1009.8 1051.2 1025.0 1049.0 1040.1 1046.7 C1055.3 1044.5 1070.4 1042.2 1085.6 1040.0 C1100.7 1037.7 1115.9 1035.4 1131.0 1033.1 C1146.1 1030.7 1161.3 1028.4 1176.4 1026.0 C1191.6 1023.6 1206.7 1021.2 1221.9 1018.8 C1237.0 1016.4 1252.2 1013.9 1267.3 1011.4 C1282.5 1009.0 1297.6 1006.5 1312.8 1003.9 C1327.9 1001.4 1343.0 998.9 1358.2 996.3 C1373.3 993.7 1388.5 991.1 1403.6 988.5 C1418.8 985.9 1433.9 983.2 1449.1 980.6 C1464.2 977.9 1486.9 973.8 1494.5 972.5" fill="none" stroke="rgba(178,132,62,0.8)" stroke-width="8" clip-path="url(#cwood)"/>
<path d="M5 995 L404 1125.82551752112" fill="none" stroke="rgba(150,110,50,0.8)" stroke-width="4" clip-path="url(#cwood)"/>
<path d="M404.0 1130.8 C411.6 1130.0 434.3 1127.7 449.4 1126.1 C464.6 1124.6 479.7 1122.9 494.9 1121.3 C510.0 1119.7 525.2 1118.0 540.3 1116.3 C555.5 1114.6 570.6 1112.9 585.8 1111.2 C600.9 1109.5 616.0 1107.7 631.2 1105.9 C646.3 1104.1 661.5 1102.3 676.6 1100.5 C691.8 1098.6 706.9 1096.8 722.1 1094.9 C737.2 1093.0 752.4 1091.1 767.5 1089.2 C782.6 1087.3 797.8 1085.3 812.9 1083.3 C828.1 1081.3 843.2 1079.3 858.4 1077.3 C873.5 1075.3 888.7 1073.2 903.8 1071.1 C919.0 1069.0 934.1 1066.9 949.2 1064.8 C964.4 1062.7 979.5 1060.5 994.7 1058.3 C1009.8 1056.2 1025.0 1054.0 1040.1 1051.7 C1055.3 1049.5 1070.4 1047.2 1085.6 1045.0 C1100.7 1042.7 1115.9 1040.4 1131.0 1038.1 C1146.1 1035.7 1161.3 1033.4 1176.4 1031.0 C1191.6 1028.6 1206.7 1026.2 1221.9 1023.8 C1237.0 1021.4 1252.2 1018.9 1267.3 1016.4 C1282.5 1014.0 1297.6 1011.5 1312.8 1008.9 C1327.9 1006.4 1343.0 1003.9 1358.2 1001.3 C1373.3 998.7 1388.5 996.1 1403.6 993.5 C1418.8 990.9 1433.9 988.2 1449.1 985.6 C1464.2 982.9 1486.9 978.8 1494.5 977.5" fill="none" stroke="rgba(90,55,14,0.5)" stroke-width="2.2" clip-path="url(#cwood)"/>
<g clip-path="url(#cfront)" fill="none" stroke-linecap="round">
<path d="M400.0 1146.6 C406.1 1145.6 424.4 1142.4 436.7 1140.3 C448.9 1138.1 461.1 1135.9 473.3 1133.6 C485.6 1131.3 497.8 1128.9 510.0 1126.3 C522.2 1123.8 534.4 1121.1 546.7 1118.4 C558.9 1115.6 571.1 1112.8 583.3 1109.9 C595.6 1107.1 607.8 1104.1 620.0 1101.3 C632.2 1098.4 644.4 1095.6 656.7 1092.8 C668.9 1090.1 681.1 1087.4 693.3 1084.8 C705.6 1082.2 717.8 1079.8 730.0 1077.3 C742.2 1074.9 754.4 1072.6 766.7 1070.2 C778.9 1067.9 791.1 1065.6 803.3 1063.2 C815.6 1060.8 827.8 1058.5 840.0 1056.0 C852.2 1053.5 864.4 1051.0 876.7 1048.4 C888.9 1045.9 901.1 1043.2 913.3 1040.6 C925.6 1038.0 937.8 1035.3 950.0 1032.7 C962.2 1030.1 974.4 1027.6 986.7 1025.1 C998.9 1022.7 1011.1 1020.3 1023.3 1018.1 C1035.6 1015.8 1047.8 1013.7 1060.0 1011.7 C1072.2 1009.6 1084.4 1007.7 1096.7 1005.8 C1108.9 1003.8 1121.1 1002.0 1133.3 1000.0 C1145.6 998.1 1157.8 996.2 1170.0 994.1 C1182.2 992.1 1194.4 990.0 1206.7 987.7 C1218.9 985.5 1231.1 983.2 1243.3 980.8 C1255.6 978.4 1267.8 975.8 1280.0 973.3 C1292.2 970.8 1304.4 968.2 1316.7 965.7 C1328.9 963.2 1341.1 960.7 1353.3 958.3 C1365.6 955.8 1377.8 953.4 1390.0 951.1 C1402.2 948.8 1414.4 946.5 1426.7 944.3 C1438.9 942.0 1451.1 939.8 1463.3 937.5 C1475.6 935.2 1493.9 931.7 1500.0 930.5" stroke="rgba(78,38,6,0.7)" stroke-width="3"/>
<path d="M400.0 1141.6 C406.1 1140.6 424.4 1137.4 436.7 1135.3 C448.9 1133.1 461.1 1130.9 473.3 1128.6 C485.6 1126.3 497.8 1123.9 510.0 1121.3 C522.2 1118.8 534.4 1116.1 546.7 1113.4 C558.9 1110.6 571.1 1107.8 583.3 1104.9 C595.6 1102.1 607.8 1099.1 620.0 1096.3 C632.2 1093.4 644.4 1090.6 656.7 1087.8 C668.9 1085.1 681.1 1082.4 693.3 1079.8 C705.6 1077.2 717.8 1074.8 730.0 1072.3 C742.2 1069.9 754.4 1067.6 766.7 1065.2 C778.9 1062.9 791.1 1060.6 803.3 1058.2 C815.6 1055.8 827.8 1053.5 840.0 1051.0 C852.2 1048.5 864.4 1046.0 876.7 1043.4 C888.9 1040.9 901.1 1038.2 913.3 1035.6 C925.6 1033.0 937.8 1030.3 950.0 1027.7 C962.2 1025.1 974.4 1022.6 986.7 1020.1 C998.9 1017.7 1011.1 1015.3 1023.3 1013.1 C1035.6 1010.8 1047.8 1008.7 1060.0 1006.7 C1072.2 1004.6 1084.4 1002.7 1096.7 1000.8 C1108.9 998.8 1121.1 997.0 1133.3 995.0 C1145.6 993.1 1157.8 991.2 1170.0 989.1 C1182.2 987.1 1194.4 985.0 1206.7 982.7 C1218.9 980.5 1231.1 978.2 1243.3 975.8 C1255.6 973.4 1267.8 970.8 1280.0 968.3 C1292.2 965.8 1304.4 963.2 1316.7 960.7 C1328.9 958.2 1341.1 955.7 1353.3 953.3 C1365.6 950.8 1377.8 948.4 1390.0 946.1 C1402.2 943.8 1414.4 941.5 1426.7 939.3 C1438.9 937.0 1451.1 934.8 1463.3 932.5 C1475.6 930.2 1493.9 926.7 1500.0 925.5" stroke="rgba(78,38,6,0.12)" stroke-width="8"/>
<path d="M400.0 1152.1 C406.1 1151.1 424.4 1147.9 436.7 1145.8 C448.9 1143.6 461.1 1141.4 473.3 1139.1 C485.6 1136.8 497.8 1134.4 510.0 1131.8 C522.2 1129.3 534.4 1126.6 546.7 1123.9 C558.9 1121.1 571.1 1118.3 583.3 1115.4 C595.6 1112.6 607.8 1109.6 620.0 1106.8 C632.2 1103.9 644.4 1101.1 656.7 1098.3 C668.9 1095.6 681.1 1092.9 693.3 1090.3 C705.6 1087.7 717.8 1085.3 730.0 1082.8 C742.2 1080.4 754.4 1078.1 766.7 1075.7 C778.9 1073.4 791.1 1071.1 803.3 1068.7 C815.6 1066.3 827.8 1064.0 840.0 1061.5 C852.2 1059.0 864.4 1056.5 876.7 1053.9 C888.9 1051.4 901.1 1048.7 913.3 1046.1 C925.6 1043.5 937.8 1040.8 950.0 1038.2 C962.2 1035.6 974.4 1033.1 986.7 1030.6 C998.9 1028.2 1011.1 1025.8 1023.3 1023.6 C1035.6 1021.3 1047.8 1019.2 1060.0 1017.2 C1072.2 1015.1 1084.4 1013.2 1096.7 1011.3 C1108.9 1009.3 1121.1 1007.5 1133.3 1005.5 C1145.6 1003.6 1157.8 1001.7 1170.0 999.6 C1182.2 997.6 1194.4 995.5 1206.7 993.2 C1218.9 991.0 1231.1 988.7 1243.3 986.3 C1255.6 983.9 1267.8 981.3 1280.0 978.8 C1292.2 976.3 1304.4 973.7 1316.7 971.2 C1328.9 968.7 1341.1 966.2 1353.3 963.8 C1365.6 961.3 1377.8 958.9 1390.0 956.6 C1402.2 954.3 1414.4 952.0 1426.7 949.8 C1438.9 947.5 1451.1 945.3 1463.3 943.0 C1475.6 940.7 1493.9 937.2 1500.0 936.0" stroke="rgba(225,150,70,0.28)" stroke-width="6"/>
<path d="M400.0 1160.8 C406.1 1159.6 424.4 1155.9 436.7 1153.3 C448.9 1150.7 461.1 1148.0 473.3 1145.4 C485.6 1142.7 497.8 1139.9 510.0 1137.3 C522.2 1134.6 534.4 1131.9 546.7 1129.4 C558.9 1126.8 571.1 1124.4 583.3 1122.0 C595.6 1119.7 607.8 1117.4 620.0 1115.3 C632.2 1113.1 644.4 1111.1 656.7 1109.0 C668.9 1107.0 681.1 1105.1 693.3 1103.0 C705.6 1101.0 717.8 1099.0 730.0 1096.9 C742.2 1094.8 754.4 1092.7 766.7 1090.5 C778.9 1088.2 791.1 1085.9 803.3 1083.6 C815.6 1081.3 827.8 1078.8 840.0 1076.4 C852.2 1074.1 864.4 1071.6 876.7 1069.3 C888.9 1067.0 901.1 1064.7 913.3 1062.5 C925.6 1060.3 937.8 1058.2 950.0 1056.2 C962.2 1054.1 974.4 1052.2 986.7 1050.2 C998.9 1048.3 1011.1 1046.4 1023.3 1044.5 C1035.6 1042.5 1047.8 1040.6 1060.0 1038.5 C1072.2 1036.4 1084.4 1034.3 1096.7 1032.1 C1108.9 1029.8 1121.1 1027.4 1133.3 1025.0 C1145.6 1022.5 1157.8 1019.9 1170.0 1017.4 C1182.2 1014.8 1194.4 1012.1 1206.7 1009.5 C1218.9 1006.8 1231.1 1004.2 1243.3 1001.6 C1255.6 999.1 1267.8 996.6 1280.0 994.2 C1292.2 991.8 1304.4 989.5 1316.7 987.2 C1328.9 984.9 1341.1 982.7 1353.3 980.5 C1365.6 978.3 1377.8 976.1 1390.0 973.9 C1402.2 971.7 1414.4 969.4 1426.7 967.0 C1438.9 964.7 1451.1 962.3 1463.3 959.8 C1475.6 957.3 1493.9 953.4 1500.0 952.1" stroke="rgba(78,38,6,0.7)" stroke-width="4.5"/>
<path d="M400.0 1154.3 C406.1 1153.1 424.4 1149.4 436.7 1146.8 C448.9 1144.2 461.1 1141.5 473.3 1138.9 C485.6 1136.2 497.8 1133.4 510.0 1130.8 C522.2 1128.1 534.4 1125.4 546.7 1122.9 C558.9 1120.3 571.1 1117.9 583.3 1115.5 C595.6 1113.2 607.8 1110.9 620.0 1108.8 C632.2 1106.6 644.4 1104.6 656.7 1102.5 C668.9 1100.5 681.1 1098.6 693.3 1096.5 C705.6 1094.5 717.8 1092.5 730.0 1090.4 C742.2 1088.3 754.4 1086.2 766.7 1084.0 C778.9 1081.7 791.1 1079.4 803.3 1077.1 C815.6 1074.8 827.8 1072.3 840.0 1069.9 C852.2 1067.6 864.4 1065.1 876.7 1062.8 C888.9 1060.5 901.1 1058.2 913.3 1056.0 C925.6 1053.8 937.8 1051.7 950.0 1049.7 C962.2 1047.6 974.4 1045.7 986.7 1043.7 C998.9 1041.8 1011.1 1039.9 1023.3 1038.0 C1035.6 1036.0 1047.8 1034.1 1060.0 1032.0 C1072.2 1029.9 1084.4 1027.8 1096.7 1025.6 C1108.9 1023.3 1121.1 1020.9 1133.3 1018.5 C1145.6 1016.0 1157.8 1013.4 1170.0 1010.9 C1182.2 1008.3 1194.4 1005.6 1206.7 1003.0 C1218.9 1000.3 1231.1 997.7 1243.3 995.1 C1255.6 992.6 1267.8 990.1 1280.0 987.7 C1292.2 985.3 1304.4 983.0 1316.7 980.7 C1328.9 978.4 1341.1 976.2 1353.3 974.0 C1365.6 971.8 1377.8 969.6 1390.0 967.4 C1402.2 965.2 1414.4 962.9 1426.7 960.5 C1438.9 958.2 1451.1 955.8 1463.3 953.3 C1475.6 950.8 1493.9 946.9 1500.0 945.6" stroke="rgba(78,38,6,0.12)" stroke-width="9.5"/>
<path d="M400.0 1167.8 C406.1 1166.6 424.4 1162.9 436.7 1160.3 C448.9 1157.7 461.1 1155.0 473.3 1152.4 C485.6 1149.7 497.8 1146.9 510.0 1144.3 C522.2 1141.6 534.4 1138.9 546.7 1136.4 C558.9 1133.8 571.1 1131.4 583.3 1129.0 C595.6 1126.7 607.8 1124.4 620.0 1122.3 C632.2 1120.1 644.4 1118.1 656.7 1116.0 C668.9 1114.0 681.1 1112.1 693.3 1110.0 C705.6 1108.0 717.8 1106.0 730.0 1103.9 C742.2 1101.8 754.4 1099.7 766.7 1097.5 C778.9 1095.2 791.1 1092.9 803.3 1090.6 C815.6 1088.3 827.8 1085.8 840.0 1083.4 C852.2 1081.1 864.4 1078.6 876.7 1076.3 C888.9 1074.0 901.1 1071.7 913.3 1069.5 C925.6 1067.3 937.8 1065.2 950.0 1063.2 C962.2 1061.1 974.4 1059.2 986.7 1057.2 C998.9 1055.3 1011.1 1053.4 1023.3 1051.5 C1035.6 1049.5 1047.8 1047.6 1060.0 1045.5 C1072.2 1043.4 1084.4 1041.3 1096.7 1039.1 C1108.9 1036.8 1121.1 1034.4 1133.3 1032.0 C1145.6 1029.5 1157.8 1026.9 1170.0 1024.4 C1182.2 1021.8 1194.4 1019.1 1206.7 1016.5 C1218.9 1013.8 1231.1 1011.2 1243.3 1008.6 C1255.6 1006.1 1267.8 1003.6 1280.0 1001.2 C1292.2 998.8 1304.4 996.5 1316.7 994.2 C1328.9 991.9 1341.1 989.7 1353.3 987.5 C1365.6 985.3 1377.8 983.1 1390.0 980.9 C1402.2 978.7 1414.4 976.4 1426.7 974.0 C1438.9 971.7 1451.1 969.3 1463.3 966.8 C1475.6 964.3 1493.9 960.4 1500.0 959.1" stroke="rgba(225,150,70,0.28)" stroke-width="7.5"/>
<path d="M400.0 1184.4 C406.1 1183.0 424.4 1179.0 436.7 1176.4 C448.9 1173.8 461.1 1171.2 473.3 1168.8 C485.6 1166.3 497.8 1164.0 510.0 1161.7 C522.2 1159.5 534.4 1157.5 546.7 1155.5 C558.9 1153.5 571.1 1151.6 583.3 1149.8 C595.6 1147.9 607.8 1146.2 620.0 1144.4 C632.2 1142.5 644.4 1140.8 656.7 1138.9 C668.9 1137.0 681.1 1135.0 693.3 1133.0 C705.6 1130.9 717.8 1128.8 730.0 1126.6 C742.2 1124.4 754.4 1122.0 766.7 1119.7 C778.9 1117.4 791.1 1115.1 803.3 1112.8 C815.6 1110.5 827.8 1108.2 840.0 1105.9 C852.2 1103.7 864.4 1101.5 876.7 1099.4 C888.9 1097.2 901.1 1095.2 913.3 1093.1 C925.6 1091.0 937.8 1089.0 950.0 1086.9 C962.2 1084.8 974.4 1082.6 986.7 1080.4 C998.9 1078.1 1011.1 1075.8 1023.3 1073.3 C1035.6 1070.8 1047.8 1068.2 1060.0 1065.6 C1072.2 1062.9 1084.4 1060.0 1096.7 1057.2 C1108.9 1054.4 1121.1 1051.4 1133.3 1048.6 C1145.6 1045.7 1157.8 1042.8 1170.0 1040.1 C1182.2 1037.3 1194.4 1034.6 1206.7 1032.0 C1218.9 1029.4 1231.1 1026.9 1243.3 1024.5 C1255.6 1022.1 1267.8 1019.8 1280.0 1017.5 C1292.2 1015.2 1304.4 1013.0 1316.7 1010.8 C1328.9 1008.5 1341.1 1006.3 1353.3 1004.0 C1365.6 1001.7 1377.8 999.3 1390.0 996.9 C1402.2 994.5 1414.4 992.0 1426.7 989.6 C1438.9 987.1 1451.1 984.6 1463.3 982.2 C1475.6 979.7 1493.9 976.2 1500.0 975.0" stroke="rgba(78,38,6,0.7)" stroke-width="2"/>
<path d="M400.0 1180.4 C406.1 1179.0 424.4 1175.0 436.7 1172.4 C448.9 1169.8 461.1 1167.2 473.3 1164.8 C485.6 1162.3 497.8 1160.0 510.0 1157.7 C522.2 1155.5 534.4 1153.5 546.7 1151.5 C558.9 1149.5 571.1 1147.6 583.3 1145.8 C595.6 1143.9 607.8 1142.2 620.0 1140.4 C632.2 1138.5 644.4 1136.8 656.7 1134.9 C668.9 1133.0 681.1 1131.0 693.3 1129.0 C705.6 1126.9 717.8 1124.8 730.0 1122.6 C742.2 1120.4 754.4 1118.0 766.7 1115.7 C778.9 1113.4 791.1 1111.1 803.3 1108.8 C815.6 1106.5 827.8 1104.2 840.0 1101.9 C852.2 1099.7 864.4 1097.5 876.7 1095.4 C888.9 1093.2 901.1 1091.2 913.3 1089.1 C925.6 1087.0 937.8 1085.0 950.0 1082.9 C962.2 1080.8 974.4 1078.6 986.7 1076.4 C998.9 1074.1 1011.1 1071.8 1023.3 1069.3 C1035.6 1066.8 1047.8 1064.2 1060.0 1061.6 C1072.2 1058.9 1084.4 1056.0 1096.7 1053.2 C1108.9 1050.4 1121.1 1047.4 1133.3 1044.6 C1145.6 1041.7 1157.8 1038.8 1170.0 1036.1 C1182.2 1033.3 1194.4 1030.6 1206.7 1028.0 C1218.9 1025.4 1231.1 1022.9 1243.3 1020.5 C1255.6 1018.1 1267.8 1015.8 1280.0 1013.5 C1292.2 1011.2 1304.4 1009.0 1316.7 1006.8 C1328.9 1004.5 1341.1 1002.3 1353.3 1000.0 C1365.6 997.7 1377.8 995.3 1390.0 992.9 C1402.2 990.5 1414.4 988.0 1426.7 985.6 C1438.9 983.1 1451.1 980.6 1463.3 978.2 C1475.6 975.7 1493.9 972.2 1500.0 971.0" stroke="rgba(78,38,6,0.12)" stroke-width="7"/>
<path d="M400.0 1188.9 C406.1 1187.5 424.4 1183.5 436.7 1180.9 C448.9 1178.3 461.1 1175.7 473.3 1173.3 C485.6 1170.8 497.8 1168.5 510.0 1166.2 C522.2 1164.0 534.4 1162.0 546.7 1160.0 C558.9 1158.0 571.1 1156.1 583.3 1154.3 C595.6 1152.4 607.8 1150.7 620.0 1148.9 C632.2 1147.0 644.4 1145.3 656.7 1143.4 C668.9 1141.5 681.1 1139.5 693.3 1137.5 C705.6 1135.4 717.8 1133.3 730.0 1131.1 C742.2 1128.9 754.4 1126.5 766.7 1124.2 C778.9 1121.9 791.1 1119.6 803.3 1117.3 C815.6 1115.0 827.8 1112.7 840.0 1110.4 C852.2 1108.2 864.4 1106.0 876.7 1103.9 C888.9 1101.7 901.1 1099.7 913.3 1097.6 C925.6 1095.5 937.8 1093.5 950.0 1091.4 C962.2 1089.3 974.4 1087.1 986.7 1084.9 C998.9 1082.6 1011.1 1080.3 1023.3 1077.8 C1035.6 1075.3 1047.8 1072.7 1060.0 1070.1 C1072.2 1067.4 1084.4 1064.5 1096.7 1061.7 C1108.9 1058.9 1121.1 1055.9 1133.3 1053.1 C1145.6 1050.2 1157.8 1047.3 1170.0 1044.6 C1182.2 1041.8 1194.4 1039.1 1206.7 1036.5 C1218.9 1033.9 1231.1 1031.4 1243.3 1029.0 C1255.6 1026.6 1267.8 1024.3 1280.0 1022.0 C1292.2 1019.7 1304.4 1017.5 1316.7 1015.3 C1328.9 1013.0 1341.1 1010.8 1353.3 1008.5 C1365.6 1006.2 1377.8 1003.8 1390.0 1001.4 C1402.2 999.0 1414.4 996.5 1426.7 994.1 C1438.9 991.6 1451.1 989.1 1463.3 986.7 C1475.6 984.2 1493.9 980.7 1500.0 979.5" stroke="rgba(225,150,70,0.28)" stroke-width="5"/>
<path d="M400.0 1198.3 C406.1 1197.1 424.4 1193.3 436.7 1190.9 C448.9 1188.5 461.1 1186.2 473.3 1184.0 C485.6 1181.7 497.8 1179.6 510.0 1177.6 C522.2 1175.5 534.4 1173.5 546.7 1171.5 C558.9 1169.5 571.1 1167.5 583.3 1165.4 C595.6 1163.4 607.8 1161.2 620.0 1159.0 C632.2 1156.8 644.4 1154.4 656.7 1152.0 C668.9 1149.6 681.1 1147.0 693.3 1144.5 C705.6 1141.9 717.8 1139.2 730.0 1136.6 C742.2 1134.0 754.4 1131.4 766.7 1128.9 C778.9 1126.3 791.1 1123.8 803.3 1121.4 C815.6 1118.9 827.8 1116.6 840.0 1114.3 C852.2 1112.0 864.4 1109.8 876.7 1107.5 C888.9 1105.3 901.1 1103.1 913.3 1100.8 C925.6 1098.5 937.8 1096.3 950.0 1093.8 C962.2 1091.4 974.4 1088.9 986.7 1086.4 C998.9 1083.8 1011.1 1081.1 1023.3 1078.4 C1035.6 1075.6 1047.8 1072.8 1060.0 1070.0 C1072.2 1067.2 1084.4 1064.4 1096.7 1061.7 C1108.9 1059.0 1121.1 1056.3 1133.3 1053.7 C1145.6 1051.2 1157.8 1048.7 1170.0 1046.3 C1182.2 1043.9 1194.4 1041.7 1206.7 1039.5 C1218.9 1037.2 1231.1 1035.1 1243.3 1033.0 C1255.6 1030.8 1267.8 1028.7 1280.0 1026.5 C1292.2 1024.3 1304.4 1022.0 1316.7 1019.7 C1328.9 1017.4 1341.1 1015.0 1353.3 1012.5 C1365.6 1010.1 1377.8 1007.5 1390.0 1005.0 C1402.2 1002.5 1414.4 999.9 1426.7 997.4 C1438.9 994.9 1451.1 992.3 1463.3 989.9 C1475.6 987.5 1493.9 984.1 1500.0 983.0" stroke="rgba(78,38,6,0.6)" stroke-width="2"/>
<path d="M400.0 1194.3 C406.1 1193.1 424.4 1189.3 436.7 1186.9 C448.9 1184.5 461.1 1182.2 473.3 1180.0 C485.6 1177.7 497.8 1175.6 510.0 1173.6 C522.2 1171.5 534.4 1169.5 546.7 1167.5 C558.9 1165.5 571.1 1163.5 583.3 1161.4 C595.6 1159.4 607.8 1157.2 620.0 1155.0 C632.2 1152.8 644.4 1150.4 656.7 1148.0 C668.9 1145.6 681.1 1143.0 693.3 1140.5 C705.6 1137.9 717.8 1135.2 730.0 1132.6 C742.2 1130.0 754.4 1127.4 766.7 1124.9 C778.9 1122.3 791.1 1119.8 803.3 1117.4 C815.6 1114.9 827.8 1112.6 840.0 1110.3 C852.2 1108.0 864.4 1105.8 876.7 1103.5 C888.9 1101.3 901.1 1099.1 913.3 1096.8 C925.6 1094.5 937.8 1092.3 950.0 1089.8 C962.2 1087.4 974.4 1084.9 986.7 1082.4 C998.9 1079.8 1011.1 1077.1 1023.3 1074.4 C1035.6 1071.6 1047.8 1068.8 1060.0 1066.0 C1072.2 1063.2 1084.4 1060.4 1096.7 1057.7 C1108.9 1055.0 1121.1 1052.3 1133.3 1049.7 C1145.6 1047.2 1157.8 1044.7 1170.0 1042.3 C1182.2 1039.9 1194.4 1037.7 1206.7 1035.5 C1218.9 1033.2 1231.1 1031.1 1243.3 1029.0 C1255.6 1026.8 1267.8 1024.7 1280.0 1022.5 C1292.2 1020.3 1304.4 1018.0 1316.7 1015.7 C1328.9 1013.4 1341.1 1011.0 1353.3 1008.5 C1365.6 1006.1 1377.8 1003.5 1390.0 1001.0 C1402.2 998.5 1414.4 995.9 1426.7 993.4 C1438.9 990.9 1451.1 988.3 1463.3 985.9 C1475.6 983.5 1493.9 980.1 1500.0 979.0" stroke="rgba(78,38,6,0.12)" stroke-width="7"/>
<path d="M400.0 1202.8 C406.1 1201.6 424.4 1197.8 436.7 1195.4 C448.9 1193.0 461.1 1190.7 473.3 1188.5 C485.6 1186.2 497.8 1184.1 510.0 1182.1 C522.2 1180.0 534.4 1178.0 546.7 1176.0 C558.9 1174.0 571.1 1172.0 583.3 1169.9 C595.6 1167.9 607.8 1165.7 620.0 1163.5 C632.2 1161.3 644.4 1158.9 656.7 1156.5 C668.9 1154.1 681.1 1151.5 693.3 1149.0 C705.6 1146.4 717.8 1143.7 730.0 1141.1 C742.2 1138.5 754.4 1135.9 766.7 1133.4 C778.9 1130.8 791.1 1128.3 803.3 1125.9 C815.6 1123.4 827.8 1121.1 840.0 1118.8 C852.2 1116.5 864.4 1114.3 876.7 1112.0 C888.9 1109.8 901.1 1107.6 913.3 1105.3 C925.6 1103.0 937.8 1100.8 950.0 1098.3 C962.2 1095.9 974.4 1093.4 986.7 1090.9 C998.9 1088.3 1011.1 1085.6 1023.3 1082.9 C1035.6 1080.1 1047.8 1077.3 1060.0 1074.5 C1072.2 1071.7 1084.4 1068.9 1096.7 1066.2 C1108.9 1063.5 1121.1 1060.8 1133.3 1058.2 C1145.6 1055.7 1157.8 1053.2 1170.0 1050.8 C1182.2 1048.4 1194.4 1046.2 1206.7 1044.0 C1218.9 1041.7 1231.1 1039.6 1243.3 1037.5 C1255.6 1035.3 1267.8 1033.2 1280.0 1031.0 C1292.2 1028.8 1304.4 1026.5 1316.7 1024.2 C1328.9 1021.9 1341.1 1019.5 1353.3 1017.0 C1365.6 1014.6 1377.8 1012.0 1390.0 1009.5 C1402.2 1007.0 1414.4 1004.4 1426.7 1001.9 C1438.9 999.4 1451.1 996.8 1463.3 994.4 C1475.6 992.0 1493.9 988.6 1500.0 987.5" stroke="rgba(225,150,70,0.28)" stroke-width="5"/>
<path d="M400.0 1225.0 C406.1 1223.7 424.4 1219.7 436.7 1217.1 C448.9 1214.4 461.1 1211.6 473.3 1208.9 C485.6 1206.2 497.8 1203.4 510.0 1200.8 C522.2 1198.2 534.4 1195.6 546.7 1193.1 C558.9 1190.7 571.1 1188.3 583.3 1186.1 C595.6 1183.9 607.8 1181.8 620.0 1179.7 C632.2 1177.6 644.4 1175.7 656.7 1173.7 C668.9 1171.7 681.1 1169.7 693.3 1167.7 C705.6 1165.7 717.8 1163.6 730.0 1161.4 C742.2 1159.3 754.4 1157.1 766.7 1154.8 C778.9 1152.5 791.1 1150.1 803.3 1147.7 C815.6 1145.4 827.8 1142.9 840.0 1140.5 C852.2 1138.2 864.4 1135.8 876.7 1133.5 C888.9 1131.2 901.1 1129.0 913.3 1126.9 C925.6 1124.7 937.8 1122.7 950.0 1120.7 C962.2 1118.7 974.4 1116.7 986.7 1114.7 C998.9 1112.7 1011.1 1110.8 1023.3 1108.7 C1035.6 1106.7 1047.8 1104.6 1060.0 1102.3 C1072.2 1100.1 1084.4 1097.7 1096.7 1095.3 C1108.9 1092.8 1121.1 1090.2 1133.3 1087.6 C1145.6 1085.0 1157.8 1082.2 1170.0 1079.5 C1182.2 1076.8 1194.4 1074.0 1206.7 1071.4 C1218.9 1068.7 1231.1 1066.0 1243.3 1063.5 C1255.6 1060.9 1267.8 1058.5 1280.0 1056.0 C1292.2 1053.6 1304.4 1051.4 1316.7 1049.1 C1328.9 1046.8 1341.1 1044.6 1353.3 1042.3 C1365.6 1040.0 1377.8 1037.8 1390.0 1035.4 C1402.2 1033.1 1414.4 1030.7 1426.7 1028.3 C1438.9 1025.8 1451.1 1023.3 1463.3 1020.7 C1475.6 1018.1 1493.9 1014.1 1500.0 1012.8" stroke="rgba(78,38,6,0.6)" stroke-width="3"/>
<path d="M400.0 1220.0 C406.1 1218.7 424.4 1214.7 436.7 1212.1 C448.9 1209.4 461.1 1206.6 473.3 1203.9 C485.6 1201.2 497.8 1198.4 510.0 1195.8 C522.2 1193.2 534.4 1190.6 546.7 1188.1 C558.9 1185.7 571.1 1183.3 583.3 1181.1 C595.6 1178.9 607.8 1176.8 620.0 1174.7 C632.2 1172.6 644.4 1170.7 656.7 1168.7 C668.9 1166.7 681.1 1164.7 693.3 1162.7 C705.6 1160.7 717.8 1158.6 730.0 1156.4 C742.2 1154.3 754.4 1152.1 766.7 1149.8 C778.9 1147.5 791.1 1145.1 803.3 1142.7 C815.6 1140.4 827.8 1137.9 840.0 1135.5 C852.2 1133.2 864.4 1130.8 876.7 1128.5 C888.9 1126.2 901.1 1124.0 913.3 1121.9 C925.6 1119.7 937.8 1117.7 950.0 1115.7 C962.2 1113.7 974.4 1111.7 986.7 1109.7 C998.9 1107.7 1011.1 1105.8 1023.3 1103.7 C1035.6 1101.7 1047.8 1099.6 1060.0 1097.3 C1072.2 1095.1 1084.4 1092.7 1096.7 1090.3 C1108.9 1087.8 1121.1 1085.2 1133.3 1082.6 C1145.6 1080.0 1157.8 1077.2 1170.0 1074.5 C1182.2 1071.8 1194.4 1069.0 1206.7 1066.4 C1218.9 1063.7 1231.1 1061.0 1243.3 1058.5 C1255.6 1055.9 1267.8 1053.5 1280.0 1051.0 C1292.2 1048.6 1304.4 1046.4 1316.7 1044.1 C1328.9 1041.8 1341.1 1039.6 1353.3 1037.3 C1365.6 1035.0 1377.8 1032.8 1390.0 1030.4 C1402.2 1028.1 1414.4 1025.7 1426.7 1023.3 C1438.9 1020.8 1451.1 1018.3 1463.3 1015.7 C1475.6 1013.1 1493.9 1009.1 1500.0 1007.8" stroke="rgba(78,38,6,0.12)" stroke-width="8"/>
<path d="M400.0 1230.5 C406.1 1229.2 424.4 1225.2 436.7 1222.6 C448.9 1219.9 461.1 1217.1 473.3 1214.4 C485.6 1211.7 497.8 1208.9 510.0 1206.3 C522.2 1203.7 534.4 1201.1 546.7 1198.6 C558.9 1196.2 571.1 1193.8 583.3 1191.6 C595.6 1189.4 607.8 1187.3 620.0 1185.2 C632.2 1183.1 644.4 1181.2 656.7 1179.2 C668.9 1177.2 681.1 1175.2 693.3 1173.2 C705.6 1171.2 717.8 1169.1 730.0 1166.9 C742.2 1164.8 754.4 1162.6 766.7 1160.3 C778.9 1158.0 791.1 1155.6 803.3 1153.2 C815.6 1150.9 827.8 1148.4 840.0 1146.0 C852.2 1143.7 864.4 1141.3 876.7 1139.0 C888.9 1136.7 901.1 1134.5 913.3 1132.4 C925.6 1130.2 937.8 1128.2 950.0 1126.2 C962.2 1124.2 974.4 1122.2 986.7 1120.2 C998.9 1118.2 1011.1 1116.3 1023.3 1114.2 C1035.6 1112.2 1047.8 1110.1 1060.0 1107.8 C1072.2 1105.6 1084.4 1103.2 1096.7 1100.8 C1108.9 1098.3 1121.1 1095.7 1133.3 1093.1 C1145.6 1090.5 1157.8 1087.7 1170.0 1085.0 C1182.2 1082.3 1194.4 1079.5 1206.7 1076.9 C1218.9 1074.2 1231.1 1071.5 1243.3 1069.0 C1255.6 1066.4 1267.8 1064.0 1280.0 1061.5 C1292.2 1059.1 1304.4 1056.9 1316.7 1054.6 C1328.9 1052.3 1341.1 1050.1 1353.3 1047.8 C1365.6 1045.5 1377.8 1043.3 1390.0 1040.9 C1402.2 1038.6 1414.4 1036.2 1426.7 1033.8 C1438.9 1031.3 1451.1 1028.8 1463.3 1026.2 C1475.6 1023.6 1493.9 1019.6 1500.0 1018.3" stroke="rgba(225,150,70,0.28)" stroke-width="6"/>
<path d="M400.0 1247.0 C406.1 1245.9 424.4 1242.7 436.7 1240.6 C448.9 1238.6 461.1 1236.6 473.3 1234.7 C485.6 1232.8 497.8 1230.9 510.0 1229.0 C522.2 1227.0 534.4 1225.1 546.7 1223.1 C558.9 1221.0 571.1 1218.9 583.3 1216.7 C595.6 1214.5 607.8 1212.1 620.0 1209.7 C632.2 1207.3 644.4 1204.7 656.7 1202.2 C668.9 1199.7 681.1 1197.0 693.3 1194.5 C705.6 1191.9 717.8 1189.3 730.0 1186.8 C742.2 1184.3 754.4 1181.9 766.7 1179.5 C778.9 1177.1 791.1 1174.9 803.3 1172.6 C815.6 1170.4 827.8 1168.2 840.0 1166.0 C852.2 1163.8 864.4 1161.7 876.7 1159.5 C888.9 1157.2 901.1 1154.9 913.3 1152.6 C925.6 1150.2 937.8 1147.7 950.0 1145.2 C962.2 1142.7 974.4 1140.1 986.7 1137.4 C998.9 1134.8 1011.1 1132.1 1023.3 1129.4 C1035.6 1126.8 1047.8 1124.1 1060.0 1121.6 C1072.2 1119.1 1084.4 1116.6 1096.7 1114.2 C1108.9 1111.9 1121.1 1109.6 1133.3 1107.5 C1145.6 1105.3 1157.8 1103.3 1170.0 1101.3 C1182.2 1099.2 1194.4 1097.3 1206.7 1095.3 C1218.9 1093.4 1231.1 1091.4 1243.3 1089.4 C1255.6 1087.3 1267.8 1085.2 1280.0 1083.0 C1292.2 1080.8 1304.4 1078.5 1316.7 1076.2 C1328.9 1073.9 1341.1 1071.5 1353.3 1069.1 C1365.6 1066.7 1377.8 1064.2 1390.0 1061.8 C1402.2 1059.5 1414.4 1057.1 1426.7 1054.9 C1438.9 1052.6 1451.1 1050.4 1463.3 1048.3 C1475.6 1046.2 1493.9 1043.2 1500.0 1042.1" stroke="rgba(78,38,6,0.5)" stroke-width="2"/>
<path d="M400.0 1243.0 C406.1 1241.9 424.4 1238.7 436.7 1236.6 C448.9 1234.6 461.1 1232.6 473.3 1230.7 C485.6 1228.8 497.8 1226.9 510.0 1225.0 C522.2 1223.0 534.4 1221.1 546.7 1219.1 C558.9 1217.0 571.1 1214.9 583.3 1212.7 C595.6 1210.5 607.8 1208.1 620.0 1205.7 C632.2 1203.3 644.4 1200.7 656.7 1198.2 C668.9 1195.7 681.1 1193.0 693.3 1190.5 C705.6 1187.9 717.8 1185.3 730.0 1182.8 C742.2 1180.3 754.4 1177.9 766.7 1175.5 C778.9 1173.1 791.1 1170.9 803.3 1168.6 C815.6 1166.4 827.8 1164.2 840.0 1162.0 C852.2 1159.8 864.4 1157.7 876.7 1155.5 C888.9 1153.2 901.1 1150.9 913.3 1148.6 C925.6 1146.2 937.8 1143.7 950.0 1141.2 C962.2 1138.7 974.4 1136.1 986.7 1133.4 C998.9 1130.8 1011.1 1128.1 1023.3 1125.4 C1035.6 1122.8 1047.8 1120.1 1060.0 1117.6 C1072.2 1115.1 1084.4 1112.6 1096.7 1110.2 C1108.9 1107.9 1121.1 1105.6 1133.3 1103.5 C1145.6 1101.3 1157.8 1099.3 1170.0 1097.3 C1182.2 1095.2 1194.4 1093.3 1206.7 1091.3 C1218.9 1089.4 1231.1 1087.4 1243.3 1085.4 C1255.6 1083.3 1267.8 1081.2 1280.0 1079.0 C1292.2 1076.8 1304.4 1074.5 1316.7 1072.2 C1328.9 1069.9 1341.1 1067.5 1353.3 1065.1 C1365.6 1062.7 1377.8 1060.2 1390.0 1057.8 C1402.2 1055.5 1414.4 1053.1 1426.7 1050.9 C1438.9 1048.6 1451.1 1046.4 1463.3 1044.3 C1475.6 1042.2 1493.9 1039.2 1500.0 1038.1" stroke="rgba(78,38,6,0.12)" stroke-width="7"/>
<path d="M400.0 1251.5 C406.1 1250.4 424.4 1247.2 436.7 1245.1 C448.9 1243.1 461.1 1241.1 473.3 1239.2 C485.6 1237.3 497.8 1235.4 510.0 1233.5 C522.2 1231.5 534.4 1229.6 546.7 1227.6 C558.9 1225.5 571.1 1223.4 583.3 1221.2 C595.6 1219.0 607.8 1216.6 620.0 1214.2 C632.2 1211.8 644.4 1209.2 656.7 1206.7 C668.9 1204.2 681.1 1201.5 693.3 1199.0 C705.6 1196.4 717.8 1193.8 730.0 1191.3 C742.2 1188.8 754.4 1186.4 766.7 1184.0 C778.9 1181.6 791.1 1179.4 803.3 1177.1 C815.6 1174.9 827.8 1172.7 840.0 1170.5 C852.2 1168.3 864.4 1166.2 876.7 1164.0 C888.9 1161.7 901.1 1159.4 913.3 1157.1 C925.6 1154.7 937.8 1152.2 950.0 1149.7 C962.2 1147.2 974.4 1144.6 986.7 1141.9 C998.9 1139.3 1011.1 1136.6 1023.3 1133.9 C1035.6 1131.3 1047.8 1128.6 1060.0 1126.1 C1072.2 1123.6 1084.4 1121.1 1096.7 1118.7 C1108.9 1116.4 1121.1 1114.1 1133.3 1112.0 C1145.6 1109.8 1157.8 1107.8 1170.0 1105.8 C1182.2 1103.7 1194.4 1101.8 1206.7 1099.8 C1218.9 1097.9 1231.1 1095.9 1243.3 1093.9 C1255.6 1091.8 1267.8 1089.7 1280.0 1087.5 C1292.2 1085.3 1304.4 1083.0 1316.7 1080.7 C1328.9 1078.4 1341.1 1076.0 1353.3 1073.6 C1365.6 1071.2 1377.8 1068.7 1390.0 1066.3 C1402.2 1064.0 1414.4 1061.6 1426.7 1059.4 C1438.9 1057.1 1451.1 1054.9 1463.3 1052.8 C1475.6 1050.7 1493.9 1047.7 1500.0 1046.6" stroke="rgba(225,150,70,0.28)" stroke-width="5"/>
<path d="M400.0 1266.5 C406.1 1265.2 424.4 1261.2 436.7 1258.6 C448.9 1256.0 461.1 1253.4 473.3 1250.9 C485.6 1248.5 497.8 1246.1 510.0 1243.8 C522.2 1241.5 534.4 1239.4 546.7 1237.3 C558.9 1235.2 571.1 1233.2 583.3 1231.1 C595.6 1229.1 607.8 1227.2 620.0 1225.1 C632.2 1223.1 644.4 1221.0 656.7 1218.8 C668.9 1216.7 681.1 1214.4 693.3 1212.1 C705.6 1209.7 717.8 1207.3 730.0 1204.8 C742.2 1202.3 754.4 1199.7 766.7 1197.2 C778.9 1194.7 791.1 1192.1 803.3 1189.6 C815.6 1187.1 827.8 1184.7 840.0 1182.3 C852.2 1179.9 864.4 1177.7 876.7 1175.4 C888.9 1173.2 901.1 1171.0 913.3 1168.9 C925.6 1166.7 937.8 1164.6 950.0 1162.4 C962.2 1160.2 974.4 1158.1 986.7 1155.7 C998.9 1153.4 1011.1 1151.1 1023.3 1148.6 C1035.6 1146.1 1047.8 1143.5 1060.0 1140.8 C1072.2 1138.1 1084.4 1135.4 1096.7 1132.6 C1108.9 1129.9 1121.1 1127.0 1133.3 1124.3 C1145.6 1121.6 1157.8 1118.9 1170.0 1116.2 C1182.2 1113.6 1194.4 1111.1 1206.7 1108.7 C1218.9 1106.2 1231.1 1103.9 1243.3 1101.6 C1255.6 1099.4 1267.8 1097.2 1280.0 1095.0 C1292.2 1092.8 1304.4 1090.6 1316.7 1088.4 C1328.9 1086.2 1341.1 1083.9 1353.3 1081.6 C1365.6 1079.3 1377.8 1076.8 1390.0 1074.4 C1402.2 1071.9 1414.4 1069.3 1426.7 1066.8 C1438.9 1064.2 1451.1 1061.6 1463.3 1059.1 C1475.6 1056.5 1493.9 1052.8 1500.0 1051.5" stroke="rgba(78,38,6,0.7)" stroke-width="4.5"/>
<path d="M400.0 1260.0 C406.1 1258.7 424.4 1254.7 436.7 1252.1 C448.9 1249.5 461.1 1246.9 473.3 1244.4 C485.6 1242.0 497.8 1239.6 510.0 1237.3 C522.2 1235.0 534.4 1232.9 546.7 1230.8 C558.9 1228.7 571.1 1226.7 583.3 1224.6 C595.6 1222.6 607.8 1220.7 620.0 1218.6 C632.2 1216.6 644.4 1214.5 656.7 1212.3 C668.9 1210.2 681.1 1207.9 693.3 1205.6 C705.6 1203.2 717.8 1200.8 730.0 1198.3 C742.2 1195.8 754.4 1193.2 766.7 1190.7 C778.9 1188.2 791.1 1185.6 803.3 1183.1 C815.6 1180.6 827.8 1178.2 840.0 1175.8 C852.2 1173.4 864.4 1171.2 876.7 1168.9 C888.9 1166.7 901.1 1164.5 913.3 1162.4 C925.6 1160.2 937.8 1158.1 950.0 1155.9 C962.2 1153.7 974.4 1151.6 986.7 1149.2 C998.9 1146.9 1011.1 1144.6 1023.3 1142.1 C1035.6 1139.6 1047.8 1137.0 1060.0 1134.3 C1072.2 1131.6 1084.4 1128.9 1096.7 1126.1 C1108.9 1123.4 1121.1 1120.5 1133.3 1117.8 C1145.6 1115.1 1157.8 1112.4 1170.0 1109.7 C1182.2 1107.1 1194.4 1104.6 1206.7 1102.2 C1218.9 1099.7 1231.1 1097.4 1243.3 1095.1 C1255.6 1092.9 1267.8 1090.7 1280.0 1088.5 C1292.2 1086.3 1304.4 1084.1 1316.7 1081.9 C1328.9 1079.7 1341.1 1077.4 1353.3 1075.1 C1365.6 1072.8 1377.8 1070.3 1390.0 1067.9 C1402.2 1065.4 1414.4 1062.8 1426.7 1060.3 C1438.9 1057.7 1451.1 1055.1 1463.3 1052.6 C1475.6 1050.0 1493.9 1046.3 1500.0 1045.0" stroke="rgba(78,38,6,0.12)" stroke-width="9.5"/>
<path d="M400.0 1273.5 C406.1 1272.2 424.4 1268.2 436.7 1265.6 C448.9 1263.0 461.1 1260.4 473.3 1257.9 C485.6 1255.5 497.8 1253.1 510.0 1250.8 C522.2 1248.5 534.4 1246.4 546.7 1244.3 C558.9 1242.2 571.1 1240.2 583.3 1238.1 C595.6 1236.1 607.8 1234.2 620.0 1232.1 C632.2 1230.1 644.4 1228.0 656.7 1225.8 C668.9 1223.7 681.1 1221.4 693.3 1219.1 C705.6 1216.7 717.8 1214.3 730.0 1211.8 C742.2 1209.3 754.4 1206.7 766.7 1204.2 C778.9 1201.7 791.1 1199.1 803.3 1196.6 C815.6 1194.1 827.8 1191.7 840.0 1189.3 C852.2 1186.9 864.4 1184.7 876.7 1182.4 C888.9 1180.2 901.1 1178.0 913.3 1175.9 C925.6 1173.7 937.8 1171.6 950.0 1169.4 C962.2 1167.2 974.4 1165.1 986.7 1162.7 C998.9 1160.4 1011.1 1158.1 1023.3 1155.6 C1035.6 1153.1 1047.8 1150.5 1060.0 1147.8 C1072.2 1145.1 1084.4 1142.4 1096.7 1139.6 C1108.9 1136.9 1121.1 1134.0 1133.3 1131.3 C1145.6 1128.6 1157.8 1125.9 1170.0 1123.2 C1182.2 1120.6 1194.4 1118.1 1206.7 1115.7 C1218.9 1113.2 1231.1 1110.9 1243.3 1108.6 C1255.6 1106.4 1267.8 1104.2 1280.0 1102.0 C1292.2 1099.8 1304.4 1097.6 1316.7 1095.4 C1328.9 1093.2 1341.1 1090.9 1353.3 1088.6 C1365.6 1086.3 1377.8 1083.8 1390.0 1081.4 C1402.2 1078.9 1414.4 1076.3 1426.7 1073.8 C1438.9 1071.2 1451.1 1068.6 1463.3 1066.1 C1475.6 1063.5 1493.9 1059.8 1500.0 1058.5" stroke="rgba(225,150,70,0.28)" stroke-width="7.5"/>
<path d="M400.0 1283.5 C406.1 1282.1 424.4 1278.0 436.7 1275.3 C448.9 1272.7 461.1 1270.0 473.3 1267.5 C485.6 1264.9 497.8 1262.5 510.0 1260.1 C522.2 1257.8 534.4 1255.6 546.7 1253.4 C558.9 1251.3 571.1 1249.2 583.3 1247.1 C595.6 1245.1 607.8 1243.1 620.0 1241.0 C632.2 1238.9 644.4 1236.8 656.7 1234.5 C668.9 1232.3 681.1 1230.0 693.3 1227.6 C705.6 1225.2 717.8 1222.7 730.0 1220.2 C742.2 1217.7 754.4 1215.0 766.7 1212.5 C778.9 1209.9 791.1 1207.2 803.3 1204.7 C815.6 1202.2 827.8 1199.6 840.0 1197.2 C852.2 1194.8 864.4 1192.4 876.7 1190.1 C888.9 1187.8 901.1 1185.6 913.3 1183.4 C925.6 1181.1 937.8 1179.0 950.0 1176.7 C962.2 1174.4 974.4 1172.2 986.7 1169.8 C998.9 1167.4 1011.1 1164.9 1023.3 1162.3 C1035.6 1159.8 1047.8 1157.1 1060.0 1154.3 C1072.2 1151.6 1084.4 1148.7 1096.7 1145.9 C1108.9 1143.0 1121.1 1140.1 1133.3 1137.3 C1145.6 1134.5 1157.8 1131.6 1170.0 1128.9 C1182.2 1126.2 1194.4 1123.6 1206.7 1121.1 C1218.9 1118.6 1231.1 1116.2 1243.3 1113.8 C1255.6 1111.4 1267.8 1109.2 1280.0 1106.9 C1292.2 1104.6 1304.4 1102.4 1316.7 1100.1 C1328.9 1097.7 1341.1 1095.4 1353.3 1093.0 C1365.6 1090.6 1377.8 1088.1 1390.0 1085.6 C1402.2 1083.1 1414.4 1080.4 1426.7 1077.8 C1438.9 1075.2 1451.1 1072.5 1463.3 1069.9 C1475.6 1067.3 1493.9 1063.4 1500.0 1062.2" stroke="rgba(78,38,6,0.5)" stroke-width="2"/>
<path d="M400.0 1279.5 C406.1 1278.1 424.4 1274.0 436.7 1271.3 C448.9 1268.7 461.1 1266.0 473.3 1263.5 C485.6 1260.9 497.8 1258.5 510.0 1256.1 C522.2 1253.8 534.4 1251.6 546.7 1249.4 C558.9 1247.3 571.1 1245.2 583.3 1243.1 C595.6 1241.1 607.8 1239.1 620.0 1237.0 C632.2 1234.9 644.4 1232.8 656.7 1230.5 C668.9 1228.3 681.1 1226.0 693.3 1223.6 C705.6 1221.2 717.8 1218.7 730.0 1216.2 C742.2 1213.7 754.4 1211.0 766.7 1208.5 C778.9 1205.9 791.1 1203.2 803.3 1200.7 C815.6 1198.2 827.8 1195.6 840.0 1193.2 C852.2 1190.8 864.4 1188.4 876.7 1186.1 C888.9 1183.8 901.1 1181.6 913.3 1179.4 C925.6 1177.1 937.8 1175.0 950.0 1172.7 C962.2 1170.4 974.4 1168.2 986.7 1165.8 C998.9 1163.4 1011.1 1160.9 1023.3 1158.3 C1035.6 1155.8 1047.8 1153.1 1060.0 1150.3 C1072.2 1147.6 1084.4 1144.7 1096.7 1141.9 C1108.9 1139.0 1121.1 1136.1 1133.3 1133.3 C1145.6 1130.5 1157.8 1127.6 1170.0 1124.9 C1182.2 1122.2 1194.4 1119.6 1206.7 1117.1 C1218.9 1114.6 1231.1 1112.2 1243.3 1109.8 C1255.6 1107.4 1267.8 1105.2 1280.0 1102.9 C1292.2 1100.6 1304.4 1098.4 1316.7 1096.1 C1328.9 1093.7 1341.1 1091.4 1353.3 1089.0 C1365.6 1086.6 1377.8 1084.1 1390.0 1081.6 C1402.2 1079.1 1414.4 1076.4 1426.7 1073.8 C1438.9 1071.2 1451.1 1068.5 1463.3 1065.9 C1475.6 1063.3 1493.9 1059.4 1500.0 1058.2" stroke="rgba(78,38,6,0.12)" stroke-width="7"/>
<path d="M400.0 1288.0 C406.1 1286.6 424.4 1282.5 436.7 1279.8 C448.9 1277.2 461.1 1274.5 473.3 1272.0 C485.6 1269.4 497.8 1267.0 510.0 1264.6 C522.2 1262.3 534.4 1260.1 546.7 1257.9 C558.9 1255.8 571.1 1253.7 583.3 1251.6 C595.6 1249.6 607.8 1247.6 620.0 1245.5 C632.2 1243.4 644.4 1241.3 656.7 1239.0 C668.9 1236.8 681.1 1234.5 693.3 1232.1 C705.6 1229.7 717.8 1227.2 730.0 1224.7 C742.2 1222.2 754.4 1219.5 766.7 1217.0 C778.9 1214.4 791.1 1211.7 803.3 1209.2 C815.6 1206.7 827.8 1204.1 840.0 1201.7 C852.2 1199.3 864.4 1196.9 876.7 1194.6 C888.9 1192.3 901.1 1190.1 913.3 1187.9 C925.6 1185.6 937.8 1183.5 950.0 1181.2 C962.2 1178.9 974.4 1176.7 986.7 1174.3 C998.9 1171.9 1011.1 1169.4 1023.3 1166.8 C1035.6 1164.3 1047.8 1161.6 1060.0 1158.8 C1072.2 1156.1 1084.4 1153.2 1096.7 1150.4 C1108.9 1147.5 1121.1 1144.6 1133.3 1141.8 C1145.6 1139.0 1157.8 1136.1 1170.0 1133.4 C1182.2 1130.7 1194.4 1128.1 1206.7 1125.6 C1218.9 1123.1 1231.1 1120.7 1243.3 1118.3 C1255.6 1115.9 1267.8 1113.7 1280.0 1111.4 C1292.2 1109.1 1304.4 1106.9 1316.7 1104.6 C1328.9 1102.2 1341.1 1099.9 1353.3 1097.5 C1365.6 1095.1 1377.8 1092.6 1390.0 1090.1 C1402.2 1087.6 1414.4 1084.9 1426.7 1082.3 C1438.9 1079.7 1451.1 1077.0 1463.3 1074.4 C1475.6 1071.8 1493.9 1067.9 1500.0 1066.7" stroke="rgba(225,150,70,0.28)" stroke-width="5"/>
<path d="M400.0 1311.5 C406.1 1310.1 424.4 1306.2 436.7 1303.4 C448.9 1300.6 461.1 1297.7 473.3 1294.8 C485.6 1291.9 497.8 1289.0 510.0 1286.1 C522.2 1283.2 534.4 1280.2 546.7 1277.5 C558.9 1274.7 571.1 1272.0 583.3 1269.4 C595.6 1266.8 607.8 1264.4 620.0 1262.0 C632.2 1259.7 644.4 1257.5 656.7 1255.3 C668.9 1253.2 681.1 1251.1 693.3 1249.0 C705.6 1246.9 717.8 1244.9 730.0 1242.8 C742.2 1240.7 754.4 1238.5 766.7 1236.3 C778.9 1234.1 791.1 1231.9 803.3 1229.6 C815.6 1227.3 827.8 1224.9 840.0 1222.5 C852.2 1220.2 864.4 1217.8 876.7 1215.5 C888.9 1213.2 901.1 1211.0 913.3 1208.8 C925.6 1206.6 937.8 1204.5 950.0 1202.5 C962.2 1200.5 974.4 1198.6 986.7 1196.7 C998.9 1194.8 1011.1 1192.9 1023.3 1191.0 C1035.6 1189.1 1047.8 1187.2 1060.0 1185.2 C1072.2 1183.1 1084.4 1181.0 1096.7 1178.8 C1108.9 1176.6 1121.1 1174.2 1133.3 1171.7 C1145.6 1169.2 1157.8 1166.6 1170.0 1163.9 C1182.2 1161.3 1194.4 1158.5 1206.7 1155.7 C1218.9 1153.0 1231.1 1150.1 1243.3 1147.4 C1255.6 1144.7 1267.8 1141.9 1280.0 1139.3 C1292.2 1136.7 1304.4 1134.1 1316.7 1131.6 C1328.9 1129.1 1341.1 1126.6 1353.3 1124.2 C1365.6 1121.7 1377.8 1119.4 1390.0 1116.9 C1402.2 1114.4 1414.4 1112.0 1426.7 1109.4 C1438.9 1106.9 1451.1 1104.3 1463.3 1101.6 C1475.6 1098.9 1493.9 1094.7 1500.0 1093.4" stroke="rgba(78,38,6,0.7)" stroke-width="4.5"/>
<path d="M400.0 1305.0 C406.1 1303.6 424.4 1299.7 436.7 1296.9 C448.9 1294.1 461.1 1291.2 473.3 1288.3 C485.6 1285.4 497.8 1282.5 510.0 1279.6 C522.2 1276.7 534.4 1273.7 546.7 1271.0 C558.9 1268.2 571.1 1265.5 583.3 1262.9 C595.6 1260.3 607.8 1257.9 620.0 1255.5 C632.2 1253.2 644.4 1251.0 656.7 1248.8 C668.9 1246.7 681.1 1244.6 693.3 1242.5 C705.6 1240.4 717.8 1238.4 730.0 1236.3 C742.2 1234.2 754.4 1232.0 766.7 1229.8 C778.9 1227.6 791.1 1225.4 803.3 1223.1 C815.6 1220.8 827.8 1218.4 840.0 1216.0 C852.2 1213.7 864.4 1211.3 876.7 1209.0 C888.9 1206.7 901.1 1204.5 913.3 1202.3 C925.6 1200.1 937.8 1198.0 950.0 1196.0 C962.2 1194.0 974.4 1192.1 986.7 1190.2 C998.9 1188.3 1011.1 1186.4 1023.3 1184.5 C1035.6 1182.6 1047.8 1180.7 1060.0 1178.7 C1072.2 1176.6 1084.4 1174.5 1096.7 1172.3 C1108.9 1170.1 1121.1 1167.7 1133.3 1165.2 C1145.6 1162.7 1157.8 1160.1 1170.0 1157.4 C1182.2 1154.8 1194.4 1152.0 1206.7 1149.2 C1218.9 1146.5 1231.1 1143.6 1243.3 1140.9 C1255.6 1138.2 1267.8 1135.4 1280.0 1132.8 C1292.2 1130.2 1304.4 1127.6 1316.7 1125.1 C1328.9 1122.6 1341.1 1120.1 1353.3 1117.7 C1365.6 1115.2 1377.8 1112.9 1390.0 1110.4 C1402.2 1107.9 1414.4 1105.5 1426.7 1102.9 C1438.9 1100.4 1451.1 1097.8 1463.3 1095.1 C1475.6 1092.4 1493.9 1088.2 1500.0 1086.9" stroke="rgba(78,38,6,0.12)" stroke-width="9.5"/>
<path d="M400.0 1318.5 C406.1 1317.1 424.4 1313.2 436.7 1310.4 C448.9 1307.6 461.1 1304.7 473.3 1301.8 C485.6 1298.9 497.8 1296.0 510.0 1293.1 C522.2 1290.2 534.4 1287.2 546.7 1284.5 C558.9 1281.7 571.1 1279.0 583.3 1276.4 C595.6 1273.8 607.8 1271.4 620.0 1269.0 C632.2 1266.7 644.4 1264.5 656.7 1262.3 C668.9 1260.2 681.1 1258.1 693.3 1256.0 C705.6 1253.9 717.8 1251.9 730.0 1249.8 C742.2 1247.7 754.4 1245.5 766.7 1243.3 C778.9 1241.1 791.1 1238.9 803.3 1236.6 C815.6 1234.3 827.8 1231.9 840.0 1229.5 C852.2 1227.2 864.4 1224.8 876.7 1222.5 C888.9 1220.2 901.1 1218.0 913.3 1215.8 C925.6 1213.6 937.8 1211.5 950.0 1209.5 C962.2 1207.5 974.4 1205.6 986.7 1203.7 C998.9 1201.8 1011.1 1199.9 1023.3 1198.0 C1035.6 1196.1 1047.8 1194.2 1060.0 1192.2 C1072.2 1190.1 1084.4 1188.0 1096.7 1185.8 C1108.9 1183.6 1121.1 1181.2 1133.3 1178.7 C1145.6 1176.2 1157.8 1173.6 1170.0 1170.9 C1182.2 1168.3 1194.4 1165.5 1206.7 1162.7 C1218.9 1160.0 1231.1 1157.1 1243.3 1154.4 C1255.6 1151.7 1267.8 1148.9 1280.0 1146.3 C1292.2 1143.7 1304.4 1141.1 1316.7 1138.6 C1328.9 1136.1 1341.1 1133.6 1353.3 1131.2 C1365.6 1128.7 1377.8 1126.4 1390.0 1123.9 C1402.2 1121.4 1414.4 1119.0 1426.7 1116.4 C1438.9 1113.9 1451.1 1111.3 1463.3 1108.6 C1475.6 1105.9 1493.9 1101.7 1500.0 1100.4" stroke="rgba(225,150,70,0.28)" stroke-width="7.5"/>
<path d="M400.0 1325.3 C406.1 1324.0 424.4 1320.3 436.7 1317.9 C448.9 1315.5 461.1 1313.1 473.3 1310.8 C485.6 1308.6 497.8 1306.4 510.0 1304.4 C522.2 1302.3 534.4 1300.4 546.7 1298.5 C558.9 1296.6 571.1 1294.8 583.3 1292.9 C595.6 1291.0 607.8 1289.2 620.0 1287.3 C632.2 1285.4 644.4 1283.5 656.7 1281.4 C668.9 1279.3 681.1 1277.2 693.3 1275.0 C705.6 1272.7 717.8 1270.4 730.0 1268.0 C742.2 1265.7 754.4 1263.2 766.7 1260.9 C778.9 1258.5 791.1 1256.1 803.3 1253.7 C815.6 1251.4 827.8 1249.1 840.0 1246.9 C852.2 1244.8 864.4 1242.7 876.7 1240.6 C888.9 1238.5 901.1 1236.5 913.3 1234.5 C925.6 1232.5 937.8 1230.5 950.0 1228.4 C962.2 1226.3 974.4 1224.2 986.7 1222.0 C998.9 1219.8 1011.1 1217.4 1023.3 1215.0 C1035.6 1212.6 1047.8 1210.1 1060.0 1207.5 C1072.2 1205.0 1084.4 1202.3 1096.7 1199.7 C1108.9 1197.1 1121.1 1194.4 1133.3 1191.8 C1145.6 1189.3 1157.8 1186.7 1170.0 1184.3 C1182.2 1181.9 1194.4 1179.6 1206.7 1177.3 C1218.9 1175.1 1231.1 1173.0 1243.3 1170.9 C1255.6 1168.8 1267.8 1166.8 1280.0 1164.7 C1292.2 1162.7 1304.4 1160.7 1316.7 1158.6 C1328.9 1156.5 1341.1 1154.4 1353.3 1152.2 C1365.6 1149.9 1377.8 1147.7 1390.0 1145.3 C1402.2 1143.0 1414.4 1140.6 1426.7 1138.2 C1438.9 1135.8 1451.1 1133.3 1463.3 1130.9 C1475.6 1128.6 1493.9 1125.1 1500.0 1124.0" stroke="rgba(78,38,6,0.5)" stroke-width="3"/>
<path d="M400.0 1320.3 C406.1 1319.0 424.4 1315.3 436.7 1312.9 C448.9 1310.5 461.1 1308.1 473.3 1305.8 C485.6 1303.6 497.8 1301.4 510.0 1299.4 C522.2 1297.3 534.4 1295.4 546.7 1293.5 C558.9 1291.6 571.1 1289.8 583.3 1287.9 C595.6 1286.0 607.8 1284.2 620.0 1282.3 C632.2 1280.4 644.4 1278.5 656.7 1276.4 C668.9 1274.3 681.1 1272.2 693.3 1270.0 C705.6 1267.7 717.8 1265.4 730.0 1263.0 C742.2 1260.7 754.4 1258.2 766.7 1255.9 C778.9 1253.5 791.1 1251.1 803.3 1248.7 C815.6 1246.4 827.8 1244.1 840.0 1241.9 C852.2 1239.8 864.4 1237.7 876.7 1235.6 C888.9 1233.5 901.1 1231.5 913.3 1229.5 C925.6 1227.5 937.8 1225.5 950.0 1223.4 C962.2 1221.3 974.4 1219.2 986.7 1217.0 C998.9 1214.8 1011.1 1212.4 1023.3 1210.0 C1035.6 1207.6 1047.8 1205.1 1060.0 1202.5 C1072.2 1200.0 1084.4 1197.3 1096.7 1194.7 C1108.9 1192.1 1121.1 1189.4 1133.3 1186.8 C1145.6 1184.3 1157.8 1181.7 1170.0 1179.3 C1182.2 1176.9 1194.4 1174.6 1206.7 1172.3 C1218.9 1170.1 1231.1 1168.0 1243.3 1165.9 C1255.6 1163.8 1267.8 1161.8 1280.0 1159.7 C1292.2 1157.7 1304.4 1155.7 1316.7 1153.6 C1328.9 1151.5 1341.1 1149.4 1353.3 1147.2 C1365.6 1144.9 1377.8 1142.7 1390.0 1140.3 C1402.2 1138.0 1414.4 1135.6 1426.7 1133.2 C1438.9 1130.8 1451.1 1128.3 1463.3 1125.9 C1475.6 1123.6 1493.9 1120.1 1500.0 1119.0" stroke="rgba(78,38,6,0.12)" stroke-width="8"/>
<path d="M400.0 1330.8 C406.1 1329.5 424.4 1325.8 436.7 1323.4 C448.9 1321.0 461.1 1318.6 473.3 1316.3 C485.6 1314.1 497.8 1311.9 510.0 1309.9 C522.2 1307.8 534.4 1305.9 546.7 1304.0 C558.9 1302.1 571.1 1300.3 583.3 1298.4 C595.6 1296.5 607.8 1294.7 620.0 1292.8 C632.2 1290.9 644.4 1289.0 656.7 1286.9 C668.9 1284.8 681.1 1282.7 693.3 1280.5 C705.6 1278.2 717.8 1275.9 730.0 1273.5 C742.2 1271.2 754.4 1268.7 766.7 1266.4 C778.9 1264.0 791.1 1261.6 803.3 1259.2 C815.6 1256.9 827.8 1254.6 840.0 1252.4 C852.2 1250.3 864.4 1248.2 876.7 1246.1 C888.9 1244.0 901.1 1242.0 913.3 1240.0 C925.6 1238.0 937.8 1236.0 950.0 1233.9 C962.2 1231.8 974.4 1229.7 986.7 1227.5 C998.9 1225.3 1011.1 1222.9 1023.3 1220.5 C1035.6 1218.1 1047.8 1215.6 1060.0 1213.0 C1072.2 1210.5 1084.4 1207.8 1096.7 1205.2 C1108.9 1202.6 1121.1 1199.9 1133.3 1197.3 C1145.6 1194.8 1157.8 1192.2 1170.0 1189.8 C1182.2 1187.4 1194.4 1185.1 1206.7 1182.8 C1218.9 1180.6 1231.1 1178.5 1243.3 1176.4 C1255.6 1174.3 1267.8 1172.3 1280.0 1170.2 C1292.2 1168.2 1304.4 1166.2 1316.7 1164.1 C1328.9 1162.0 1341.1 1159.9 1353.3 1157.7 C1365.6 1155.4 1377.8 1153.2 1390.0 1150.8 C1402.2 1148.5 1414.4 1146.1 1426.7 1143.7 C1438.9 1141.3 1451.1 1138.8 1463.3 1136.4 C1475.6 1134.1 1493.9 1130.6 1500.0 1129.5" stroke="rgba(225,150,70,0.28)" stroke-width="6"/>
<path d="M400.0 1358.4 C406.1 1357.4 424.4 1354.4 436.7 1352.3 C448.9 1350.2 461.1 1348.2 473.3 1346.0 C485.6 1343.8 497.8 1341.5 510.0 1339.1 C522.2 1336.7 534.4 1334.1 546.7 1331.5 C558.9 1328.8 571.1 1326.0 583.3 1323.2 C595.6 1320.4 607.8 1317.5 620.0 1314.6 C632.2 1311.8 644.4 1308.9 656.7 1306.1 C668.9 1303.3 681.1 1300.5 693.3 1297.9 C705.6 1295.3 717.8 1292.7 730.0 1290.2 C742.2 1287.7 754.4 1285.3 766.7 1283.0 C778.9 1280.6 791.1 1278.2 803.3 1275.9 C815.6 1273.5 827.8 1271.1 840.0 1268.7 C852.2 1266.2 864.4 1263.7 876.7 1261.2 C888.9 1258.6 901.1 1256.0 913.3 1253.4 C925.6 1250.8 937.8 1248.1 950.0 1245.5 C962.2 1242.9 974.4 1240.3 986.7 1237.8 C998.9 1235.4 1011.1 1233.0 1023.3 1230.7 C1035.6 1228.5 1047.8 1226.3 1060.0 1224.3 C1072.2 1222.2 1084.4 1220.3 1096.7 1218.5 C1108.9 1216.6 1121.1 1214.8 1133.3 1213.0 C1145.6 1211.1 1157.8 1209.3 1170.0 1207.4 C1182.2 1205.5 1194.4 1203.5 1206.7 1201.5 C1218.9 1199.4 1231.1 1197.2 1243.3 1195.0 C1255.6 1192.7 1267.8 1190.3 1280.0 1188.0 C1292.2 1185.6 1304.4 1183.1 1316.7 1180.7 C1328.9 1178.2 1341.1 1175.8 1353.3 1173.4 C1365.6 1171.0 1377.8 1168.7 1390.0 1166.4 C1402.2 1164.1 1414.4 1161.9 1426.7 1159.7 C1438.9 1157.5 1451.1 1155.3 1463.3 1153.1 C1475.6 1150.9 1493.9 1147.5 1500.0 1146.3" stroke="rgba(78,38,6,0.5)" stroke-width="4.5"/>
<path d="M400.0 1351.9 C406.1 1350.9 424.4 1347.9 436.7 1345.8 C448.9 1343.7 461.1 1341.7 473.3 1339.5 C485.6 1337.3 497.8 1335.0 510.0 1332.6 C522.2 1330.2 534.4 1327.6 546.7 1325.0 C558.9 1322.3 571.1 1319.5 583.3 1316.7 C595.6 1313.9 607.8 1311.0 620.0 1308.1 C632.2 1305.3 644.4 1302.4 656.7 1299.6 C668.9 1296.8 681.1 1294.0 693.3 1291.4 C705.6 1288.8 717.8 1286.2 730.0 1283.7 C742.2 1281.2 754.4 1278.8 766.7 1276.5 C778.9 1274.1 791.1 1271.7 803.3 1269.4 C815.6 1267.0 827.8 1264.6 840.0 1262.2 C852.2 1259.7 864.4 1257.2 876.7 1254.7 C888.9 1252.1 901.1 1249.5 913.3 1246.9 C925.6 1244.3 937.8 1241.6 950.0 1239.0 C962.2 1236.4 974.4 1233.8 986.7 1231.3 C998.9 1228.9 1011.1 1226.5 1023.3 1224.2 C1035.6 1222.0 1047.8 1219.8 1060.0 1217.8 C1072.2 1215.7 1084.4 1213.8 1096.7 1212.0 C1108.9 1210.1 1121.1 1208.3 1133.3 1206.5 C1145.6 1204.6 1157.8 1202.8 1170.0 1200.9 C1182.2 1199.0 1194.4 1197.0 1206.7 1195.0 C1218.9 1192.9 1231.1 1190.7 1243.3 1188.5 C1255.6 1186.2 1267.8 1183.8 1280.0 1181.5 C1292.2 1179.1 1304.4 1176.6 1316.7 1174.2 C1328.9 1171.7 1341.1 1169.3 1353.3 1166.9 C1365.6 1164.5 1377.8 1162.2 1390.0 1159.9 C1402.2 1157.6 1414.4 1155.4 1426.7 1153.2 C1438.9 1151.0 1451.1 1148.8 1463.3 1146.6 C1475.6 1144.4 1493.9 1141.0 1500.0 1139.8" stroke="rgba(78,38,6,0.12)" stroke-width="9.5"/>
<path d="M400.0 1365.4 C406.1 1364.4 424.4 1361.4 436.7 1359.3 C448.9 1357.2 461.1 1355.2 473.3 1353.0 C485.6 1350.8 497.8 1348.5 510.0 1346.1 C522.2 1343.7 534.4 1341.1 546.7 1338.5 C558.9 1335.8 571.1 1333.0 583.3 1330.2 C595.6 1327.4 607.8 1324.5 620.0 1321.6 C632.2 1318.8 644.4 1315.9 656.7 1313.1 C668.9 1310.3 681.1 1307.5 693.3 1304.9 C705.6 1302.3 717.8 1299.7 730.0 1297.2 C742.2 1294.7 754.4 1292.3 766.7 1290.0 C778.9 1287.6 791.1 1285.2 803.3 1282.9 C815.6 1280.5 827.8 1278.1 840.0 1275.7 C852.2 1273.2 864.4 1270.7 876.7 1268.2 C888.9 1265.6 901.1 1263.0 913.3 1260.4 C925.6 1257.8 937.8 1255.1 950.0 1252.5 C962.2 1249.9 974.4 1247.3 986.7 1244.8 C998.9 1242.4 1011.1 1240.0 1023.3 1237.7 C1035.6 1235.5 1047.8 1233.3 1060.0 1231.3 C1072.2 1229.2 1084.4 1227.3 1096.7 1225.5 C1108.9 1223.6 1121.1 1221.8 1133.3 1220.0 C1145.6 1218.1 1157.8 1216.3 1170.0 1214.4 C1182.2 1212.5 1194.4 1210.5 1206.7 1208.5 C1218.9 1206.4 1231.1 1204.2 1243.3 1202.0 C1255.6 1199.7 1267.8 1197.3 1280.0 1195.0 C1292.2 1192.6 1304.4 1190.1 1316.7 1187.7 C1328.9 1185.2 1341.1 1182.8 1353.3 1180.4 C1365.6 1178.0 1377.8 1175.7 1390.0 1173.4 C1402.2 1171.1 1414.4 1168.9 1426.7 1166.7 C1438.9 1164.5 1451.1 1162.3 1463.3 1160.1 C1475.6 1157.9 1493.9 1154.5 1500.0 1153.3" stroke="rgba(225,150,70,0.28)" stroke-width="7.5"/>
<path d="M400.0 1372.7 C406.1 1371.7 424.4 1368.4 436.7 1366.4 C448.9 1364.4 461.1 1362.5 473.3 1360.5 C485.6 1358.6 497.8 1356.8 510.0 1354.8 C522.2 1352.9 534.4 1351.0 546.7 1348.9 C558.9 1346.9 571.1 1344.8 583.3 1342.5 C595.6 1340.3 607.8 1337.9 620.0 1335.4 C632.2 1332.9 644.4 1330.3 656.7 1327.7 C668.9 1325.1 681.1 1322.4 693.3 1319.7 C705.6 1317.0 717.8 1314.3 730.0 1311.7 C742.2 1309.1 754.4 1306.5 766.7 1304.0 C778.9 1301.5 791.1 1299.1 803.3 1296.7 C815.6 1294.3 827.8 1292.0 840.0 1289.6 C852.2 1287.3 864.4 1284.9 876.7 1282.5 C888.9 1280.1 901.1 1277.7 913.3 1275.1 C925.6 1272.6 937.8 1270.0 950.0 1267.3 C962.2 1264.6 974.4 1261.8 986.7 1259.0 C998.9 1256.3 1011.1 1253.4 1023.3 1250.6 C1035.6 1247.8 1047.8 1245.0 1060.0 1242.4 C1072.2 1239.7 1084.4 1237.1 1096.7 1234.7 C1108.9 1232.2 1121.1 1229.9 1133.3 1227.7 C1145.6 1225.4 1157.8 1223.4 1170.0 1221.3 C1182.2 1219.2 1194.4 1217.3 1206.7 1215.2 C1218.9 1213.2 1231.1 1211.3 1243.3 1209.2 C1255.6 1207.1 1267.8 1205.0 1280.0 1202.9 C1292.2 1200.7 1304.4 1198.4 1316.7 1196.1 C1328.9 1193.8 1341.1 1191.4 1353.3 1189.0 C1365.6 1186.6 1377.8 1184.2 1390.0 1181.9 C1402.2 1179.5 1414.4 1177.2 1426.7 1174.9 C1438.9 1172.6 1451.1 1170.5 1463.3 1168.3 C1475.6 1166.2 1493.9 1163.2 1500.0 1162.2" stroke="rgba(78,38,6,0.5)" stroke-width="2"/>
<path d="M400.0 1368.7 C406.1 1367.7 424.4 1364.4 436.7 1362.4 C448.9 1360.4 461.1 1358.5 473.3 1356.5 C485.6 1354.6 497.8 1352.8 510.0 1350.8 C522.2 1348.9 534.4 1347.0 546.7 1344.9 C558.9 1342.9 571.1 1340.8 583.3 1338.5 C595.6 1336.3 607.8 1333.9 620.0 1331.4 C632.2 1328.9 644.4 1326.3 656.7 1323.7 C668.9 1321.1 681.1 1318.4 693.3 1315.7 C705.6 1313.0 717.8 1310.3 730.0 1307.7 C742.2 1305.1 754.4 1302.5 766.7 1300.0 C778.9 1297.5 791.1 1295.1 803.3 1292.7 C815.6 1290.3 827.8 1288.0 840.0 1285.6 C852.2 1283.3 864.4 1280.9 876.7 1278.5 C888.9 1276.1 901.1 1273.7 913.3 1271.1 C925.6 1268.6 937.8 1266.0 950.0 1263.3 C962.2 1260.6 974.4 1257.8 986.7 1255.0 C998.9 1252.3 1011.1 1249.4 1023.3 1246.6 C1035.6 1243.8 1047.8 1241.0 1060.0 1238.4 C1072.2 1235.7 1084.4 1233.1 1096.7 1230.7 C1108.9 1228.2 1121.1 1225.9 1133.3 1223.7 C1145.6 1221.4 1157.8 1219.4 1170.0 1217.3 C1182.2 1215.2 1194.4 1213.3 1206.7 1211.2 C1218.9 1209.2 1231.1 1207.3 1243.3 1205.2 C1255.6 1203.1 1267.8 1201.0 1280.0 1198.9 C1292.2 1196.7 1304.4 1194.4 1316.7 1192.1 C1328.9 1189.8 1341.1 1187.4 1353.3 1185.0 C1365.6 1182.6 1377.8 1180.2 1390.0 1177.9 C1402.2 1175.5 1414.4 1173.2 1426.7 1170.9 C1438.9 1168.6 1451.1 1166.5 1463.3 1164.3 C1475.6 1162.2 1493.9 1159.2 1500.0 1158.2" stroke="rgba(78,38,6,0.12)" stroke-width="7"/>
<path d="M400.0 1377.2 C406.1 1376.2 424.4 1372.9 436.7 1370.9 C448.9 1368.9 461.1 1367.0 473.3 1365.0 C485.6 1363.1 497.8 1361.3 510.0 1359.3 C522.2 1357.4 534.4 1355.5 546.7 1353.4 C558.9 1351.4 571.1 1349.3 583.3 1347.0 C595.6 1344.8 607.8 1342.4 620.0 1339.9 C632.2 1337.4 644.4 1334.8 656.7 1332.2 C668.9 1329.6 681.1 1326.9 693.3 1324.2 C705.6 1321.5 717.8 1318.8 730.0 1316.2 C742.2 1313.6 754.4 1311.0 766.7 1308.5 C778.9 1306.0 791.1 1303.6 803.3 1301.2 C815.6 1298.8 827.8 1296.5 840.0 1294.1 C852.2 1291.8 864.4 1289.4 876.7 1287.0 C888.9 1284.6 901.1 1282.2 913.3 1279.6 C925.6 1277.1 937.8 1274.5 950.0 1271.8 C962.2 1269.1 974.4 1266.3 986.7 1263.5 C998.9 1260.8 1011.1 1257.9 1023.3 1255.1 C1035.6 1252.3 1047.8 1249.5 1060.0 1246.9 C1072.2 1244.2 1084.4 1241.6 1096.7 1239.2 C1108.9 1236.7 1121.1 1234.4 1133.3 1232.2 C1145.6 1229.9 1157.8 1227.9 1170.0 1225.8 C1182.2 1223.7 1194.4 1221.8 1206.7 1219.7 C1218.9 1217.7 1231.1 1215.8 1243.3 1213.7 C1255.6 1211.6 1267.8 1209.5 1280.0 1207.4 C1292.2 1205.2 1304.4 1202.9 1316.7 1200.6 C1328.9 1198.3 1341.1 1195.9 1353.3 1193.5 C1365.6 1191.1 1377.8 1188.7 1390.0 1186.4 C1402.2 1184.0 1414.4 1181.7 1426.7 1179.4 C1438.9 1177.1 1451.1 1175.0 1463.3 1172.8 C1475.6 1170.7 1493.9 1167.7 1500.0 1166.7" stroke="rgba(225,150,70,0.28)" stroke-width="5"/>
<path d="M400.0 1398.2 C406.1 1397.2 424.4 1394.3 436.7 1392.1 C448.9 1390.0 461.1 1387.8 473.3 1385.5 C485.6 1383.2 497.8 1380.8 510.0 1378.3 C522.2 1375.7 534.4 1373.1 546.7 1370.4 C558.9 1367.7 571.1 1364.9 583.3 1362.2 C595.6 1359.5 607.8 1356.7 620.0 1354.0 C632.2 1351.4 644.4 1348.7 656.7 1346.2 C668.9 1343.7 681.1 1341.3 693.3 1339.0 C705.6 1336.7 717.8 1334.5 730.0 1332.3 C742.2 1330.1 754.4 1328.0 766.7 1325.9 C778.9 1323.7 791.1 1321.6 803.3 1319.4 C815.6 1317.2 827.8 1315.0 840.0 1312.7 C852.2 1310.4 864.4 1308.0 876.7 1305.7 C888.9 1303.3 901.1 1300.9 913.3 1298.5 C925.6 1296.1 937.8 1293.7 950.0 1291.4 C962.2 1289.1 974.4 1286.9 986.7 1284.8 C998.9 1282.7 1011.1 1280.7 1023.3 1278.8 C1035.6 1276.9 1047.8 1275.1 1060.0 1273.4 C1072.2 1271.6 1084.4 1270.0 1096.7 1268.2 C1108.9 1266.5 1121.1 1264.9 1133.3 1263.1 C1145.6 1261.3 1157.8 1259.5 1170.0 1257.5 C1182.2 1255.6 1194.4 1253.5 1206.7 1251.4 C1218.9 1249.2 1231.1 1246.9 1243.3 1244.6 C1255.6 1242.3 1267.8 1239.9 1280.0 1237.5 C1292.2 1235.1 1304.4 1232.7 1316.7 1230.3 C1328.9 1228.0 1341.1 1225.7 1353.3 1223.4 C1365.6 1221.1 1377.8 1218.9 1390.0 1216.8 C1402.2 1214.6 1414.4 1212.5 1426.7 1210.4 C1438.9 1208.2 1451.1 1206.1 1463.3 1203.9 C1475.6 1201.7 1493.9 1198.2 1500.0 1197.1" stroke="rgba(78,38,6,0.7)" stroke-width="3"/>
<path d="M400.0 1393.2 C406.1 1392.2 424.4 1389.3 436.7 1387.1 C448.9 1385.0 461.1 1382.8 473.3 1380.5 C485.6 1378.2 497.8 1375.8 510.0 1373.3 C522.2 1370.7 534.4 1368.1 546.7 1365.4 C558.9 1362.7 571.1 1359.9 583.3 1357.2 C595.6 1354.5 607.8 1351.7 620.0 1349.0 C632.2 1346.4 644.4 1343.7 656.7 1341.2 C668.9 1338.7 681.1 1336.3 693.3 1334.0 C705.6 1331.7 717.8 1329.5 730.0 1327.3 C742.2 1325.1 754.4 1323.0 766.7 1320.9 C778.9 1318.7 791.1 1316.6 803.3 1314.4 C815.6 1312.2 827.8 1310.0 840.0 1307.7 C852.2 1305.4 864.4 1303.0 876.7 1300.7 C888.9 1298.3 901.1 1295.9 913.3 1293.5 C925.6 1291.1 937.8 1288.7 950.0 1286.4 C962.2 1284.1 974.4 1281.9 986.7 1279.8 C998.9 1277.7 1011.1 1275.7 1023.3 1273.8 C1035.6 1271.9 1047.8 1270.1 1060.0 1268.4 C1072.2 1266.6 1084.4 1265.0 1096.7 1263.2 C1108.9 1261.5 1121.1 1259.9 1133.3 1258.1 C1145.6 1256.3 1157.8 1254.5 1170.0 1252.5 C1182.2 1250.6 1194.4 1248.5 1206.7 1246.4 C1218.9 1244.2 1231.1 1241.9 1243.3 1239.6 C1255.6 1237.3 1267.8 1234.9 1280.0 1232.5 C1292.2 1230.1 1304.4 1227.7 1316.7 1225.3 C1328.9 1223.0 1341.1 1220.7 1353.3 1218.4 C1365.6 1216.1 1377.8 1213.9 1390.0 1211.8 C1402.2 1209.6 1414.4 1207.5 1426.7 1205.4 C1438.9 1203.2 1451.1 1201.1 1463.3 1198.9 C1475.6 1196.7 1493.9 1193.2 1500.0 1192.1" stroke="rgba(78,38,6,0.12)" stroke-width="8"/>
<path d="M400.0 1403.7 C406.1 1402.7 424.4 1399.8 436.7 1397.6 C448.9 1395.5 461.1 1393.3 473.3 1391.0 C485.6 1388.7 497.8 1386.3 510.0 1383.8 C522.2 1381.2 534.4 1378.6 546.7 1375.9 C558.9 1373.2 571.1 1370.4 583.3 1367.7 C595.6 1365.0 607.8 1362.2 620.0 1359.5 C632.2 1356.9 644.4 1354.2 656.7 1351.7 C668.9 1349.2 681.1 1346.8 693.3 1344.5 C705.6 1342.2 717.8 1340.0 730.0 1337.8 C742.2 1335.6 754.4 1333.5 766.7 1331.4 C778.9 1329.2 791.1 1327.1 803.3 1324.9 C815.6 1322.7 827.8 1320.5 840.0 1318.2 C852.2 1315.9 864.4 1313.5 876.7 1311.2 C888.9 1308.8 901.1 1306.4 913.3 1304.0 C925.6 1301.6 937.8 1299.2 950.0 1296.9 C962.2 1294.6 974.4 1292.4 986.7 1290.3 C998.9 1288.2 1011.1 1286.2 1023.3 1284.3 C1035.6 1282.4 1047.8 1280.6 1060.0 1278.9 C1072.2 1277.1 1084.4 1275.5 1096.7 1273.7 C1108.9 1272.0 1121.1 1270.4 1133.3 1268.6 C1145.6 1266.8 1157.8 1265.0 1170.0 1263.0 C1182.2 1261.1 1194.4 1259.0 1206.7 1256.9 C1218.9 1254.7 1231.1 1252.4 1243.3 1250.1 C1255.6 1247.8 1267.8 1245.4 1280.0 1243.0 C1292.2 1240.6 1304.4 1238.2 1316.7 1235.8 C1328.9 1233.5 1341.1 1231.2 1353.3 1228.9 C1365.6 1226.6 1377.8 1224.4 1390.0 1222.3 C1402.2 1220.1 1414.4 1218.0 1426.7 1215.9 C1438.9 1213.7 1451.1 1211.6 1463.3 1209.4 C1475.6 1207.2 1493.9 1203.7 1500.0 1202.6" stroke="rgba(225,150,70,0.28)" stroke-width="6"/>
<path d="M400.0 1414.1 C406.1 1412.9 424.4 1409.3 436.7 1407.1 C448.9 1404.8 461.1 1402.7 473.3 1400.6 C485.6 1398.6 497.8 1396.7 510.0 1394.8 C522.2 1392.9 534.4 1391.1 546.7 1389.2 C558.9 1387.3 571.1 1385.4 583.3 1383.5 C595.6 1381.5 607.8 1379.5 620.0 1377.3 C632.2 1375.2 644.4 1372.9 656.7 1370.6 C668.9 1368.2 681.1 1365.8 693.3 1363.3 C705.6 1360.8 717.8 1358.2 730.0 1355.6 C742.2 1353.1 754.4 1350.5 766.7 1348.0 C778.9 1345.5 791.1 1343.0 803.3 1340.7 C815.6 1338.3 827.8 1335.9 840.0 1333.6 C852.2 1331.3 864.4 1329.1 876.7 1326.9 C888.9 1324.6 901.1 1322.4 913.3 1320.0 C925.6 1317.7 937.8 1315.3 950.0 1312.8 C962.2 1310.3 974.4 1307.8 986.7 1305.1 C998.9 1302.4 1011.1 1299.7 1023.3 1296.9 C1035.6 1294.1 1047.8 1291.2 1060.0 1288.4 C1072.2 1285.6 1084.4 1282.7 1096.7 1280.0 C1108.9 1277.3 1121.1 1274.6 1133.3 1272.0 C1145.6 1269.5 1157.8 1267.1 1170.0 1264.7 C1182.2 1262.4 1194.4 1260.2 1206.7 1258.0 C1218.9 1255.9 1231.1 1253.8 1243.3 1251.7 C1255.6 1249.6 1267.8 1247.6 1280.0 1245.4 C1292.2 1243.3 1304.4 1241.1 1316.7 1238.9 C1328.9 1236.7 1341.1 1234.3 1353.3 1232.0 C1365.6 1229.6 1377.8 1227.2 1390.0 1224.8 C1402.2 1222.4 1414.4 1220.0 1426.7 1217.6 C1438.9 1215.2 1451.1 1212.9 1463.3 1210.7 C1475.6 1208.4 1493.9 1205.3 1500.0 1204.2" stroke="rgba(78,38,6,0.7)" stroke-width="4.5"/>
<path d="M400.0 1407.6 C406.1 1406.4 424.4 1402.8 436.7 1400.6 C448.9 1398.3 461.1 1396.2 473.3 1394.1 C485.6 1392.1 497.8 1390.2 510.0 1388.3 C522.2 1386.4 534.4 1384.6 546.7 1382.7 C558.9 1380.8 571.1 1378.9 583.3 1377.0 C595.6 1375.0 607.8 1373.0 620.0 1370.8 C632.2 1368.7 644.4 1366.4 656.7 1364.1 C668.9 1361.7 681.1 1359.3 693.3 1356.8 C705.6 1354.3 717.8 1351.7 730.0 1349.1 C742.2 1346.6 754.4 1344.0 766.7 1341.5 C778.9 1339.0 791.1 1336.5 803.3 1334.2 C815.6 1331.8 827.8 1329.4 840.0 1327.1 C852.2 1324.8 864.4 1322.6 876.7 1320.4 C888.9 1318.1 901.1 1315.9 913.3 1313.5 C925.6 1311.2 937.8 1308.8 950.0 1306.3 C962.2 1303.8 974.4 1301.3 986.7 1298.6 C998.9 1295.9 1011.1 1293.2 1023.3 1290.4 C1035.6 1287.6 1047.8 1284.7 1060.0 1281.9 C1072.2 1279.1 1084.4 1276.2 1096.7 1273.5 C1108.9 1270.8 1121.1 1268.1 1133.3 1265.5 C1145.6 1263.0 1157.8 1260.6 1170.0 1258.2 C1182.2 1255.9 1194.4 1253.7 1206.7 1251.5 C1218.9 1249.4 1231.1 1247.3 1243.3 1245.2 C1255.6 1243.1 1267.8 1241.1 1280.0 1238.9 C1292.2 1236.8 1304.4 1234.6 1316.7 1232.4 C1328.9 1230.2 1341.1 1227.8 1353.3 1225.5 C1365.6 1223.1 1377.8 1220.7 1390.0 1218.3 C1402.2 1215.9 1414.4 1213.5 1426.7 1211.1 C1438.9 1208.7 1451.1 1206.4 1463.3 1204.2 C1475.6 1201.9 1493.9 1198.8 1500.0 1197.7" stroke="rgba(78,38,6,0.12)" stroke-width="9.5"/>
<path d="M400.0 1421.1 C406.1 1419.9 424.4 1416.3 436.7 1414.1 C448.9 1411.8 461.1 1409.7 473.3 1407.6 C485.6 1405.6 497.8 1403.7 510.0 1401.8 C522.2 1399.9 534.4 1398.1 546.7 1396.2 C558.9 1394.3 571.1 1392.4 583.3 1390.5 C595.6 1388.5 607.8 1386.5 620.0 1384.3 C632.2 1382.2 644.4 1379.9 656.7 1377.6 C668.9 1375.2 681.1 1372.8 693.3 1370.3 C705.6 1367.8 717.8 1365.2 730.0 1362.6 C742.2 1360.1 754.4 1357.5 766.7 1355.0 C778.9 1352.5 791.1 1350.0 803.3 1347.7 C815.6 1345.3 827.8 1342.9 840.0 1340.6 C852.2 1338.3 864.4 1336.1 876.7 1333.9 C888.9 1331.6 901.1 1329.4 913.3 1327.0 C925.6 1324.7 937.8 1322.3 950.0 1319.8 C962.2 1317.3 974.4 1314.8 986.7 1312.1 C998.9 1309.4 1011.1 1306.7 1023.3 1303.9 C1035.6 1301.1 1047.8 1298.2 1060.0 1295.4 C1072.2 1292.6 1084.4 1289.7 1096.7 1287.0 C1108.9 1284.3 1121.1 1281.6 1133.3 1279.0 C1145.6 1276.5 1157.8 1274.1 1170.0 1271.7 C1182.2 1269.4 1194.4 1267.2 1206.7 1265.0 C1218.9 1262.9 1231.1 1260.8 1243.3 1258.7 C1255.6 1256.6 1267.8 1254.6 1280.0 1252.4 C1292.2 1250.3 1304.4 1248.1 1316.7 1245.9 C1328.9 1243.7 1341.1 1241.3 1353.3 1239.0 C1365.6 1236.6 1377.8 1234.2 1390.0 1231.8 C1402.2 1229.4 1414.4 1227.0 1426.7 1224.6 C1438.9 1222.2 1451.1 1219.9 1463.3 1217.7 C1475.6 1215.4 1493.9 1212.3 1500.0 1211.2" stroke="rgba(225,150,70,0.28)" stroke-width="7.5"/>
<path d="M400.0 1428.9 C406.1 1427.8 424.4 1424.2 436.7 1422.0 C448.9 1419.8 461.1 1417.7 473.3 1415.7 C485.6 1413.6 497.8 1411.7 510.0 1409.8 C522.2 1407.8 534.4 1406.0 546.7 1404.1 C558.9 1402.2 571.1 1400.3 583.3 1398.2 C595.6 1396.2 607.8 1394.1 620.0 1391.9 C632.2 1389.7 644.4 1387.4 656.7 1385.0 C668.9 1382.6 681.1 1380.1 693.3 1377.6 C705.6 1375.1 717.8 1372.5 730.0 1370.0 C742.2 1367.5 754.4 1364.9 766.7 1362.5 C778.9 1360.0 791.1 1357.6 803.3 1355.3 C815.6 1352.9 827.8 1350.7 840.0 1348.5 C852.2 1346.2 864.4 1344.1 876.7 1341.9 C888.9 1339.7 901.1 1337.5 913.3 1335.2 C925.6 1333.0 937.8 1330.7 950.0 1328.2 C962.2 1325.8 974.4 1323.3 986.7 1320.7 C998.9 1318.1 1011.1 1315.4 1023.3 1312.7 C1035.6 1310.0 1047.8 1307.2 1060.0 1304.5 C1072.2 1301.8 1084.4 1299.1 1096.7 1296.5 C1108.9 1293.8 1121.1 1291.3 1133.3 1288.9 C1145.6 1286.4 1157.8 1284.1 1170.0 1281.9 C1182.2 1279.7 1194.4 1277.6 1206.7 1275.5 C1218.9 1273.4 1231.1 1271.4 1243.3 1269.3 C1255.6 1267.2 1267.8 1265.2 1280.0 1263.1 C1292.2 1261.0 1304.4 1258.8 1316.7 1256.6 C1328.9 1254.3 1341.1 1252.0 1353.3 1249.6 C1365.6 1247.2 1377.8 1244.8 1390.0 1242.4 C1402.2 1240.0 1414.4 1237.5 1426.7 1235.1 C1438.9 1232.8 1451.1 1230.4 1463.3 1228.2 C1475.6 1225.9 1493.9 1222.8 1500.0 1221.7" stroke="rgba(78,38,6,0.5)" stroke-width="4.5"/>
<path d="M400.0 1422.4 C406.1 1421.3 424.4 1417.7 436.7 1415.5 C448.9 1413.3 461.1 1411.2 473.3 1409.2 C485.6 1407.1 497.8 1405.2 510.0 1403.3 C522.2 1401.3 534.4 1399.5 546.7 1397.6 C558.9 1395.7 571.1 1393.8 583.3 1391.7 C595.6 1389.7 607.8 1387.6 620.0 1385.4 C632.2 1383.2 644.4 1380.9 656.7 1378.5 C668.9 1376.1 681.1 1373.6 693.3 1371.1 C705.6 1368.6 717.8 1366.0 730.0 1363.5 C742.2 1361.0 754.4 1358.4 766.7 1356.0 C778.9 1353.5 791.1 1351.1 803.3 1348.8 C815.6 1346.4 827.8 1344.2 840.0 1342.0 C852.2 1339.7 864.4 1337.6 876.7 1335.4 C888.9 1333.2 901.1 1331.0 913.3 1328.7 C925.6 1326.5 937.8 1324.2 950.0 1321.7 C962.2 1319.3 974.4 1316.8 986.7 1314.2 C998.9 1311.6 1011.1 1308.9 1023.3 1306.2 C1035.6 1303.5 1047.8 1300.7 1060.0 1298.0 C1072.2 1295.3 1084.4 1292.6 1096.7 1290.0 C1108.9 1287.3 1121.1 1284.8 1133.3 1282.4 C1145.6 1279.9 1157.8 1277.6 1170.0 1275.4 C1182.2 1273.2 1194.4 1271.1 1206.7 1269.0 C1218.9 1266.9 1231.1 1264.9 1243.3 1262.8 C1255.6 1260.7 1267.8 1258.7 1280.0 1256.6 C1292.2 1254.5 1304.4 1252.3 1316.7 1250.1 C1328.9 1247.8 1341.1 1245.5 1353.3 1243.1 C1365.6 1240.7 1377.8 1238.3 1390.0 1235.9 C1402.2 1233.5 1414.4 1231.0 1426.7 1228.6 C1438.9 1226.3 1451.1 1223.9 1463.3 1221.7 C1475.6 1219.4 1493.9 1216.3 1500.0 1215.2" stroke="rgba(78,38,6,0.12)" stroke-width="9.5"/>
<path d="M400.0 1435.9 C406.1 1434.8 424.4 1431.2 436.7 1429.0 C448.9 1426.8 461.1 1424.7 473.3 1422.7 C485.6 1420.6 497.8 1418.7 510.0 1416.8 C522.2 1414.8 534.4 1413.0 546.7 1411.1 C558.9 1409.2 571.1 1407.3 583.3 1405.2 C595.6 1403.2 607.8 1401.1 620.0 1398.9 C632.2 1396.7 644.4 1394.4 656.7 1392.0 C668.9 1389.6 681.1 1387.1 693.3 1384.6 C705.6 1382.1 717.8 1379.5 730.0 1377.0 C742.2 1374.5 754.4 1371.9 766.7 1369.5 C778.9 1367.0 791.1 1364.6 803.3 1362.3 C815.6 1359.9 827.8 1357.7 840.0 1355.5 C852.2 1353.2 864.4 1351.1 876.7 1348.9 C888.9 1346.7 901.1 1344.5 913.3 1342.2 C925.6 1340.0 937.8 1337.7 950.0 1335.2 C962.2 1332.8 974.4 1330.3 986.7 1327.7 C998.9 1325.1 1011.1 1322.4 1023.3 1319.7 C1035.6 1317.0 1047.8 1314.2 1060.0 1311.5 C1072.2 1308.8 1084.4 1306.1 1096.7 1303.5 C1108.9 1300.8 1121.1 1298.3 1133.3 1295.9 C1145.6 1293.4 1157.8 1291.1 1170.0 1288.9 C1182.2 1286.7 1194.4 1284.6 1206.7 1282.5 C1218.9 1280.4 1231.1 1278.4 1243.3 1276.3 C1255.6 1274.2 1267.8 1272.2 1280.0 1270.1 C1292.2 1268.0 1304.4 1265.8 1316.7 1263.6 C1328.9 1261.3 1341.1 1259.0 1353.3 1256.6 C1365.6 1254.2 1377.8 1251.8 1390.0 1249.4 C1402.2 1247.0 1414.4 1244.5 1426.7 1242.1 C1438.9 1239.8 1451.1 1237.4 1463.3 1235.2 C1475.6 1232.9 1493.9 1229.8 1500.0 1228.7" stroke="rgba(225,150,70,0.28)" stroke-width="7.5"/>
<path d="M400.0 1459.1 C406.1 1458.0 424.4 1454.8 436.7 1452.6 C448.9 1450.3 461.1 1448.0 473.3 1445.5 C485.6 1443.1 497.8 1440.5 510.0 1437.9 C522.2 1435.3 534.4 1432.5 546.7 1429.8 C558.9 1427.1 571.1 1424.3 583.3 1421.6 C595.6 1418.8 607.8 1416.1 620.0 1413.5 C632.2 1410.9 644.4 1408.4 656.7 1405.9 C668.9 1403.5 681.1 1401.2 693.3 1399.0 C705.6 1396.7 717.8 1394.5 730.0 1392.4 C742.2 1390.2 754.4 1388.1 766.7 1385.9 C778.9 1383.8 791.1 1381.6 803.3 1379.3 C815.6 1377.0 827.8 1374.7 840.0 1372.3 C852.2 1369.9 864.4 1367.5 876.7 1365.0 C888.9 1362.5 901.1 1360.0 913.3 1357.5 C925.6 1355.0 937.8 1352.6 950.0 1350.2 C962.2 1347.8 974.4 1345.5 986.7 1343.4 C998.9 1341.2 1011.1 1339.1 1023.3 1337.1 C1035.6 1335.1 1047.8 1333.2 1060.0 1331.2 C1072.2 1329.3 1084.4 1327.5 1096.7 1325.6 C1108.9 1323.7 1121.1 1321.8 1133.3 1319.7 C1145.6 1317.7 1157.8 1315.6 1170.0 1313.4 C1182.2 1311.2 1194.4 1308.8 1206.7 1306.4 C1218.9 1304.0 1231.1 1301.5 1243.3 1299.0 C1255.6 1296.5 1267.8 1293.9 1280.0 1291.4 C1292.2 1288.9 1304.4 1286.3 1316.7 1283.9 C1328.9 1281.5 1341.1 1279.1 1353.3 1276.8 C1365.6 1274.4 1377.8 1272.2 1390.0 1270.0 C1402.2 1267.8 1414.4 1265.6 1426.7 1263.4 C1438.9 1261.2 1451.1 1259.0 1463.3 1256.8 C1475.6 1254.5 1493.9 1250.9 1500.0 1249.7" stroke="rgba(78,38,6,0.6)" stroke-width="2"/>
<path d="M400.0 1455.1 C406.1 1454.0 424.4 1450.8 436.7 1448.6 C448.9 1446.3 461.1 1444.0 473.3 1441.5 C485.6 1439.1 497.8 1436.5 510.0 1433.9 C522.2 1431.3 534.4 1428.5 546.7 1425.8 C558.9 1423.1 571.1 1420.3 583.3 1417.6 C595.6 1414.8 607.8 1412.1 620.0 1409.5 C632.2 1406.9 644.4 1404.4 656.7 1401.9 C668.9 1399.5 681.1 1397.2 693.3 1395.0 C705.6 1392.7 717.8 1390.5 730.0 1388.4 C742.2 1386.2 754.4 1384.1 766.7 1381.9 C778.9 1379.8 791.1 1377.6 803.3 1375.3 C815.6 1373.0 827.8 1370.7 840.0 1368.3 C852.2 1365.9 864.4 1363.5 876.7 1361.0 C888.9 1358.5 901.1 1356.0 913.3 1353.5 C925.6 1351.0 937.8 1348.6 950.0 1346.2 C962.2 1343.8 974.4 1341.5 986.7 1339.4 C998.9 1337.2 1011.1 1335.1 1023.3 1333.1 C1035.6 1331.1 1047.8 1329.2 1060.0 1327.2 C1072.2 1325.3 1084.4 1323.5 1096.7 1321.6 C1108.9 1319.7 1121.1 1317.8 1133.3 1315.7 C1145.6 1313.7 1157.8 1311.6 1170.0 1309.4 C1182.2 1307.2 1194.4 1304.8 1206.7 1302.4 C1218.9 1300.0 1231.1 1297.5 1243.3 1295.0 C1255.6 1292.5 1267.8 1289.9 1280.0 1287.4 C1292.2 1284.9 1304.4 1282.3 1316.7 1279.9 C1328.9 1277.5 1341.1 1275.1 1353.3 1272.8 C1365.6 1270.4 1377.8 1268.2 1390.0 1266.0 C1402.2 1263.8 1414.4 1261.6 1426.7 1259.4 C1438.9 1257.2 1451.1 1255.0 1463.3 1252.8 C1475.6 1250.5 1493.9 1246.9 1500.0 1245.7" stroke="rgba(78,38,6,0.12)" stroke-width="7"/>
<path d="M400.0 1463.6 C406.1 1462.5 424.4 1459.3 436.7 1457.1 C448.9 1454.8 461.1 1452.5 473.3 1450.0 C485.6 1447.6 497.8 1445.0 510.0 1442.4 C522.2 1439.8 534.4 1437.0 546.7 1434.3 C558.9 1431.6 571.1 1428.8 583.3 1426.1 C595.6 1423.3 607.8 1420.6 620.0 1418.0 C632.2 1415.4 644.4 1412.9 656.7 1410.4 C668.9 1408.0 681.1 1405.7 693.3 1403.5 C705.6 1401.2 717.8 1399.0 730.0 1396.9 C742.2 1394.7 754.4 1392.6 766.7 1390.4 C778.9 1388.3 791.1 1386.1 803.3 1383.8 C815.6 1381.5 827.8 1379.2 840.0 1376.8 C852.2 1374.4 864.4 1372.0 876.7 1369.5 C888.9 1367.0 901.1 1364.5 913.3 1362.0 C925.6 1359.5 937.8 1357.1 950.0 1354.7 C962.2 1352.3 974.4 1350.0 986.7 1347.9 C998.9 1345.7 1011.1 1343.6 1023.3 1341.6 C1035.6 1339.6 1047.8 1337.7 1060.0 1335.7 C1072.2 1333.8 1084.4 1332.0 1096.7 1330.1 C1108.9 1328.2 1121.1 1326.3 1133.3 1324.2 C1145.6 1322.2 1157.8 1320.1 1170.0 1317.9 C1182.2 1315.7 1194.4 1313.3 1206.7 1310.9 C1218.9 1308.5 1231.1 1306.0 1243.3 1303.5 C1255.6 1301.0 1267.8 1298.4 1280.0 1295.9 C1292.2 1293.4 1304.4 1290.8 1316.7 1288.4 C1328.9 1286.0 1341.1 1283.6 1353.3 1281.3 C1365.6 1278.9 1377.8 1276.7 1390.0 1274.5 C1402.2 1272.3 1414.4 1270.1 1426.7 1267.9 C1438.9 1265.7 1451.1 1263.5 1463.3 1261.3 C1475.6 1259.0 1493.9 1255.4 1500.0 1254.2" stroke="rgba(225,150,70,0.28)" stroke-width="5"/>
<path d="M400.0 1475.5 C406.1 1474.2 424.4 1470.2 436.7 1467.6 C448.9 1465.0 461.1 1462.3 473.3 1459.7 C485.6 1457.1 497.8 1454.5 510.0 1452.1 C522.2 1449.7 534.4 1447.3 546.7 1445.1 C558.9 1442.8 571.1 1440.7 583.3 1438.7 C595.6 1436.6 607.8 1434.7 620.0 1432.7 C632.2 1430.7 644.4 1428.8 656.7 1426.9 C668.9 1424.9 681.1 1422.9 693.3 1420.8 C705.6 1418.7 717.8 1416.6 730.0 1414.4 C742.2 1412.1 754.4 1409.8 766.7 1407.4 C778.9 1405.1 791.1 1402.6 803.3 1400.2 C815.6 1397.8 827.8 1395.4 840.0 1393.0 C852.2 1390.7 864.4 1388.4 876.7 1386.1 C888.9 1383.9 901.1 1381.8 913.3 1379.7 C925.6 1377.6 937.8 1375.6 950.0 1373.6 C962.2 1371.5 974.4 1369.6 986.7 1367.5 C998.9 1365.5 1011.1 1363.4 1023.3 1361.2 C1035.6 1359.0 1047.8 1356.8 1060.0 1354.4 C1072.2 1352.0 1084.4 1349.5 1096.7 1346.9 C1108.9 1344.3 1121.1 1341.6 1133.3 1339.0 C1145.6 1336.3 1157.8 1333.6 1170.0 1330.9 C1182.2 1328.2 1194.4 1325.6 1206.7 1323.0 C1218.9 1320.4 1231.1 1318.0 1243.3 1315.6 C1255.6 1313.2 1267.8 1310.9 1280.0 1308.6 C1292.2 1306.4 1304.4 1304.2 1316.7 1302.1 C1328.9 1299.9 1341.1 1297.7 1353.3 1295.5 C1365.6 1293.3 1377.8 1291.1 1390.0 1288.7 C1402.2 1286.4 1414.4 1284.0 1426.7 1281.6 C1438.9 1279.1 1451.1 1276.6 1463.3 1274.0 C1475.6 1271.5 1493.9 1267.7 1500.0 1266.4" stroke="rgba(78,38,6,0.7)" stroke-width="3"/>
<path d="M400.0 1470.5 C406.1 1469.2 424.4 1465.2 436.7 1462.6 C448.9 1460.0 461.1 1457.3 473.3 1454.7 C485.6 1452.1 497.8 1449.5 510.0 1447.1 C522.2 1444.7 534.4 1442.3 546.7 1440.1 C558.9 1437.8 571.1 1435.7 583.3 1433.7 C595.6 1431.6 607.8 1429.7 620.0 1427.7 C632.2 1425.7 644.4 1423.8 656.7 1421.9 C668.9 1419.9 681.1 1417.9 693.3 1415.8 C705.6 1413.7 717.8 1411.6 730.0 1409.4 C742.2 1407.1 754.4 1404.8 766.7 1402.4 C778.9 1400.1 791.1 1397.6 803.3 1395.2 C815.6 1392.8 827.8 1390.4 840.0 1388.0 C852.2 1385.7 864.4 1383.4 876.7 1381.1 C888.9 1378.9 901.1 1376.8 913.3 1374.7 C925.6 1372.6 937.8 1370.6 950.0 1368.6 C962.2 1366.5 974.4 1364.6 986.7 1362.5 C998.9 1360.5 1011.1 1358.4 1023.3 1356.2 C1035.6 1354.0 1047.8 1351.8 1060.0 1349.4 C1072.2 1347.0 1084.4 1344.5 1096.7 1341.9 C1108.9 1339.3 1121.1 1336.6 1133.3 1334.0 C1145.6 1331.3 1157.8 1328.6 1170.0 1325.9 C1182.2 1323.2 1194.4 1320.6 1206.7 1318.0 C1218.9 1315.4 1231.1 1313.0 1243.3 1310.6 C1255.6 1308.2 1267.8 1305.9 1280.0 1303.6 C1292.2 1301.4 1304.4 1299.2 1316.7 1297.1 C1328.9 1294.9 1341.1 1292.7 1353.3 1290.5 C1365.6 1288.3 1377.8 1286.1 1390.0 1283.7 C1402.2 1281.4 1414.4 1279.0 1426.7 1276.6 C1438.9 1274.1 1451.1 1271.6 1463.3 1269.0 C1475.6 1266.5 1493.9 1262.7 1500.0 1261.4" stroke="rgba(78,38,6,0.12)" stroke-width="8"/>
<path d="M400.0 1481.0 C406.1 1479.7 424.4 1475.7 436.7 1473.1 C448.9 1470.5 461.1 1467.8 473.3 1465.2 C485.6 1462.6 497.8 1460.0 510.0 1457.6 C522.2 1455.2 534.4 1452.8 546.7 1450.6 C558.9 1448.3 571.1 1446.2 583.3 1444.2 C595.6 1442.1 607.8 1440.2 620.0 1438.2 C632.2 1436.2 644.4 1434.3 656.7 1432.4 C668.9 1430.4 681.1 1428.4 693.3 1426.3 C705.6 1424.2 717.8 1422.1 730.0 1419.9 C742.2 1417.6 754.4 1415.3 766.7 1412.9 C778.9 1410.6 791.1 1408.1 803.3 1405.7 C815.6 1403.3 827.8 1400.9 840.0 1398.5 C852.2 1396.2 864.4 1393.9 876.7 1391.6 C888.9 1389.4 901.1 1387.3 913.3 1385.2 C925.6 1383.1 937.8 1381.1 950.0 1379.1 C962.2 1377.0 974.4 1375.1 986.7 1373.0 C998.9 1371.0 1011.1 1368.9 1023.3 1366.7 C1035.6 1364.5 1047.8 1362.3 1060.0 1359.9 C1072.2 1357.5 1084.4 1355.0 1096.7 1352.4 C1108.9 1349.8 1121.1 1347.1 1133.3 1344.5 C1145.6 1341.8 1157.8 1339.1 1170.0 1336.4 C1182.2 1333.7 1194.4 1331.1 1206.7 1328.5 C1218.9 1325.9 1231.1 1323.5 1243.3 1321.1 C1255.6 1318.7 1267.8 1316.4 1280.0 1314.1 C1292.2 1311.9 1304.4 1309.7 1316.7 1307.6 C1328.9 1305.4 1341.1 1303.2 1353.3 1301.0 C1365.6 1298.8 1377.8 1296.6 1390.0 1294.2 C1402.2 1291.9 1414.4 1289.5 1426.7 1287.1 C1438.9 1284.6 1451.1 1282.1 1463.3 1279.5 C1475.6 1277.0 1493.9 1273.2 1500.0 1271.9" stroke="rgba(225,150,70,0.28)" stroke-width="6"/>
</g>
<g clip-path="url(#cend)" fill="none" stroke-linecap="round">
<path d="M111.0 1030.4 C113.0 1031.7 118.8 1035.9 122.7 1038.5 C126.6 1041.1 130.5 1043.8 134.4 1046.0 C138.3 1048.3 142.2 1050.1 146.1 1051.8 C150.0 1053.5 153.9 1054.8 157.8 1056.1 C161.7 1057.5 165.6 1058.9 169.5 1059.9 C173.4 1061.0 177.3 1061.5 181.2 1062.5 C185.2 1063.4 189.1 1064.6 193.0 1065.7 C196.9 1066.7 200.8 1067.9 204.7 1068.8 C208.6 1069.7 212.5 1070.4 216.4 1071.2 C220.3 1072.0 224.2 1073.1 228.1 1073.5 C232.0 1074.0 235.9 1074.2 239.8 1074.1 C243.7 1074.0 247.6 1073.5 251.5 1073.1 C255.4 1072.7 259.3 1072.3 263.2 1071.6 C267.1 1070.8 271.0 1069.5 274.9 1068.4 C278.8 1067.3 282.7 1065.9 286.6 1064.9 C290.5 1063.8 294.4 1063.1 298.3 1062.0 C302.2 1060.8 306.1 1059.4 310.0 1058.2 C313.9 1056.9 317.8 1055.8 321.8 1054.5 C325.7 1053.3 329.6 1052.3 333.5 1050.8 C337.4 1049.3 341.3 1047.3 345.2 1045.4 C349.1 1043.5 353.0 1041.5 356.9 1039.3 C360.8 1037.1 364.7 1035.1 368.6 1032.2 C372.5 1029.3 376.4 1025.2 380.3 1021.8 C384.2 1018.4 390.0 1013.4 392.0 1011.7" stroke="rgba(60,38,8,0.62)" stroke-width="2.2"/>
<path d="M111.0 1035.4 C113.0 1036.7 118.8 1040.9 122.7 1043.5 C126.6 1046.1 130.5 1048.8 134.4 1051.0 C138.3 1053.3 142.2 1055.1 146.1 1056.8 C150.0 1058.5 153.9 1059.8 157.8 1061.1 C161.7 1062.5 165.6 1063.9 169.5 1064.9 C173.4 1066.0 177.3 1066.5 181.2 1067.5 C185.2 1068.4 189.1 1069.6 193.0 1070.7 C196.9 1071.7 200.8 1072.9 204.7 1073.8 C208.6 1074.7 212.5 1075.4 216.4 1076.2 C220.3 1077.0 224.2 1078.1 228.1 1078.5 C232.0 1079.0 235.9 1079.2 239.8 1079.1 C243.7 1079.0 247.6 1078.5 251.5 1078.1 C255.4 1077.7 259.3 1077.3 263.2 1076.6 C267.1 1075.8 271.0 1074.5 274.9 1073.4 C278.8 1072.3 282.7 1070.9 286.6 1069.9 C290.5 1068.8 294.4 1068.1 298.3 1067.0 C302.2 1065.8 306.1 1064.4 310.0 1063.2 C313.9 1061.9 317.8 1060.8 321.8 1059.5 C325.7 1058.3 329.6 1057.3 333.5 1055.8 C337.4 1054.3 341.3 1052.3 345.2 1050.4 C349.1 1048.5 353.0 1046.5 356.9 1044.3 C360.8 1042.1 364.7 1040.1 368.6 1037.2 C372.5 1034.3 376.4 1030.2 380.3 1026.8 C384.2 1023.4 390.0 1018.4 392.0 1016.7" stroke="rgba(60,38,8,0.18)" stroke-width="7"/>
<path d="M111.0 1024.4 C113.0 1025.7 118.8 1029.9 122.7 1032.5 C126.6 1035.1 130.5 1037.8 134.4 1040.0 C138.3 1042.3 142.2 1044.1 146.1 1045.8 C150.0 1047.5 153.9 1048.8 157.8 1050.1 C161.7 1051.5 165.6 1052.9 169.5 1053.9 C173.4 1055.0 177.3 1055.5 181.2 1056.5 C185.2 1057.4 189.1 1058.6 193.0 1059.7 C196.9 1060.7 200.8 1061.9 204.7 1062.8 C208.6 1063.7 212.5 1064.4 216.4 1065.2 C220.3 1066.0 224.2 1067.1 228.1 1067.5 C232.0 1068.0 235.9 1068.2 239.8 1068.1 C243.7 1068.0 247.6 1067.5 251.5 1067.1 C255.4 1066.7 259.3 1066.3 263.2 1065.6 C267.1 1064.8 271.0 1063.5 274.9 1062.4 C278.8 1061.3 282.7 1059.9 286.6 1058.9 C290.5 1057.8 294.4 1057.1 298.3 1056.0 C302.2 1054.8 306.1 1053.4 310.0 1052.2 C313.9 1050.9 317.8 1049.8 321.8 1048.5 C325.7 1047.3 329.6 1046.3 333.5 1044.8 C337.4 1043.3 341.3 1041.3 345.2 1039.4 C349.1 1037.5 353.0 1035.5 356.9 1033.3 C360.8 1031.1 364.7 1029.1 368.6 1026.2 C372.5 1023.3 376.4 1019.2 380.3 1015.8 C384.2 1012.4 390.0 1007.4 392.0 1005.7" stroke="rgba(190,140,70,0.16)" stroke-width="6"/>
<path d="M111.0 1055.0 C113.0 1056.2 118.8 1059.8 122.7 1062.1 C126.6 1064.4 130.5 1066.7 134.4 1068.6 C138.3 1070.6 142.2 1072.3 146.1 1074.0 C150.0 1075.6 153.9 1077.0 157.8 1078.6 C161.7 1080.1 165.6 1081.9 169.5 1083.4 C173.4 1084.8 177.3 1085.9 181.2 1087.2 C185.2 1088.6 189.1 1090.2 193.0 1091.4 C196.9 1092.7 200.8 1094.0 204.7 1094.9 C208.6 1095.8 212.5 1096.3 216.4 1096.8 C220.3 1097.3 224.2 1097.9 228.1 1098.0 C232.0 1098.1 235.9 1097.8 239.8 1097.4 C243.7 1097.0 247.6 1096.2 251.5 1095.7 C255.4 1095.2 259.3 1094.9 263.2 1094.2 C267.1 1093.6 271.0 1092.7 274.9 1091.9 C278.8 1091.1 282.7 1090.2 286.6 1089.5 C290.5 1088.8 294.4 1088.5 298.3 1087.6 C302.2 1086.7 306.1 1085.4 310.0 1084.1 C313.9 1082.8 317.8 1081.4 321.8 1079.9 C325.7 1078.4 329.6 1076.9 333.5 1075.0 C337.4 1073.0 341.3 1070.5 345.2 1068.3 C349.1 1066.0 353.0 1063.7 356.9 1061.3 C360.8 1058.9 364.7 1056.9 368.6 1054.0 C372.5 1051.2 376.4 1047.4 380.3 1044.2 C384.2 1041.1 390.0 1036.6 392.0 1035.1" stroke="rgba(60,38,8,0.62)" stroke-width="2.7"/>
<path d="M111.0 1060.0 C113.0 1061.2 118.8 1064.8 122.7 1067.1 C126.6 1069.4 130.5 1071.7 134.4 1073.6 C138.3 1075.6 142.2 1077.3 146.1 1079.0 C150.0 1080.6 153.9 1082.0 157.8 1083.6 C161.7 1085.1 165.6 1086.9 169.5 1088.4 C173.4 1089.8 177.3 1090.9 181.2 1092.2 C185.2 1093.6 189.1 1095.2 193.0 1096.4 C196.9 1097.7 200.8 1099.0 204.7 1099.9 C208.6 1100.8 212.5 1101.3 216.4 1101.8 C220.3 1102.3 224.2 1102.9 228.1 1103.0 C232.0 1103.1 235.9 1102.8 239.8 1102.4 C243.7 1102.0 247.6 1101.2 251.5 1100.7 C255.4 1100.2 259.3 1099.9 263.2 1099.2 C267.1 1098.6 271.0 1097.7 274.9 1096.9 C278.8 1096.1 282.7 1095.2 286.6 1094.5 C290.5 1093.8 294.4 1093.5 298.3 1092.6 C302.2 1091.7 306.1 1090.4 310.0 1089.1 C313.9 1087.8 317.8 1086.4 321.8 1084.9 C325.7 1083.4 329.6 1081.9 333.5 1080.0 C337.4 1078.0 341.3 1075.5 345.2 1073.3 C349.1 1071.0 353.0 1068.7 356.9 1066.3 C360.8 1063.9 364.7 1061.9 368.6 1059.0 C372.5 1056.2 376.4 1052.4 380.3 1049.2 C384.2 1046.1 390.0 1041.6 392.0 1040.1" stroke="rgba(60,38,8,0.18)" stroke-width="7"/>
<path d="M111.0 1049.0 C113.0 1050.2 118.8 1053.8 122.7 1056.1 C126.6 1058.4 130.5 1060.7 134.4 1062.6 C138.3 1064.6 142.2 1066.3 146.1 1068.0 C150.0 1069.6 153.9 1071.0 157.8 1072.6 C161.7 1074.1 165.6 1075.9 169.5 1077.4 C173.4 1078.8 177.3 1079.9 181.2 1081.2 C185.2 1082.6 189.1 1084.2 193.0 1085.4 C196.9 1086.7 200.8 1088.0 204.7 1088.9 C208.6 1089.8 212.5 1090.3 216.4 1090.8 C220.3 1091.3 224.2 1091.9 228.1 1092.0 C232.0 1092.1 235.9 1091.8 239.8 1091.4 C243.7 1091.0 247.6 1090.2 251.5 1089.7 C255.4 1089.2 259.3 1088.9 263.2 1088.2 C267.1 1087.6 271.0 1086.7 274.9 1085.9 C278.8 1085.1 282.7 1084.2 286.6 1083.5 C290.5 1082.8 294.4 1082.5 298.3 1081.6 C302.2 1080.7 306.1 1079.4 310.0 1078.1 C313.9 1076.8 317.8 1075.4 321.8 1073.9 C325.7 1072.4 329.6 1070.9 333.5 1069.0 C337.4 1067.0 341.3 1064.5 345.2 1062.3 C349.1 1060.0 353.0 1057.7 356.9 1055.3 C360.8 1052.9 364.7 1050.9 368.6 1048.0 C372.5 1045.2 376.4 1041.4 380.3 1038.2 C384.2 1035.1 390.0 1030.6 392.0 1029.1" stroke="rgba(190,140,70,0.16)" stroke-width="6"/>
<path d="M111.0 1079.4 C113.0 1080.5 118.8 1083.8 122.7 1086.0 C126.6 1088.2 130.5 1090.6 134.4 1092.8 C138.3 1095.0 142.2 1097.0 146.1 1099.1 C150.0 1101.1 153.9 1103.0 157.8 1105.0 C161.7 1107.0 165.6 1109.2 169.5 1110.9 C173.4 1112.6 177.3 1113.9 181.2 1115.2 C185.2 1116.6 189.1 1118.0 193.0 1119.0 C196.9 1120.1 200.8 1120.9 204.7 1121.5 C208.6 1122.0 212.5 1122.0 216.4 1122.2 C220.3 1122.4 224.2 1122.7 228.1 1122.6 C232.0 1122.6 235.9 1122.3 239.8 1122.0 C243.7 1121.8 247.6 1121.3 251.5 1121.1 C255.4 1120.9 259.3 1121.1 263.2 1120.8 C267.1 1120.6 271.0 1120.1 274.9 1119.5 C278.8 1119.0 282.7 1118.3 286.6 1117.6 C290.5 1116.8 294.4 1116.3 298.3 1115.2 C302.2 1114.0 306.1 1112.3 310.0 1110.6 C313.9 1108.9 317.8 1107.0 321.8 1105.1 C325.7 1103.2 329.6 1101.4 333.5 1099.2 C337.4 1097.1 341.3 1094.5 345.2 1092.3 C349.1 1090.1 353.0 1088.0 356.9 1085.9 C360.8 1083.8 364.7 1082.2 368.6 1079.7 C372.5 1077.2 376.4 1073.8 380.3 1070.8 C384.2 1067.9 390.0 1063.5 392.0 1062.1" stroke="rgba(60,38,8,0.62)" stroke-width="2.2"/>
<path d="M111.0 1084.4 C113.0 1085.5 118.8 1088.8 122.7 1091.0 C126.6 1093.2 130.5 1095.6 134.4 1097.8 C138.3 1100.0 142.2 1102.0 146.1 1104.1 C150.0 1106.1 153.9 1108.0 157.8 1110.0 C161.7 1112.0 165.6 1114.2 169.5 1115.9 C173.4 1117.6 177.3 1118.9 181.2 1120.2 C185.2 1121.6 189.1 1123.0 193.0 1124.0 C196.9 1125.1 200.8 1125.9 204.7 1126.5 C208.6 1127.0 212.5 1127.0 216.4 1127.2 C220.3 1127.4 224.2 1127.7 228.1 1127.6 C232.0 1127.6 235.9 1127.3 239.8 1127.0 C243.7 1126.8 247.6 1126.3 251.5 1126.1 C255.4 1125.9 259.3 1126.1 263.2 1125.8 C267.1 1125.6 271.0 1125.1 274.9 1124.5 C278.8 1124.0 282.7 1123.3 286.6 1122.6 C290.5 1121.8 294.4 1121.3 298.3 1120.2 C302.2 1119.0 306.1 1117.3 310.0 1115.6 C313.9 1113.9 317.8 1112.0 321.8 1110.1 C325.7 1108.2 329.6 1106.4 333.5 1104.2 C337.4 1102.1 341.3 1099.5 345.2 1097.3 C349.1 1095.1 353.0 1093.0 356.9 1090.9 C360.8 1088.8 364.7 1087.2 368.6 1084.7 C372.5 1082.2 376.4 1078.8 380.3 1075.8 C384.2 1072.9 390.0 1068.5 392.0 1067.1" stroke="rgba(60,38,8,0.18)" stroke-width="7"/>
<path d="M111.0 1073.4 C113.0 1074.5 118.8 1077.8 122.7 1080.0 C126.6 1082.2 130.5 1084.6 134.4 1086.8 C138.3 1089.0 142.2 1091.0 146.1 1093.1 C150.0 1095.1 153.9 1097.0 157.8 1099.0 C161.7 1101.0 165.6 1103.2 169.5 1104.9 C173.4 1106.6 177.3 1107.9 181.2 1109.2 C185.2 1110.6 189.1 1112.0 193.0 1113.0 C196.9 1114.1 200.8 1114.9 204.7 1115.5 C208.6 1116.0 212.5 1116.0 216.4 1116.2 C220.3 1116.4 224.2 1116.7 228.1 1116.6 C232.0 1116.6 235.9 1116.3 239.8 1116.0 C243.7 1115.8 247.6 1115.3 251.5 1115.1 C255.4 1114.9 259.3 1115.1 263.2 1114.8 C267.1 1114.6 271.0 1114.1 274.9 1113.5 C278.8 1113.0 282.7 1112.3 286.6 1111.6 C290.5 1110.8 294.4 1110.3 298.3 1109.2 C302.2 1108.0 306.1 1106.3 310.0 1104.6 C313.9 1102.9 317.8 1101.0 321.8 1099.1 C325.7 1097.2 329.6 1095.4 333.5 1093.2 C337.4 1091.1 341.3 1088.5 345.2 1086.3 C349.1 1084.1 353.0 1082.0 356.9 1079.9 C360.8 1077.8 364.7 1076.2 368.6 1073.7 C372.5 1071.2 376.4 1067.8 380.3 1064.8 C384.2 1061.9 390.0 1057.5 392.0 1056.1" stroke="rgba(190,140,70,0.16)" stroke-width="6"/>
<path d="M111.0 1101.7 C113.0 1103.0 118.8 1106.6 122.7 1109.2 C126.6 1111.8 130.5 1114.8 134.4 1117.4 C138.3 1120.0 142.2 1122.5 146.1 1124.9 C150.0 1127.2 153.9 1129.3 157.8 1131.4 C161.7 1133.4 165.6 1135.5 169.5 1137.0 C173.4 1138.5 177.3 1139.3 181.2 1140.3 C185.2 1141.3 189.1 1142.2 193.0 1143.0 C196.9 1143.7 200.8 1144.2 204.7 1144.6 C208.6 1145.0 212.5 1144.9 216.4 1145.3 C220.3 1145.6 224.2 1146.2 228.1 1146.4 C232.0 1146.7 235.9 1146.9 239.8 1147.0 C243.7 1147.2 247.6 1147.1 251.5 1147.2 C255.4 1147.3 259.3 1147.7 263.2 1147.5 C267.1 1147.2 271.0 1146.6 274.9 1145.8 C278.8 1145.1 282.7 1143.9 286.6 1142.8 C290.5 1141.7 294.4 1140.7 298.3 1139.2 C302.2 1137.6 306.1 1135.5 310.0 1133.6 C313.9 1131.7 317.8 1129.6 321.8 1127.8 C325.7 1125.9 329.6 1124.3 333.5 1122.5 C337.4 1120.6 341.3 1118.4 345.2 1116.6 C349.1 1114.7 353.0 1113.0 356.9 1111.2 C360.8 1109.3 364.7 1108.0 368.6 1105.5 C372.5 1103.0 376.4 1099.4 380.3 1096.3 C384.2 1093.1 390.0 1088.1 392.0 1086.4" stroke="rgba(60,38,8,0.62)" stroke-width="2.7"/>
<path d="M111.0 1106.7 C113.0 1108.0 118.8 1111.6 122.7 1114.2 C126.6 1116.8 130.5 1119.8 134.4 1122.4 C138.3 1125.0 142.2 1127.5 146.1 1129.9 C150.0 1132.2 153.9 1134.3 157.8 1136.4 C161.7 1138.4 165.6 1140.5 169.5 1142.0 C173.4 1143.5 177.3 1144.3 181.2 1145.3 C185.2 1146.3 189.1 1147.2 193.0 1148.0 C196.9 1148.7 200.8 1149.2 204.7 1149.6 C208.6 1150.0 212.5 1149.9 216.4 1150.3 C220.3 1150.6 224.2 1151.2 228.1 1151.4 C232.0 1151.7 235.9 1151.9 239.8 1152.0 C243.7 1152.2 247.6 1152.1 251.5 1152.2 C255.4 1152.3 259.3 1152.7 263.2 1152.5 C267.1 1152.2 271.0 1151.6 274.9 1150.8 C278.8 1150.1 282.7 1148.9 286.6 1147.8 C290.5 1146.7 294.4 1145.7 298.3 1144.2 C302.2 1142.6 306.1 1140.5 310.0 1138.6 C313.9 1136.7 317.8 1134.6 321.8 1132.8 C325.7 1130.9 329.6 1129.3 333.5 1127.5 C337.4 1125.6 341.3 1123.4 345.2 1121.6 C349.1 1119.7 353.0 1118.0 356.9 1116.2 C360.8 1114.3 364.7 1113.0 368.6 1110.5 C372.5 1108.0 376.4 1104.4 380.3 1101.3 C384.2 1098.1 390.0 1093.1 392.0 1091.4" stroke="rgba(60,38,8,0.18)" stroke-width="7"/>
<path d="M111.0 1095.7 C113.0 1097.0 118.8 1100.6 122.7 1103.2 C126.6 1105.8 130.5 1108.8 134.4 1111.4 C138.3 1114.0 142.2 1116.5 146.1 1118.9 C150.0 1121.2 153.9 1123.3 157.8 1125.4 C161.7 1127.4 165.6 1129.5 169.5 1131.0 C173.4 1132.5 177.3 1133.3 181.2 1134.3 C185.2 1135.3 189.1 1136.2 193.0 1137.0 C196.9 1137.7 200.8 1138.2 204.7 1138.6 C208.6 1139.0 212.5 1138.9 216.4 1139.3 C220.3 1139.6 224.2 1140.2 228.1 1140.4 C232.0 1140.7 235.9 1140.9 239.8 1141.0 C243.7 1141.2 247.6 1141.1 251.5 1141.2 C255.4 1141.3 259.3 1141.7 263.2 1141.5 C267.1 1141.2 271.0 1140.6 274.9 1139.8 C278.8 1139.1 282.7 1137.9 286.6 1136.8 C290.5 1135.7 294.4 1134.7 298.3 1133.2 C302.2 1131.6 306.1 1129.5 310.0 1127.6 C313.9 1125.7 317.8 1123.6 321.8 1121.8 C325.7 1119.9 329.6 1118.3 333.5 1116.5 C337.4 1114.6 341.3 1112.4 345.2 1110.6 C349.1 1108.7 353.0 1107.0 356.9 1105.2 C360.8 1103.3 364.7 1102.0 368.6 1099.5 C372.5 1097.0 376.4 1093.4 380.3 1090.3 C384.2 1087.1 390.0 1082.1 392.0 1080.4" stroke="rgba(190,140,70,0.16)" stroke-width="6"/>
<path d="M111.0 1122.9 C113.0 1124.3 118.8 1128.7 122.7 1131.6 C126.6 1134.6 130.5 1137.8 134.4 1140.5 C138.3 1143.2 142.2 1145.6 146.1 1147.8 C150.0 1150.0 153.9 1151.7 157.8 1153.4 C161.7 1155.1 165.6 1156.8 169.5 1157.9 C173.4 1159.1 177.3 1159.5 181.2 1160.4 C185.2 1161.2 189.1 1162.1 193.0 1162.9 C196.9 1163.7 200.8 1164.5 204.7 1165.2 C208.6 1165.9 212.5 1166.4 216.4 1167.1 C220.3 1167.8 224.2 1168.9 228.1 1169.5 C232.0 1170.1 235.9 1170.5 239.8 1170.7 C243.7 1170.9 247.6 1170.7 251.5 1170.6 C255.4 1170.5 259.3 1170.6 263.2 1170.0 C267.1 1169.4 271.0 1168.2 274.9 1167.1 C278.8 1165.9 282.7 1164.4 286.6 1163.0 C290.5 1161.7 294.4 1160.6 298.3 1159.0 C302.2 1157.5 306.1 1155.5 310.0 1153.9 C313.9 1152.2 317.8 1150.6 321.8 1149.1 C325.7 1147.6 329.6 1146.5 333.5 1144.9 C337.4 1143.3 341.3 1141.4 345.2 1139.6 C349.1 1137.8 353.0 1136.1 356.9 1134.0 C360.8 1132.0 364.7 1130.2 368.6 1127.3 C372.5 1124.5 376.4 1120.3 380.3 1116.7 C384.2 1113.1 390.0 1107.5 392.0 1105.7" stroke="rgba(60,38,8,0.62)" stroke-width="2.2"/>
<path d="M111.0 1127.9 C113.0 1129.3 118.8 1133.7 122.7 1136.6 C126.6 1139.6 130.5 1142.8 134.4 1145.5 C138.3 1148.2 142.2 1150.6 146.1 1152.8 C150.0 1155.0 153.9 1156.7 157.8 1158.4 C161.7 1160.1 165.6 1161.8 169.5 1162.9 C173.4 1164.1 177.3 1164.5 181.2 1165.4 C185.2 1166.2 189.1 1167.1 193.0 1167.9 C196.9 1168.7 200.8 1169.5 204.7 1170.2 C208.6 1170.9 212.5 1171.4 216.4 1172.1 C220.3 1172.8 224.2 1173.9 228.1 1174.5 C232.0 1175.1 235.9 1175.5 239.8 1175.7 C243.7 1175.9 247.6 1175.7 251.5 1175.6 C255.4 1175.5 259.3 1175.6 263.2 1175.0 C267.1 1174.4 271.0 1173.2 274.9 1172.1 C278.8 1170.9 282.7 1169.4 286.6 1168.0 C290.5 1166.7 294.4 1165.6 298.3 1164.0 C302.2 1162.5 306.1 1160.5 310.0 1158.9 C313.9 1157.2 317.8 1155.6 321.8 1154.1 C325.7 1152.6 329.6 1151.5 333.5 1149.9 C337.4 1148.3 341.3 1146.4 345.2 1144.6 C349.1 1142.8 353.0 1141.1 356.9 1139.0 C360.8 1137.0 364.7 1135.2 368.6 1132.3 C372.5 1129.5 376.4 1125.3 380.3 1121.7 C384.2 1118.1 390.0 1112.5 392.0 1110.7" stroke="rgba(60,38,8,0.18)" stroke-width="7"/>
<path d="M111.0 1116.9 C113.0 1118.3 118.8 1122.7 122.7 1125.6 C126.6 1128.6 130.5 1131.8 134.4 1134.5 C138.3 1137.2 142.2 1139.6 146.1 1141.8 C150.0 1144.0 153.9 1145.7 157.8 1147.4 C161.7 1149.1 165.6 1150.8 169.5 1151.9 C173.4 1153.1 177.3 1153.5 181.2 1154.4 C185.2 1155.2 189.1 1156.1 193.0 1156.9 C196.9 1157.7 200.8 1158.5 204.7 1159.2 C208.6 1159.9 212.5 1160.4 216.4 1161.1 C220.3 1161.8 224.2 1162.9 228.1 1163.5 C232.0 1164.1 235.9 1164.5 239.8 1164.7 C243.7 1164.9 247.6 1164.7 251.5 1164.6 C255.4 1164.5 259.3 1164.6 263.2 1164.0 C267.1 1163.4 271.0 1162.2 274.9 1161.1 C278.8 1159.9 282.7 1158.4 286.6 1157.0 C290.5 1155.7 294.4 1154.6 298.3 1153.0 C302.2 1151.5 306.1 1149.5 310.0 1147.9 C313.9 1146.2 317.8 1144.6 321.8 1143.1 C325.7 1141.6 329.6 1140.5 333.5 1138.9 C337.4 1137.3 341.3 1135.4 345.2 1133.6 C349.1 1131.8 353.0 1130.1 356.9 1128.0 C360.8 1126.0 364.7 1124.2 368.6 1121.3 C372.5 1118.5 376.4 1114.3 380.3 1110.7 C384.2 1107.1 390.0 1101.5 392.0 1099.7" stroke="rgba(190,140,70,0.16)" stroke-width="6"/>
<path d="M111.0 1148.7 C113.0 1150.1 118.8 1154.6 122.7 1157.4 C126.6 1160.2 130.5 1163.1 134.4 1165.4 C138.3 1167.8 142.2 1169.8 146.1 1171.7 C150.0 1173.5 153.9 1174.9 157.8 1176.4 C161.7 1177.9 165.6 1179.5 169.5 1180.7 C173.4 1182.0 177.3 1182.7 181.2 1183.8 C185.2 1184.9 189.1 1186.3 193.0 1187.5 C196.9 1188.7 200.8 1190.0 204.7 1191.1 C208.6 1192.1 212.5 1192.8 216.4 1193.6 C220.3 1194.5 224.2 1195.5 228.1 1196.0 C232.0 1196.4 235.9 1196.5 239.8 1196.3 C243.7 1196.2 247.6 1195.6 251.5 1195.1 C255.4 1194.6 259.3 1194.2 263.2 1193.4 C267.1 1192.5 271.0 1191.2 274.9 1190.0 C278.8 1188.9 282.7 1187.5 286.6 1186.4 C290.5 1185.3 294.4 1184.6 298.3 1183.4 C302.2 1182.2 306.1 1180.7 310.0 1179.4 C313.9 1178.0 317.8 1176.7 321.8 1175.3 C325.7 1173.9 329.6 1172.7 333.5 1171.0 C337.4 1169.2 341.3 1167.0 345.2 1164.8 C349.1 1162.6 353.0 1160.4 356.9 1157.9 C360.8 1155.5 364.7 1153.2 368.6 1150.0 C372.5 1146.9 376.4 1142.5 380.3 1138.8 C384.2 1135.1 390.0 1129.7 392.0 1127.9" stroke="rgba(60,38,8,0.62)" stroke-width="2.7"/>
<path d="M111.0 1153.7 C113.0 1155.1 118.8 1159.6 122.7 1162.4 C126.6 1165.2 130.5 1168.1 134.4 1170.4 C138.3 1172.8 142.2 1174.8 146.1 1176.7 C150.0 1178.5 153.9 1179.9 157.8 1181.4 C161.7 1182.9 165.6 1184.5 169.5 1185.7 C173.4 1187.0 177.3 1187.7 181.2 1188.8 C185.2 1189.9 189.1 1191.3 193.0 1192.5 C196.9 1193.7 200.8 1195.0 204.7 1196.1 C208.6 1197.1 212.5 1197.8 216.4 1198.6 C220.3 1199.5 224.2 1200.5 228.1 1201.0 C232.0 1201.4 235.9 1201.5 239.8 1201.3 C243.7 1201.2 247.6 1200.6 251.5 1200.1 C255.4 1199.6 259.3 1199.2 263.2 1198.4 C267.1 1197.5 271.0 1196.2 274.9 1195.0 C278.8 1193.9 282.7 1192.5 286.6 1191.4 C290.5 1190.3 294.4 1189.6 298.3 1188.4 C302.2 1187.2 306.1 1185.7 310.0 1184.4 C313.9 1183.0 317.8 1181.7 321.8 1180.3 C325.7 1178.9 329.6 1177.7 333.5 1176.0 C337.4 1174.2 341.3 1172.0 345.2 1169.8 C349.1 1167.6 353.0 1165.4 356.9 1162.9 C360.8 1160.5 364.7 1158.2 368.6 1155.0 C372.5 1151.9 376.4 1147.5 380.3 1143.8 C384.2 1140.1 390.0 1134.7 392.0 1132.9" stroke="rgba(60,38,8,0.18)" stroke-width="7"/>
<path d="M111.0 1142.7 C113.0 1144.1 118.8 1148.6 122.7 1151.4 C126.6 1154.2 130.5 1157.1 134.4 1159.4 C138.3 1161.8 142.2 1163.8 146.1 1165.7 C150.0 1167.5 153.9 1168.9 157.8 1170.4 C161.7 1171.9 165.6 1173.5 169.5 1174.7 C173.4 1176.0 177.3 1176.7 181.2 1177.8 C185.2 1178.9 189.1 1180.3 193.0 1181.5 C196.9 1182.7 200.8 1184.0 204.7 1185.1 C208.6 1186.1 212.5 1186.8 216.4 1187.6 C220.3 1188.5 224.2 1189.5 228.1 1190.0 C232.0 1190.4 235.9 1190.5 239.8 1190.3 C243.7 1190.2 247.6 1189.6 251.5 1189.1 C255.4 1188.6 259.3 1188.2 263.2 1187.4 C267.1 1186.5 271.0 1185.2 274.9 1184.0 C278.8 1182.9 282.7 1181.5 286.6 1180.4 C290.5 1179.3 294.4 1178.6 298.3 1177.4 C302.2 1176.2 306.1 1174.7 310.0 1173.4 C313.9 1172.0 317.8 1170.7 321.8 1169.3 C325.7 1167.9 329.6 1166.7 333.5 1165.0 C337.4 1163.2 341.3 1161.0 345.2 1158.8 C349.1 1156.6 353.0 1154.4 356.9 1151.9 C360.8 1149.5 364.7 1147.2 368.6 1144.0 C372.5 1140.9 376.4 1136.5 380.3 1132.8 C384.2 1129.1 390.0 1123.7 392.0 1121.9" stroke="rgba(190,140,70,0.16)" stroke-width="6"/>
<path d="M111.0 1173.5 C113.0 1174.7 118.8 1178.6 122.7 1181.1 C126.6 1183.6 130.5 1186.1 134.4 1188.3 C138.3 1190.5 142.2 1192.4 146.1 1194.3 C150.0 1196.1 153.9 1197.8 157.8 1199.6 C161.7 1201.4 165.6 1203.4 169.5 1205.1 C173.4 1206.7 177.3 1207.9 181.2 1209.4 C185.2 1210.9 189.1 1212.6 193.0 1214.0 C196.9 1215.3 200.8 1216.7 204.7 1217.6 C208.6 1218.5 212.5 1218.9 216.4 1219.4 C220.3 1219.9 224.2 1220.5 228.1 1220.5 C232.0 1220.6 235.9 1220.2 239.8 1219.8 C243.7 1219.4 247.6 1218.6 251.5 1218.1 C255.4 1217.6 259.3 1217.3 263.2 1216.7 C267.1 1216.1 271.0 1215.2 274.9 1214.4 C278.8 1213.6 282.7 1212.7 286.6 1211.9 C290.5 1211.1 294.4 1210.8 298.3 1209.7 C302.2 1208.7 306.1 1207.2 310.0 1205.7 C313.9 1204.2 317.8 1202.6 321.8 1200.9 C325.7 1199.1 329.6 1197.4 333.5 1195.3 C337.4 1193.1 341.3 1190.3 345.2 1187.8 C349.1 1185.3 353.0 1182.8 356.9 1180.3 C360.8 1177.7 364.7 1175.6 368.6 1172.5 C372.5 1169.5 376.4 1165.4 380.3 1162.0 C384.2 1158.6 390.0 1153.8 392.0 1152.2" stroke="rgba(60,38,8,0.62)" stroke-width="2.2"/>
<path d="M111.0 1178.5 C113.0 1179.7 118.8 1183.6 122.7 1186.1 C126.6 1188.6 130.5 1191.1 134.4 1193.3 C138.3 1195.5 142.2 1197.4 146.1 1199.3 C150.0 1201.1 153.9 1202.8 157.8 1204.6 C161.7 1206.4 165.6 1208.4 169.5 1210.1 C173.4 1211.7 177.3 1212.9 181.2 1214.4 C185.2 1215.9 189.1 1217.6 193.0 1219.0 C196.9 1220.3 200.8 1221.7 204.7 1222.6 C208.6 1223.5 212.5 1223.9 216.4 1224.4 C220.3 1224.9 224.2 1225.5 228.1 1225.5 C232.0 1225.6 235.9 1225.2 239.8 1224.8 C243.7 1224.4 247.6 1223.6 251.5 1223.1 C255.4 1222.6 259.3 1222.3 263.2 1221.7 C267.1 1221.1 271.0 1220.2 274.9 1219.4 C278.8 1218.6 282.7 1217.7 286.6 1216.9 C290.5 1216.1 294.4 1215.8 298.3 1214.7 C302.2 1213.7 306.1 1212.2 310.0 1210.7 C313.9 1209.2 317.8 1207.6 321.8 1205.9 C325.7 1204.1 329.6 1202.4 333.5 1200.3 C337.4 1198.1 341.3 1195.3 345.2 1192.8 C349.1 1190.3 353.0 1187.8 356.9 1185.3 C360.8 1182.7 364.7 1180.6 368.6 1177.5 C372.5 1174.5 376.4 1170.4 380.3 1167.0 C384.2 1163.6 390.0 1158.8 392.0 1157.2" stroke="rgba(60,38,8,0.18)" stroke-width="7"/>
<path d="M111.0 1167.5 C113.0 1168.7 118.8 1172.6 122.7 1175.1 C126.6 1177.6 130.5 1180.1 134.4 1182.3 C138.3 1184.5 142.2 1186.4 146.1 1188.3 C150.0 1190.1 153.9 1191.8 157.8 1193.6 C161.7 1195.4 165.6 1197.4 169.5 1199.1 C173.4 1200.7 177.3 1201.9 181.2 1203.4 C185.2 1204.9 189.1 1206.6 193.0 1208.0 C196.9 1209.3 200.8 1210.7 204.7 1211.6 C208.6 1212.5 212.5 1212.9 216.4 1213.4 C220.3 1213.9 224.2 1214.5 228.1 1214.5 C232.0 1214.6 235.9 1214.2 239.8 1213.8 C243.7 1213.4 247.6 1212.6 251.5 1212.1 C255.4 1211.6 259.3 1211.3 263.2 1210.7 C267.1 1210.1 271.0 1209.2 274.9 1208.4 C278.8 1207.6 282.7 1206.7 286.6 1205.9 C290.5 1205.1 294.4 1204.8 298.3 1203.7 C302.2 1202.7 306.1 1201.2 310.0 1199.7 C313.9 1198.2 317.8 1196.6 321.8 1194.9 C325.7 1193.1 329.6 1191.4 333.5 1189.3 C337.4 1187.1 341.3 1184.3 345.2 1181.8 C349.1 1179.3 353.0 1176.8 356.9 1174.3 C360.8 1171.7 364.7 1169.6 368.6 1166.5 C372.5 1163.5 376.4 1159.4 380.3 1156.0 C384.2 1152.6 390.0 1147.8 392.0 1146.2" stroke="rgba(190,140,70,0.16)" stroke-width="6"/>
<path d="M111.0 1196.1 C113.0 1197.3 118.8 1200.9 122.7 1203.4 C126.6 1205.9 130.5 1208.7 134.4 1211.1 C138.3 1213.6 142.2 1216.0 146.1 1218.3 C150.0 1220.5 153.9 1222.7 157.8 1224.9 C161.7 1227.1 165.6 1229.5 169.5 1231.3 C173.4 1233.1 177.3 1234.4 181.2 1235.8 C185.2 1237.2 189.1 1238.7 193.0 1239.8 C196.9 1240.8 200.8 1241.7 204.7 1242.2 C208.6 1242.8 212.5 1242.7 216.4 1243.0 C220.3 1243.2 224.2 1243.6 228.1 1243.6 C232.0 1243.6 235.9 1243.4 239.8 1243.2 C243.7 1243.0 247.6 1242.5 251.5 1242.4 C255.4 1242.2 259.3 1242.5 263.2 1242.2 C267.1 1241.9 271.0 1241.4 274.9 1240.8 C278.8 1240.1 282.7 1239.3 286.6 1238.4 C290.5 1237.6 294.4 1236.9 298.3 1235.6 C302.2 1234.2 306.1 1232.2 310.0 1230.3 C313.9 1228.4 317.8 1226.3 321.8 1224.2 C325.7 1222.2 329.6 1220.2 333.5 1217.9 C337.4 1215.6 341.3 1212.9 345.2 1210.5 C349.1 1208.1 353.0 1206.0 356.9 1203.7 C360.8 1201.5 364.7 1199.8 368.6 1197.1 C372.5 1194.4 376.4 1190.6 380.3 1187.4 C384.2 1184.1 390.0 1179.3 392.0 1177.6" stroke="rgba(60,38,8,0.62)" stroke-width="2.7"/>
<path d="M111.0 1201.1 C113.0 1202.3 118.8 1205.9 122.7 1208.4 C126.6 1210.9 130.5 1213.7 134.4 1216.1 C138.3 1218.6 142.2 1221.0 146.1 1223.3 C150.0 1225.5 153.9 1227.7 157.8 1229.9 C161.7 1232.1 165.6 1234.5 169.5 1236.3 C173.4 1238.1 177.3 1239.4 181.2 1240.8 C185.2 1242.2 189.1 1243.7 193.0 1244.8 C196.9 1245.8 200.8 1246.7 204.7 1247.2 C208.6 1247.8 212.5 1247.7 216.4 1248.0 C220.3 1248.2 224.2 1248.6 228.1 1248.6 C232.0 1248.6 235.9 1248.4 239.8 1248.2 C243.7 1248.0 247.6 1247.5 251.5 1247.4 C255.4 1247.2 259.3 1247.5 263.2 1247.2 C267.1 1246.9 271.0 1246.4 274.9 1245.8 C278.8 1245.1 282.7 1244.3 286.6 1243.4 C290.5 1242.6 294.4 1241.9 298.3 1240.6 C302.2 1239.2 306.1 1237.2 310.0 1235.3 C313.9 1233.4 317.8 1231.3 321.8 1229.2 C325.7 1227.2 329.6 1225.2 333.5 1222.9 C337.4 1220.6 341.3 1217.9 345.2 1215.5 C349.1 1213.1 353.0 1211.0 356.9 1208.7 C360.8 1206.5 364.7 1204.8 368.6 1202.1 C372.5 1199.4 376.4 1195.6 380.3 1192.4 C384.2 1189.1 390.0 1184.3 392.0 1182.6" stroke="rgba(60,38,8,0.18)" stroke-width="7"/>
<path d="M111.0 1190.1 C113.0 1191.3 118.8 1194.9 122.7 1197.4 C126.6 1199.9 130.5 1202.7 134.4 1205.1 C138.3 1207.6 142.2 1210.0 146.1 1212.3 C150.0 1214.5 153.9 1216.7 157.8 1218.9 C161.7 1221.1 165.6 1223.5 169.5 1225.3 C173.4 1227.1 177.3 1228.4 181.2 1229.8 C185.2 1231.2 189.1 1232.7 193.0 1233.8 C196.9 1234.8 200.8 1235.7 204.7 1236.2 C208.6 1236.8 212.5 1236.7 216.4 1237.0 C220.3 1237.2 224.2 1237.6 228.1 1237.6 C232.0 1237.6 235.9 1237.4 239.8 1237.2 C243.7 1237.0 247.6 1236.5 251.5 1236.4 C255.4 1236.2 259.3 1236.5 263.2 1236.2 C267.1 1235.9 271.0 1235.4 274.9 1234.8 C278.8 1234.1 282.7 1233.3 286.6 1232.4 C290.5 1231.6 294.4 1230.9 298.3 1229.6 C302.2 1228.2 306.1 1226.2 310.0 1224.3 C313.9 1222.4 317.8 1220.3 321.8 1218.2 C325.7 1216.2 329.6 1214.2 333.5 1211.9 C337.4 1209.6 341.3 1206.9 345.2 1204.5 C349.1 1202.1 353.0 1200.0 356.9 1197.7 C360.8 1195.5 364.7 1193.8 368.6 1191.1 C372.5 1188.4 376.4 1184.6 380.3 1181.4 C384.2 1178.1 390.0 1173.3 392.0 1171.6" stroke="rgba(190,140,70,0.16)" stroke-width="6"/>
<path d="M111.0 1218.6 C113.0 1220.0 118.8 1224.1 122.7 1227.0 C126.6 1229.9 130.5 1233.2 134.4 1236.1 C138.3 1239.0 142.2 1241.7 146.1 1244.3 C150.0 1246.8 153.9 1249.0 157.8 1251.2 C161.7 1253.3 165.6 1255.5 169.5 1257.1 C173.4 1258.7 177.3 1259.5 181.2 1260.5 C185.2 1261.6 189.1 1262.6 193.0 1263.4 C196.9 1264.2 200.8 1264.8 204.7 1265.2 C208.6 1265.7 212.5 1265.8 216.4 1266.2 C220.3 1266.6 224.2 1267.3 228.1 1267.7 C232.0 1268.1 235.9 1268.4 239.8 1268.5 C243.7 1268.7 247.6 1268.7 251.5 1268.7 C255.4 1268.8 259.3 1269.2 263.2 1268.8 C267.1 1268.5 271.0 1267.7 274.9 1266.8 C278.8 1265.9 282.7 1264.6 286.6 1263.3 C290.5 1262.0 294.4 1260.9 298.3 1259.2 C302.2 1257.5 306.1 1255.2 310.0 1253.2 C313.9 1251.1 317.8 1249.0 321.8 1247.0 C325.7 1245.1 329.6 1243.4 333.5 1241.5 C337.4 1239.5 341.3 1237.2 345.2 1235.2 C349.1 1233.1 353.0 1231.4 356.9 1229.3 C360.8 1227.3 364.7 1225.7 368.6 1222.9 C372.5 1220.2 376.4 1216.2 380.3 1212.6 C384.2 1209.1 390.0 1203.4 392.0 1201.6" stroke="rgba(60,38,8,0.62)" stroke-width="2.2"/>
<path d="M111.0 1223.6 C113.0 1225.0 118.8 1229.1 122.7 1232.0 C126.6 1234.9 130.5 1238.2 134.4 1241.1 C138.3 1244.0 142.2 1246.7 146.1 1249.3 C150.0 1251.8 153.9 1254.0 157.8 1256.2 C161.7 1258.3 165.6 1260.5 169.5 1262.1 C173.4 1263.7 177.3 1264.5 181.2 1265.5 C185.2 1266.6 189.1 1267.6 193.0 1268.4 C196.9 1269.2 200.8 1269.8 204.7 1270.2 C208.6 1270.7 212.5 1270.8 216.4 1271.2 C220.3 1271.6 224.2 1272.3 228.1 1272.7 C232.0 1273.1 235.9 1273.4 239.8 1273.5 C243.7 1273.7 247.6 1273.7 251.5 1273.7 C255.4 1273.8 259.3 1274.2 263.2 1273.8 C267.1 1273.5 271.0 1272.7 274.9 1271.8 C278.8 1270.9 282.7 1269.6 286.6 1268.3 C290.5 1267.0 294.4 1265.9 298.3 1264.2 C302.2 1262.5 306.1 1260.2 310.0 1258.2 C313.9 1256.1 317.8 1254.0 321.8 1252.0 C325.7 1250.1 329.6 1248.4 333.5 1246.5 C337.4 1244.5 341.3 1242.2 345.2 1240.2 C349.1 1238.1 353.0 1236.4 356.9 1234.3 C360.8 1232.3 364.7 1230.7 368.6 1227.9 C372.5 1225.2 376.4 1221.2 380.3 1217.6 C384.2 1214.1 390.0 1208.4 392.0 1206.6" stroke="rgba(60,38,8,0.18)" stroke-width="7"/>
<path d="M111.0 1212.6 C113.0 1214.0 118.8 1218.1 122.7 1221.0 C126.6 1223.9 130.5 1227.2 134.4 1230.1 C138.3 1233.0 142.2 1235.7 146.1 1238.3 C150.0 1240.8 153.9 1243.0 157.8 1245.2 C161.7 1247.3 165.6 1249.5 169.5 1251.1 C173.4 1252.7 177.3 1253.5 181.2 1254.5 C185.2 1255.6 189.1 1256.6 193.0 1257.4 C196.9 1258.2 200.8 1258.8 204.7 1259.2 C208.6 1259.7 212.5 1259.8 216.4 1260.2 C220.3 1260.6 224.2 1261.3 228.1 1261.7 C232.0 1262.1 235.9 1262.4 239.8 1262.5 C243.7 1262.7 247.6 1262.7 251.5 1262.7 C255.4 1262.8 259.3 1263.2 263.2 1262.8 C267.1 1262.5 271.0 1261.7 274.9 1260.8 C278.8 1259.9 282.7 1258.6 286.6 1257.3 C290.5 1256.0 294.4 1254.9 298.3 1253.2 C302.2 1251.5 306.1 1249.2 310.0 1247.2 C313.9 1245.1 317.8 1243.0 321.8 1241.0 C325.7 1239.1 329.6 1237.4 333.5 1235.5 C337.4 1233.5 341.3 1231.2 345.2 1229.2 C349.1 1227.1 353.0 1225.4 356.9 1223.3 C360.8 1221.3 364.7 1219.7 368.6 1216.9 C372.5 1214.2 376.4 1210.2 380.3 1206.6 C384.2 1203.1 390.0 1197.4 392.0 1195.6" stroke="rgba(190,140,70,0.16)" stroke-width="6"/>
<path d="M111.0 1243.1 C113.0 1244.7 118.8 1249.5 122.7 1252.7 C126.6 1255.9 130.5 1259.3 134.4 1262.2 C138.3 1265.1 142.2 1267.7 146.1 1269.9 C150.0 1272.2 153.9 1274.1 157.8 1275.9 C161.7 1277.7 165.6 1279.4 169.5 1280.7 C173.4 1282.0 177.3 1282.5 181.2 1283.4 C185.2 1284.4 189.1 1285.5 193.0 1286.4 C196.9 1287.4 200.8 1288.4 204.7 1289.2 C208.6 1290.0 212.5 1290.6 216.4 1291.4 C220.3 1292.2 224.2 1293.4 228.1 1294.0 C232.0 1294.6 235.9 1295.1 239.8 1295.2 C243.7 1295.4 247.6 1295.1 251.5 1294.9 C255.4 1294.7 259.3 1294.7 263.2 1294.0 C267.1 1293.3 271.0 1292.0 274.9 1290.7 C278.8 1289.4 282.7 1287.8 286.6 1286.3 C290.5 1284.9 294.4 1283.8 298.3 1282.2 C302.2 1280.6 306.1 1278.5 310.0 1276.8 C313.9 1275.0 317.8 1273.4 321.8 1271.8 C325.7 1270.2 329.6 1268.9 333.5 1267.2 C337.4 1265.4 341.3 1263.3 345.2 1261.3 C349.1 1259.2 353.0 1257.3 356.9 1254.9 C360.8 1252.6 364.7 1250.6 368.6 1247.4 C372.5 1244.2 376.4 1239.7 380.3 1235.7 C384.2 1231.7 390.0 1225.6 392.0 1223.6" stroke="rgba(60,38,8,0.62)" stroke-width="2.7"/>
<path d="M111.0 1248.1 C113.0 1249.7 118.8 1254.5 122.7 1257.7 C126.6 1260.9 130.5 1264.3 134.4 1267.2 C138.3 1270.1 142.2 1272.7 146.1 1274.9 C150.0 1277.2 153.9 1279.1 157.8 1280.9 C161.7 1282.7 165.6 1284.4 169.5 1285.7 C173.4 1287.0 177.3 1287.5 181.2 1288.4 C185.2 1289.4 189.1 1290.5 193.0 1291.4 C196.9 1292.4 200.8 1293.4 204.7 1294.2 C208.6 1295.0 212.5 1295.6 216.4 1296.4 C220.3 1297.2 224.2 1298.4 228.1 1299.0 C232.0 1299.6 235.9 1300.1 239.8 1300.2 C243.7 1300.4 247.6 1300.1 251.5 1299.9 C255.4 1299.7 259.3 1299.7 263.2 1299.0 C267.1 1298.3 271.0 1297.0 274.9 1295.7 C278.8 1294.4 282.7 1292.8 286.6 1291.3 C290.5 1289.9 294.4 1288.8 298.3 1287.2 C302.2 1285.6 306.1 1283.5 310.0 1281.8 C313.9 1280.0 317.8 1278.4 321.8 1276.8 C325.7 1275.2 329.6 1273.9 333.5 1272.2 C337.4 1270.4 341.3 1268.3 345.2 1266.3 C349.1 1264.2 353.0 1262.3 356.9 1259.9 C360.8 1257.6 364.7 1255.6 368.6 1252.4 C372.5 1249.2 376.4 1244.7 380.3 1240.7 C384.2 1236.7 390.0 1230.6 392.0 1228.6" stroke="rgba(60,38,8,0.18)" stroke-width="7"/>
<path d="M111.0 1237.1 C113.0 1238.7 118.8 1243.5 122.7 1246.7 C126.6 1249.9 130.5 1253.3 134.4 1256.2 C138.3 1259.1 142.2 1261.7 146.1 1263.9 C150.0 1266.2 153.9 1268.1 157.8 1269.9 C161.7 1271.7 165.6 1273.4 169.5 1274.7 C173.4 1276.0 177.3 1276.5 181.2 1277.4 C185.2 1278.4 189.1 1279.5 193.0 1280.4 C196.9 1281.4 200.8 1282.4 204.7 1283.2 C208.6 1284.0 212.5 1284.6 216.4 1285.4 C220.3 1286.2 224.2 1287.4 228.1 1288.0 C232.0 1288.6 235.9 1289.1 239.8 1289.2 C243.7 1289.4 247.6 1289.1 251.5 1288.9 C255.4 1288.7 259.3 1288.7 263.2 1288.0 C267.1 1287.3 271.0 1286.0 274.9 1284.7 C278.8 1283.4 282.7 1281.8 286.6 1280.3 C290.5 1278.9 294.4 1277.8 298.3 1276.2 C302.2 1274.6 306.1 1272.5 310.0 1270.8 C313.9 1269.0 317.8 1267.4 321.8 1265.8 C325.7 1264.2 329.6 1262.9 333.5 1261.2 C337.4 1259.4 341.3 1257.3 345.2 1255.3 C349.1 1253.2 353.0 1251.3 356.9 1248.9 C360.8 1246.6 364.7 1244.6 368.6 1241.4 C372.5 1238.2 376.4 1233.7 380.3 1229.7 C384.2 1225.7 390.0 1219.6 392.0 1217.6" stroke="rgba(190,140,70,0.16)" stroke-width="6"/>
<path d="M111.0 1268.9 C113.0 1270.5 118.8 1275.2 122.7 1278.2 C126.6 1281.2 130.5 1284.2 134.4 1286.8 C138.3 1289.3 142.2 1291.5 146.1 1293.4 C150.0 1295.4 153.9 1297.0 157.8 1298.7 C161.7 1300.4 165.6 1302.2 169.5 1303.6 C173.4 1305.0 177.3 1305.9 181.2 1307.2 C185.2 1308.5 189.1 1310.1 193.0 1311.4 C196.9 1312.8 200.8 1314.2 204.7 1315.3 C208.6 1316.4 212.5 1317.2 216.4 1318.0 C220.3 1318.9 224.2 1319.9 228.1 1320.3 C232.0 1320.7 235.9 1320.7 239.8 1320.5 C243.7 1320.3 247.6 1319.5 251.5 1319.0 C255.4 1318.4 259.3 1318.0 263.2 1317.2 C267.1 1316.3 271.0 1314.9 274.9 1313.7 C278.8 1312.5 282.7 1311.1 286.6 1310.0 C290.5 1308.9 294.4 1308.2 298.3 1306.9 C302.2 1305.7 306.1 1304.1 310.0 1302.6 C313.9 1301.1 317.8 1299.6 321.8 1298.1 C325.7 1296.5 329.6 1295.1 333.5 1293.1 C337.4 1291.1 341.3 1288.6 345.2 1286.1 C349.1 1283.7 353.0 1281.2 356.9 1278.5 C360.8 1275.8 364.7 1273.3 368.6 1269.9 C372.5 1266.4 376.4 1261.7 380.3 1257.8 C384.2 1253.8 390.0 1248.0 392.0 1246.1" stroke="rgba(60,38,8,0.62)" stroke-width="2.2"/>
<path d="M111.0 1273.9 C113.0 1275.5 118.8 1280.2 122.7 1283.2 C126.6 1286.2 130.5 1289.2 134.4 1291.8 C138.3 1294.3 142.2 1296.5 146.1 1298.4 C150.0 1300.4 153.9 1302.0 157.8 1303.7 C161.7 1305.4 165.6 1307.2 169.5 1308.6 C173.4 1310.0 177.3 1310.9 181.2 1312.2 C185.2 1313.5 189.1 1315.1 193.0 1316.4 C196.9 1317.8 200.8 1319.2 204.7 1320.3 C208.6 1321.4 212.5 1322.2 216.4 1323.0 C220.3 1323.9 224.2 1324.9 228.1 1325.3 C232.0 1325.7 235.9 1325.7 239.8 1325.5 C243.7 1325.3 247.6 1324.5 251.5 1324.0 C255.4 1323.4 259.3 1323.0 263.2 1322.2 C267.1 1321.3 271.0 1319.9 274.9 1318.7 C278.8 1317.5 282.7 1316.1 286.6 1315.0 C290.5 1313.9 294.4 1313.2 298.3 1311.9 C302.2 1310.7 306.1 1309.1 310.0 1307.6 C313.9 1306.1 317.8 1304.6 321.8 1303.1 C325.7 1301.5 329.6 1300.1 333.5 1298.1 C337.4 1296.1 341.3 1293.6 345.2 1291.1 C349.1 1288.7 353.0 1286.2 356.9 1283.5 C360.8 1280.8 364.7 1278.3 368.6 1274.9 C372.5 1271.4 376.4 1266.7 380.3 1262.8 C384.2 1258.8 390.0 1253.0 392.0 1251.1" stroke="rgba(60,38,8,0.18)" stroke-width="7"/>
<path d="M111.0 1262.9 C113.0 1264.5 118.8 1269.2 122.7 1272.2 C126.6 1275.2 130.5 1278.2 134.4 1280.8 C138.3 1283.3 142.2 1285.5 146.1 1287.4 C150.0 1289.4 153.9 1291.0 157.8 1292.7 C161.7 1294.4 165.6 1296.2 169.5 1297.6 C173.4 1299.0 177.3 1299.9 181.2 1301.2 C185.2 1302.5 189.1 1304.1 193.0 1305.4 C196.9 1306.8 200.8 1308.2 204.7 1309.3 C208.6 1310.4 212.5 1311.2 216.4 1312.0 C220.3 1312.9 224.2 1313.9 228.1 1314.3 C232.0 1314.7 235.9 1314.7 239.8 1314.5 C243.7 1314.3 247.6 1313.5 251.5 1313.0 C255.4 1312.4 259.3 1312.0 263.2 1311.2 C267.1 1310.3 271.0 1308.9 274.9 1307.7 C278.8 1306.5 282.7 1305.1 286.6 1304.0 C290.5 1302.9 294.4 1302.2 298.3 1300.9 C302.2 1299.7 306.1 1298.1 310.0 1296.6 C313.9 1295.1 317.8 1293.6 321.8 1292.1 C325.7 1290.5 329.6 1289.1 333.5 1287.1 C337.4 1285.1 341.3 1282.6 345.2 1280.1 C349.1 1277.7 353.0 1275.2 356.9 1272.5 C360.8 1269.8 364.7 1267.3 368.6 1263.9 C372.5 1260.4 376.4 1255.7 380.3 1251.8 C384.2 1247.8 390.0 1242.0 392.0 1240.1" stroke="rgba(190,140,70,0.16)" stroke-width="6"/>
<path d="M111.0 1293.4 C113.0 1294.7 118.8 1298.9 122.7 1301.5 C126.6 1304.2 130.5 1307.0 134.4 1309.4 C138.3 1311.8 142.2 1314.0 146.1 1316.1 C150.0 1318.2 153.9 1320.1 157.8 1322.1 C161.7 1324.2 165.6 1326.5 169.5 1328.3 C173.4 1330.1 177.3 1331.5 181.2 1333.1 C185.2 1334.7 189.1 1336.5 193.0 1338.0 C196.9 1339.4 200.8 1340.8 204.7 1341.7 C208.6 1342.6 212.5 1342.9 216.4 1343.4 C220.3 1343.9 224.2 1344.5 228.1 1344.5 C232.0 1344.6 235.9 1344.2 239.8 1343.8 C243.7 1343.4 247.6 1342.5 251.5 1342.0 C255.4 1341.5 259.3 1341.4 263.2 1340.8 C267.1 1340.2 271.0 1339.3 274.9 1338.5 C278.8 1337.6 282.7 1336.7 286.6 1335.8 C290.5 1335.0 294.4 1334.6 298.3 1333.4 C302.2 1332.2 306.1 1330.5 310.0 1328.8 C313.9 1327.1 317.8 1325.2 321.8 1323.3 C325.7 1321.3 329.6 1319.4 333.5 1317.0 C337.4 1314.6 341.3 1311.6 345.2 1308.9 C349.1 1306.2 353.0 1303.5 356.9 1300.8 C360.8 1298.1 364.7 1295.9 368.6 1292.6 C372.5 1289.4 376.4 1285.0 380.3 1281.4 C384.2 1277.8 390.0 1272.5 392.0 1270.8" stroke="rgba(60,38,8,0.62)" stroke-width="2.7"/>
<path d="M111.0 1298.4 C113.0 1299.7 118.8 1303.9 122.7 1306.5 C126.6 1309.2 130.5 1312.0 134.4 1314.4 C138.3 1316.8 142.2 1319.0 146.1 1321.1 C150.0 1323.2 153.9 1325.1 157.8 1327.1 C161.7 1329.2 165.6 1331.5 169.5 1333.3 C173.4 1335.1 177.3 1336.5 181.2 1338.1 C185.2 1339.7 189.1 1341.5 193.0 1343.0 C196.9 1344.4 200.8 1345.8 204.7 1346.7 C208.6 1347.6 212.5 1347.9 216.4 1348.4 C220.3 1348.9 224.2 1349.5 228.1 1349.5 C232.0 1349.6 235.9 1349.2 239.8 1348.8 C243.7 1348.4 247.6 1347.5 251.5 1347.0 C255.4 1346.5 259.3 1346.4 263.2 1345.8 C267.1 1345.2 271.0 1344.3 274.9 1343.5 C278.8 1342.6 282.7 1341.7 286.6 1340.8 C290.5 1340.0 294.4 1339.6 298.3 1338.4 C302.2 1337.2 306.1 1335.5 310.0 1333.8 C313.9 1332.1 317.8 1330.2 321.8 1328.3 C325.7 1326.3 329.6 1324.4 333.5 1322.0 C337.4 1319.6 341.3 1316.6 345.2 1313.9 C349.1 1311.2 353.0 1308.5 356.9 1305.8 C360.8 1303.1 364.7 1300.9 368.6 1297.6 C372.5 1294.4 376.4 1290.0 380.3 1286.4 C384.2 1282.8 390.0 1277.5 392.0 1275.8" stroke="rgba(60,38,8,0.18)" stroke-width="7"/>
<path d="M111.0 1287.4 C113.0 1288.7 118.8 1292.9 122.7 1295.5 C126.6 1298.2 130.5 1301.0 134.4 1303.4 C138.3 1305.8 142.2 1308.0 146.1 1310.1 C150.0 1312.2 153.9 1314.1 157.8 1316.1 C161.7 1318.2 165.6 1320.5 169.5 1322.3 C173.4 1324.1 177.3 1325.5 181.2 1327.1 C185.2 1328.7 189.1 1330.5 193.0 1332.0 C196.9 1333.4 200.8 1334.8 204.7 1335.7 C208.6 1336.6 212.5 1336.9 216.4 1337.4 C220.3 1337.9 224.2 1338.5 228.1 1338.5 C232.0 1338.6 235.9 1338.2 239.8 1337.8 C243.7 1337.4 247.6 1336.5 251.5 1336.0 C255.4 1335.5 259.3 1335.4 263.2 1334.8 C267.1 1334.2 271.0 1333.3 274.9 1332.5 C278.8 1331.6 282.7 1330.7 286.6 1329.8 C290.5 1329.0 294.4 1328.6 298.3 1327.4 C302.2 1326.2 306.1 1324.5 310.0 1322.8 C313.9 1321.1 317.8 1319.2 321.8 1317.3 C325.7 1315.3 329.6 1313.4 333.5 1311.0 C337.4 1308.6 341.3 1305.6 345.2 1302.9 C349.1 1300.2 353.0 1297.5 356.9 1294.8 C360.8 1292.1 364.7 1289.9 368.6 1286.6 C372.5 1283.4 376.4 1279.0 380.3 1275.4 C384.2 1271.8 390.0 1266.5 392.0 1264.8" stroke="rgba(190,140,70,0.16)" stroke-width="6"/>
<path d="M111.0 1315.8 C113.0 1317.1 118.8 1321.1 122.7 1323.9 C126.6 1326.7 130.5 1329.8 134.4 1332.5 C138.3 1335.3 142.2 1337.9 146.1 1340.5 C150.0 1343.0 153.9 1345.4 157.8 1347.8 C161.7 1350.1 165.6 1352.8 169.5 1354.7 C173.4 1356.6 177.3 1357.9 181.2 1359.4 C185.2 1360.8 189.1 1362.3 193.0 1363.4 C196.9 1364.5 200.8 1365.4 204.7 1366.0 C208.6 1366.5 212.5 1366.5 216.4 1366.7 C220.3 1367.0 224.2 1367.5 228.1 1367.6 C232.0 1367.7 235.9 1367.5 239.8 1367.3 C243.7 1367.2 247.6 1366.8 251.5 1366.7 C255.4 1366.6 259.3 1366.9 263.2 1366.6 C267.1 1366.3 271.0 1365.7 274.9 1365.0 C278.8 1364.3 282.7 1363.3 286.6 1362.2 C290.5 1361.2 294.4 1360.4 298.3 1358.9 C302.2 1357.4 306.1 1355.1 310.0 1353.0 C313.9 1350.9 317.8 1348.6 321.8 1346.3 C325.7 1344.1 329.6 1342.0 333.5 1339.6 C337.4 1337.2 341.3 1334.3 345.2 1331.8 C349.1 1329.3 353.0 1327.0 356.9 1324.7 C360.8 1322.3 364.7 1320.5 368.6 1317.5 C372.5 1314.6 376.4 1310.5 380.3 1306.9 C384.2 1303.4 390.0 1297.9 392.0 1296.1" stroke="rgba(60,38,8,0.62)" stroke-width="2.2"/>
<path d="M111.0 1320.8 C113.0 1322.1 118.8 1326.1 122.7 1328.9 C126.6 1331.7 130.5 1334.8 134.4 1337.5 C138.3 1340.3 142.2 1342.9 146.1 1345.5 C150.0 1348.0 153.9 1350.4 157.8 1352.8 C161.7 1355.1 165.6 1357.8 169.5 1359.7 C173.4 1361.6 177.3 1362.9 181.2 1364.4 C185.2 1365.8 189.1 1367.3 193.0 1368.4 C196.9 1369.5 200.8 1370.4 204.7 1371.0 C208.6 1371.5 212.5 1371.5 216.4 1371.7 C220.3 1372.0 224.2 1372.5 228.1 1372.6 C232.0 1372.7 235.9 1372.5 239.8 1372.3 C243.7 1372.2 247.6 1371.8 251.5 1371.7 C255.4 1371.6 259.3 1371.9 263.2 1371.6 C267.1 1371.3 271.0 1370.7 274.9 1370.0 C278.8 1369.3 282.7 1368.3 286.6 1367.2 C290.5 1366.2 294.4 1365.4 298.3 1363.9 C302.2 1362.4 306.1 1360.1 310.0 1358.0 C313.9 1355.9 317.8 1353.6 321.8 1351.3 C325.7 1349.1 329.6 1347.0 333.5 1344.6 C337.4 1342.2 341.3 1339.3 345.2 1336.8 C349.1 1334.3 353.0 1332.0 356.9 1329.7 C360.8 1327.3 364.7 1325.5 368.6 1322.5 C372.5 1319.6 376.4 1315.5 380.3 1311.9 C384.2 1308.4 390.0 1302.9 392.0 1301.1" stroke="rgba(60,38,8,0.18)" stroke-width="7"/>
<path d="M111.0 1309.8 C113.0 1311.1 118.8 1315.1 122.7 1317.9 C126.6 1320.7 130.5 1323.8 134.4 1326.5 C138.3 1329.3 142.2 1331.9 146.1 1334.5 C150.0 1337.0 153.9 1339.4 157.8 1341.8 C161.7 1344.1 165.6 1346.8 169.5 1348.7 C173.4 1350.6 177.3 1351.9 181.2 1353.4 C185.2 1354.8 189.1 1356.3 193.0 1357.4 C196.9 1358.5 200.8 1359.4 204.7 1360.0 C208.6 1360.5 212.5 1360.5 216.4 1360.7 C220.3 1361.0 224.2 1361.5 228.1 1361.6 C232.0 1361.7 235.9 1361.5 239.8 1361.3 C243.7 1361.2 247.6 1360.8 251.5 1360.7 C255.4 1360.6 259.3 1360.9 263.2 1360.6 C267.1 1360.3 271.0 1359.7 274.9 1359.0 C278.8 1358.3 282.7 1357.3 286.6 1356.2 C290.5 1355.2 294.4 1354.4 298.3 1352.9 C302.2 1351.4 306.1 1349.1 310.0 1347.0 C313.9 1344.9 317.8 1342.6 321.8 1340.3 C325.7 1338.1 329.6 1336.0 333.5 1333.6 C337.4 1331.2 341.3 1328.3 345.2 1325.8 C349.1 1323.3 353.0 1321.0 356.9 1318.7 C360.8 1316.3 364.7 1314.5 368.6 1311.5 C372.5 1308.6 376.4 1304.5 380.3 1300.9 C384.2 1297.4 390.0 1291.9 392.0 1290.1" stroke="rgba(190,140,70,0.16)" stroke-width="6"/>
<path d="M4.0 1019.0 C6.2 1018.3 12.9 1016.3 17.4 1014.7 C21.8 1013.1 26.3 1011.3 30.8 1009.4 C35.2 1007.5 39.7 1005.2 44.1 1003.1 C48.6 1001.0 53.0 998.7 57.5 996.7 C62.0 994.7 66.4 992.8 70.9 991.1 C75.3 989.4 79.8 988.0 84.2 986.6 C88.7 985.1 93.2 983.9 97.6 982.3 C102.1 980.8 108.8 978.2 111.0 977.4" stroke="rgba(60,38,8,0.55)" stroke-width="2.2"/>
<path d="M4.0 1024.0 C6.2 1023.3 12.9 1021.3 17.4 1019.7 C21.8 1018.1 26.3 1016.3 30.8 1014.4 C35.2 1012.5 39.7 1010.2 44.1 1008.1 C48.6 1006.0 53.0 1003.7 57.5 1001.7 C62.0 999.7 66.4 997.8 70.9 996.1 C75.3 994.4 79.8 993.0 84.2 991.6 C88.7 990.1 93.2 988.9 97.6 987.3 C102.1 985.8 108.8 983.2 111.0 982.4" stroke="rgba(60,38,8,0.16)" stroke-width="7"/>
<path d="M4.0 1050.0 C6.2 1049.1 12.9 1046.7 17.4 1044.7 C21.8 1042.8 26.3 1040.6 30.8 1038.5 C35.2 1036.4 39.7 1034.0 44.1 1032.0 C48.6 1030.0 53.0 1028.1 57.5 1026.4 C62.0 1024.8 66.4 1023.4 70.9 1021.9 C75.3 1020.5 79.8 1019.2 84.2 1017.7 C88.7 1016.2 93.2 1014.6 97.6 1012.7 C102.1 1010.9 108.8 1007.7 111.0 1006.7" stroke="rgba(60,38,8,0.55)" stroke-width="2.2"/>
<path d="M4.0 1055.0 C6.2 1054.1 12.9 1051.7 17.4 1049.7 C21.8 1047.8 26.3 1045.6 30.8 1043.5 C35.2 1041.4 39.7 1039.0 44.1 1037.0 C48.6 1035.0 53.0 1033.1 57.5 1031.4 C62.0 1029.8 66.4 1028.4 70.9 1026.9 C75.3 1025.5 79.8 1024.2 84.2 1022.7 C88.7 1021.2 93.2 1019.6 97.6 1017.7 C102.1 1015.9 108.8 1012.7 111.0 1011.7" stroke="rgba(60,38,8,0.16)" stroke-width="7"/>
<path d="M4.0 1080.1 C6.2 1079.0 12.9 1075.9 17.4 1073.8 C21.8 1071.7 26.3 1069.4 30.8 1067.4 C35.2 1065.4 39.7 1063.5 44.1 1061.8 C48.6 1060.1 53.0 1058.7 57.5 1057.3 C62.0 1055.8 66.4 1054.6 70.9 1053.0 C75.3 1051.5 79.8 1049.9 84.2 1048.1 C88.7 1046.3 93.2 1044.1 97.6 1042.0 C102.1 1040.0 108.8 1036.6 111.0 1035.5" stroke="rgba(60,38,8,0.55)" stroke-width="2.2"/>
<path d="M4.0 1085.1 C6.2 1084.0 12.9 1080.9 17.4 1078.8 C21.8 1076.7 26.3 1074.4 30.8 1072.4 C35.2 1070.4 39.7 1068.5 44.1 1066.8 C48.6 1065.1 53.0 1063.7 57.5 1062.3 C62.0 1060.8 66.4 1059.6 70.9 1058.0 C75.3 1056.5 79.8 1054.9 84.2 1053.1 C88.7 1051.3 93.2 1049.1 97.6 1047.0 C102.1 1045.0 108.8 1041.6 111.0 1040.5" stroke="rgba(60,38,8,0.16)" stroke-width="7"/>
<path d="M4.0 1106.2 C6.2 1105.1 12.9 1101.7 17.4 1099.7 C21.8 1097.7 26.3 1095.8 30.8 1094.1 C35.2 1092.5 39.7 1091.1 44.1 1089.6 C48.6 1088.2 53.0 1086.9 57.5 1085.4 C62.0 1083.9 66.4 1082.3 70.9 1080.4 C75.3 1078.6 79.8 1076.5 84.2 1074.4 C88.7 1072.3 93.2 1070.0 97.6 1067.9 C102.1 1065.8 108.8 1063.0 111.0 1062.0" stroke="rgba(60,38,8,0.55)" stroke-width="2.2"/>
<path d="M4.0 1111.2 C6.2 1110.1 12.9 1106.7 17.4 1104.7 C21.8 1102.7 26.3 1100.8 30.8 1099.1 C35.2 1097.5 39.7 1096.1 44.1 1094.6 C48.6 1093.2 53.0 1091.9 57.5 1090.4 C62.0 1088.9 66.4 1087.3 70.9 1085.4 C75.3 1083.6 79.8 1081.5 84.2 1079.4 C88.7 1077.3 93.2 1075.0 97.6 1072.9 C102.1 1070.8 108.8 1068.0 111.0 1067.0" stroke="rgba(60,38,8,0.16)" stroke-width="7"/>
<path d="M4.0 1129.1 C6.2 1128.2 12.9 1125.2 17.4 1123.5 C21.8 1121.8 26.3 1120.4 30.8 1119.0 C35.2 1117.5 39.7 1116.3 44.1 1114.7 C48.6 1113.2 53.0 1111.6 57.5 1109.8 C62.0 1108.0 66.4 1105.8 70.9 1103.7 C75.3 1101.7 79.8 1099.3 84.2 1097.2 C88.7 1095.2 93.2 1093.1 97.6 1091.4 C102.1 1089.6 108.8 1087.4 111.0 1086.6" stroke="rgba(60,38,8,0.55)" stroke-width="2.2"/>
<path d="M4.0 1134.1 C6.2 1133.2 12.9 1130.2 17.4 1128.5 C21.8 1126.8 26.3 1125.4 30.8 1124.0 C35.2 1122.5 39.7 1121.3 44.1 1119.7 C48.6 1118.2 53.0 1116.6 57.5 1114.8 C62.0 1113.0 66.4 1110.8 70.9 1108.7 C75.3 1106.7 79.8 1104.3 84.2 1102.2 C88.7 1100.2 93.2 1098.1 97.6 1096.4 C102.1 1094.6 108.8 1092.4 111.0 1091.6" stroke="rgba(60,38,8,0.16)" stroke-width="7"/>
<path d="M4.0 1155.8 C6.2 1155.1 12.9 1152.8 17.4 1151.3 C21.8 1149.9 26.3 1148.6 30.8 1147.1 C35.2 1145.6 39.7 1144.0 44.1 1142.1 C48.6 1140.3 53.0 1138.2 57.5 1136.1 C62.0 1134.0 66.4 1131.7 70.9 1129.6 C75.3 1127.5 79.8 1125.5 84.2 1123.7 C88.7 1121.9 93.2 1120.4 97.6 1118.9 C102.1 1117.4 108.8 1115.4 111.0 1114.7" stroke="rgba(60,38,8,0.55)" stroke-width="2.2"/>
<path d="M4.0 1160.8 C6.2 1160.1 12.9 1157.8 17.4 1156.3 C21.8 1154.9 26.3 1153.6 30.8 1152.1 C35.2 1150.6 39.7 1149.0 44.1 1147.1 C48.6 1145.3 53.0 1143.2 57.5 1141.1 C62.0 1139.0 66.4 1136.7 70.9 1134.6 C75.3 1132.5 79.8 1130.5 84.2 1128.7 C88.7 1126.9 93.2 1125.4 97.6 1123.9 C102.1 1122.4 108.8 1120.4 111.0 1119.7" stroke="rgba(60,38,8,0.16)" stroke-width="7"/>
<path d="M4.0 1183.7 C6.2 1183.0 12.9 1181.0 17.4 1179.4 C21.8 1177.9 26.3 1176.3 30.8 1174.5 C35.2 1172.7 39.7 1170.5 44.1 1168.4 C48.6 1166.4 53.0 1164.0 57.5 1161.9 C62.0 1159.9 66.4 1157.8 70.9 1156.1 C75.3 1154.3 79.8 1152.8 84.2 1151.3 C88.7 1149.8 93.2 1148.5 97.6 1147.1 C102.1 1145.6 108.8 1143.2 111.0 1142.4" stroke="rgba(60,38,8,0.55)" stroke-width="2.2"/>
<path d="M4.0 1188.7 C6.2 1188.0 12.9 1186.0 17.4 1184.4 C21.8 1182.9 26.3 1181.3 30.8 1179.5 C35.2 1177.7 39.7 1175.5 44.1 1173.4 C48.6 1171.4 53.0 1169.0 57.5 1166.9 C62.0 1164.9 66.4 1162.8 70.9 1161.1 C75.3 1159.3 79.8 1157.8 84.2 1156.3 C88.7 1154.8 93.2 1153.5 97.6 1152.1 C102.1 1150.6 108.8 1148.2 111.0 1147.4" stroke="rgba(60,38,8,0.16)" stroke-width="7"/>
<path d="M4.0 1210.8 C6.2 1210.0 12.9 1207.7 17.4 1205.8 C21.8 1204.0 26.3 1201.9 30.8 1199.8 C35.2 1197.7 39.7 1195.4 44.1 1193.3 C48.6 1191.2 53.0 1189.2 57.5 1187.4 C62.0 1185.6 66.4 1184.1 70.9 1182.6 C75.3 1181.1 79.8 1179.9 84.2 1178.4 C88.7 1176.9 93.2 1175.5 97.6 1173.7 C102.1 1172.0 108.8 1168.9 111.0 1168.0" stroke="rgba(60,38,8,0.55)" stroke-width="2.2"/>
<path d="M4.0 1215.8 C6.2 1215.0 12.9 1212.7 17.4 1210.8 C21.8 1209.0 26.3 1206.9 30.8 1204.8 C35.2 1202.7 39.7 1200.4 44.1 1198.3 C48.6 1196.2 53.0 1194.2 57.5 1192.4 C62.0 1190.6 66.4 1189.1 70.9 1187.6 C75.3 1186.1 79.8 1184.9 84.2 1183.4 C88.7 1181.9 93.2 1180.5 97.6 1178.7 C102.1 1177.0 108.8 1173.9 111.0 1173.0" stroke="rgba(60,38,8,0.16)" stroke-width="7"/>
<path d="M111 1028 L113 1185" stroke="rgba(60,38,8,0.5)" stroke-width="2"/>
<path d="M398 1135.92551752112 L430 1303.9632983290624" stroke="rgba(60,38,8,0.5)" stroke-width="2"/>
<path d="M390 1138.72551752112 L422 1303.9632983290624" stroke="rgba(60,38,8,0.44)" stroke-width="2"/>
<path d="M382 1141.52551752112 L414 1303.9632983290624" stroke="rgba(60,38,8,0.38)" stroke-width="2"/>
<path d="M373 1144.67551752112 L405 1303.9632983290624" stroke="rgba(60,38,8,0.32)" stroke-width="2"/>
</g>
<rect x="0" y="840" width="1500" height="470" filter="url(#spk)" clip-path="url(#cwood)" opacity="0.5"/>
<path d="M404 1125.82551752112 L436 1303.9632983290624" stroke="rgba(96,60,16,0.55)" stroke-width="3" fill="none"/>
<g clip-path="url(#cpanel)">
<polygon points="300.0,940.0 700.0,890.0 700.0,898.0 300.0,959.5" fill="#fff"/>
<polygon points="5.0,995.0 955.0,854.5 1494.5,972.5 404.0,1125.8" fill="rgba(255,255,255,0.05)"/>
<path d="M320.0 1047.0 C328.9 1046.0 355.4 1042.9 373.1 1040.8 C390.8 1038.7 408.5 1036.6 426.2 1034.5 C444.0 1032.3 461.7 1030.2 479.4 1028.0 C497.1 1025.8 514.8 1023.6 532.5 1021.3 C550.2 1019.0 567.9 1016.8 585.6 1014.5 C603.3 1012.1 621.0 1009.8 638.8 1007.4 C656.5 1005.1 674.2 1002.7 691.9 1000.3 C709.6 997.8 727.3 995.4 745.0 992.9 C762.7 990.4 780.4 987.9 798.1 985.4 C815.8 982.8 833.5 980.3 851.2 977.7 C869.0 975.1 886.7 972.5 904.4 969.8 C922.1 967.2 939.8 964.5 957.5 961.8 C975.2 959.1 992.9 956.4 1010.6 953.6 C1028.3 950.8 1046.0 948.1 1063.8 945.2 C1081.5 942.4 1099.2 939.6 1116.9 936.7 C1134.6 933.8 1161.1 929.5 1170.0 928.0" stroke="rgba(52,30,6,0.6)" stroke-width="14" fill="none"/>
<path d="M320.0 1035.0 C328.9 1034.0 355.4 1030.9 373.1 1028.8 C390.8 1026.7 408.5 1024.6 426.2 1022.5 C444.0 1020.3 461.7 1018.2 479.4 1016.0 C497.1 1013.8 514.8 1011.6 532.5 1009.3 C550.2 1007.0 567.9 1004.8 585.6 1002.5 C603.3 1000.1 621.0 997.8 638.8 995.4 C656.5 993.1 674.2 990.7 691.9 988.3 C709.6 985.8 727.3 983.4 745.0 980.9 C762.7 978.4 780.4 975.9 798.1 973.4 C815.8 970.8 833.5 968.3 851.2 965.7 C869.0 963.1 886.7 960.5 904.4 957.8 C922.1 955.2 939.8 952.5 957.5 949.8 C975.2 947.1 992.9 944.4 1010.6 941.6 C1028.3 938.8 1046.0 936.1 1063.8 933.2 C1081.5 930.4 1099.2 927.6 1116.9 924.7 C1134.6 921.8 1161.1 917.5 1170.0 916.0" stroke="rgba(52,30,6,0.22)" stroke-width="10" fill="none"/>
</g>
<path d="M290 1048 L320 1054 " stroke="rgba(52,30,6,0.5)" stroke-width="2" fill="none"/>
<path d="M320.0 1054.0 C329.1 1052.9 356.2 1049.8 374.4 1047.7 C392.5 1045.5 410.6 1043.4 428.8 1041.2 C446.9 1039.0 465.0 1036.8 483.1 1034.5 C501.2 1032.3 519.4 1030.0 537.5 1027.7 C555.6 1025.4 573.8 1023.0 591.9 1020.6 C610.0 1018.3 628.1 1015.9 646.2 1013.4 C664.4 1011.0 682.5 1008.5 700.6 1006.1 C718.8 1003.6 736.9 1001.0 755.0 998.5 C773.1 995.9 791.2 993.4 809.4 990.8 C827.5 988.2 845.6 985.5 863.8 982.9 C881.9 980.2 900.0 977.5 918.1 974.8 C936.2 972.0 954.4 969.3 972.5 966.5 C990.6 963.7 1008.8 960.9 1026.9 958.1 C1045.0 955.2 1063.1 952.3 1081.2 949.4 C1099.4 946.5 1117.5 943.6 1135.6 940.7 C1153.8 937.7 1180.9 933.2 1190.0 931.7" stroke="rgba(52,30,6,0.5)" stroke-width="2" fill="none"/>
</svg>
<div id="panel" class="abs"><svg width="860" height="1000" viewBox="0 0 860 1000" style="display:block;overflow:visible">
<text x="201.1" y="100.8" font-size="82" text-anchor="middle" textLength="177.1" lengthAdjust="spacingAndGlyphs" fill="#231815" stroke="#231815" stroke-width="3" letter-spacing="12" stroke-linejoin="miter" font-family="DejaVu Serif, serif" font-weight="700">HUMAN</text>
<text x="424.2" y="100.8" font-size="82" text-anchor="middle" textLength="217.1" lengthAdjust="spacingAndGlyphs" fill="#231815" stroke="#231815" stroke-width="3" letter-spacing="12" stroke-linejoin="miter" font-family="DejaVu Serif, serif" font-weight="700">NERVOUS</text>
<text x="656.0" y="100.8" font-size="82" text-anchor="middle" textLength="187.3" lengthAdjust="spacingAndGlyphs" fill="#231815" stroke="#231815" stroke-width="3" letter-spacing="12" stroke-linejoin="miter" font-family="DejaVu Serif, serif" font-weight="700">SYSTEM</text>
<rect x="75.5" y="144.5" width="174.0" height="93.5" rx="46.8" fill="#a4b4c6"/>
<g font-family="Liberation Sans, sans-serif" font-weight="700">
<text x="162.0" y="173.9" font-size="27.12" text-anchor="middle" textLength="102.2" lengthAdjust="spacingAndGlyphs" fill="#111" stroke="#111" stroke-width="1.36" >CENTRAL</text>
<text x="161.9" y="202.6" font-size="27.12" text-anchor="middle" textLength="106.0" lengthAdjust="spacingAndGlyphs" fill="#111" stroke="#111" stroke-width="1.36" >NERVOUS</text>
<text x="165.2" y="231.1" font-size="27.12" text-anchor="middle" textLength="89.5" lengthAdjust="spacingAndGlyphs" fill="#111" stroke="#111" stroke-width="1.36" >SYSTEM</text>
</g>
<path d="M161.0 237.0 L161.0 264.0" fill="none" stroke="#595959" stroke-width="5.3" stroke-linejoin="round" stroke-linecap="butt"/>
<path d="M88.3 298.0 L88.3 264.0 L233.4 264.0 L233.4 298.0" fill="none" stroke="#595959" stroke-width="5.3" stroke-linejoin="round" stroke-linecap="butt"/>
<path d="M73.3 283.0 L88.3 301.0 L103.3 283.0" fill="none" stroke="#595959" stroke-width="5.3" stroke-linecap="round" stroke-linejoin="round"/>
<path d="M218.4 283.0 L233.4 301.0 L248.4 283.0" fill="none" stroke="#595959" stroke-width="5.3" stroke-linecap="round" stroke-linejoin="round"/>
<defs><linearGradient id="gb" x1="0" y1="0" x2="0" y2="1"><stop offset="0" stop-color="#dce9f3"/><stop offset="1" stop-color="#d3e3ef"/></linearGradient></defs>
<rect x="37.6" y="306.0" width="102.8" height="340.0" rx="51.4" fill="url(#gb)"/>
<rect x="181.6" y="306.0" width="103.2" height="340.0" rx="51.6" fill="url(#gb)"/>
<g font-family="Liberation Sans, sans-serif" font-weight="700">
<text x="89.5" y="348.7" font-size="17.51" text-anchor="middle" textLength="43.5" lengthAdjust="spacingAndGlyphs" fill="#111" stroke="#111" stroke-width="0.88" >BRAIN</text>
<text x="233.4" y="347.2" font-size="17.51" text-anchor="middle" textLength="49.9" lengthAdjust="spacingAndGlyphs" fill="#111" stroke="#111" stroke-width="0.88" >SPINAL</text>
<text x="233.7" y="366.2" font-size="17.51" text-anchor="middle" textLength="39.3" lengthAdjust="spacingAndGlyphs" fill="#111" stroke="#111" stroke-width="0.88" >CORD</text>
<text x="89.7" y="428.9" font-size="19.44" text-anchor="middle" textLength="90.8" lengthAdjust="spacingAndGlyphs" fill="#111" stroke="#111" stroke-width="0.97" >THE BRAIN</text>
<text x="90.5" y="455.1" font-size="19.44" text-anchor="middle" textLength="89.0" lengthAdjust="spacingAndGlyphs" fill="#111" stroke="#111" stroke-width="0.97" >CONTROLS</text>
<text x="90.2" y="481.3" font-size="19.44" text-anchor="middle" textLength="74.5" lengthAdjust="spacingAndGlyphs" fill="#111" stroke="#111" stroke-width="0.97" >MOST OF</text>
<text x="90.2" y="507.5" font-size="19.44" text-anchor="middle" textLength="31.5" lengthAdjust="spacingAndGlyphs" fill="#111" stroke="#111" stroke-width="0.97" >THE</text>
<text x="90.5" y="533.7" font-size="19.44" text-anchor="middle" textLength="60.0" lengthAdjust="spacingAndGlyphs" fill="#111" stroke="#111" stroke-width="0.97" >BODY'S</text>
<text x="92.2" y="559.9" font-size="19.44" text-anchor="middle" textLength="84.9" lengthAdjust="spacingAndGlyphs" fill="#111" stroke="#111" stroke-width="0.97" >FUNCTION</text>
<text x="233.6" y="430.2" font-size="19.44" text-anchor="middle" textLength="60.1" lengthAdjust="spacingAndGlyphs" fill="#111" stroke="#111" stroke-width="0.97" >NERVES</text>
<text x="233.7" y="456.2" font-size="19.44" text-anchor="middle" textLength="98.6" lengthAdjust="spacingAndGlyphs" fill="#111" stroke="#111" stroke-width="0.97" >CONNECTING</text>
<text x="233.8" y="482.2" font-size="19.44" text-anchor="middle" textLength="81.5" lengthAdjust="spacingAndGlyphs" fill="#111" stroke="#111" stroke-width="0.97" >THE BRAIN</text>
<text x="233.5" y="508.2" font-size="19.44" text-anchor="middle" textLength="32.0" lengthAdjust="spacingAndGlyphs" fill="#111" stroke="#111" stroke-width="0.97" >AND</text>
<text x="233.5" y="534.2" font-size="19.44" text-anchor="middle" textLength="95.0" lengthAdjust="spacingAndGlyphs" fill="#111" stroke="#111" stroke-width="0.97" >PERIPHERAL</text>
<text x="233.8" y="560.2" font-size="19.44" text-anchor="middle" textLength="71.5" lengthAdjust="spacingAndGlyphs" fill="#111" stroke="#111" stroke-width="0.97" >NERVOUS</text>
<text x="233.5" y="586.2" font-size="19.44" text-anchor="middle" textLength="61.0" lengthAdjust="spacingAndGlyphs" fill="#111" stroke="#111" stroke-width="0.97" >SYSTEM</text>
</g>
<rect x="612.4" y="144.0" width="170.5" height="92.6" rx="46.3" fill="#f5c5c2"/>
<g font-family="Liberation Sans, sans-serif" font-weight="700">
<text x="697.4" y="171.7" font-size="27.12" text-anchor="middle" textLength="140.4" lengthAdjust="spacingAndGlyphs" fill="#8e1b2c" stroke="#8e1b2c" stroke-width="1.36" >PERIPHERAL</text>
<text x="696.8" y="199.9" font-size="27.12" text-anchor="middle" textLength="104.6" lengthAdjust="spacingAndGlyphs" fill="#8e1b2c" stroke="#8e1b2c" stroke-width="1.36" >NERVOUS</text>
<text x="699.8" y="227.7" font-size="27.12" text-anchor="middle" textLength="89.3" lengthAdjust="spacingAndGlyphs" fill="#8e1b2c" stroke="#8e1b2c" stroke-width="1.36" >SYSTEM</text>
</g>
<path d="M696.9 236.0 L696.9 259.0" fill="none" stroke="#595959" stroke-width="5.3" stroke-linejoin="round" stroke-linecap="butt"/>
<path d="M623.2 298.0 L623.2 259.0 L767.0 259.0 L767.0 298.0" fill="none" stroke="#595959" stroke-width="5.3" stroke-linejoin="round" stroke-linecap="butt"/>
<path d="M608.2 283.5 L623.2 301.5 L638.2 283.5" fill="none" stroke="#595959" stroke-width="5.3" stroke-linecap="round" stroke-linejoin="round"/>
<path d="M752.0 283.5 L767.0 301.5 L782.0 283.5" fill="none" stroke="#595959" stroke-width="5.3" stroke-linecap="round" stroke-linejoin="round"/>
<rect x="574.3" y="305.5" width="102.8" height="336.0" rx="51.4" fill="#f5c5c2"/>
<rect x="715.5" y="305.2" width="102.1" height="336.4" rx="51.1" fill="#f5c5c2"/>
<g font-family="Liberation Sans, sans-serif" font-weight="700">
<text x="626.8" y="350.5" font-size="16.50" text-anchor="middle" textLength="84.5" lengthAdjust="spacingAndGlyphs" fill="#8e1b2c" stroke="#8e1b2c" stroke-width="0.82" >AUTONOMIC</text>
<text x="627.0" y="370.6" font-size="16.50" text-anchor="middle" textLength="65.0" lengthAdjust="spacingAndGlyphs" fill="#8e1b2c" stroke="#8e1b2c" stroke-width="0.82" >NERVOUS</text>
<text x="628.0" y="390.6" font-size="16.50" text-anchor="middle" textLength="56.0" lengthAdjust="spacingAndGlyphs" fill="#8e1b2c" stroke="#8e1b2c" stroke-width="0.82" >SYSTEM</text>
<text x="766.7" y="345.3" font-size="16.50" text-anchor="middle" textLength="63.4" lengthAdjust="spacingAndGlyphs" fill="#8e1b2c" stroke="#8e1b2c" stroke-width="0.82" >SOMATIC</text>
<text x="766.5" y="365.6" font-size="16.50" text-anchor="middle" textLength="65.0" lengthAdjust="spacingAndGlyphs" fill="#8e1b2c" stroke="#8e1b2c" stroke-width="0.82" >NERVOUS</text>
<text x="766.8" y="385.9" font-size="16.50" text-anchor="middle" textLength="54.5" lengthAdjust="spacingAndGlyphs" fill="#8e1b2c" stroke="#8e1b2c" stroke-width="0.82" >SYSTEM</text>
<text x="625.7" y="427.3" font-size="16.16" text-anchor="middle" textLength="73.6" lengthAdjust="spacingAndGlyphs" fill="#111" stroke="#111" stroke-width="0.81" >CONTROLS</text>
<text x="625.7" y="447.7" font-size="16.16" text-anchor="middle" textLength="95.7" lengthAdjust="spacingAndGlyphs" fill="#111" stroke="#111" stroke-width="0.81" >INVOLUNTARY</text>
<text x="625.7" y="468.2" font-size="16.16" text-anchor="middle" textLength="37.5" lengthAdjust="spacingAndGlyphs" fill="#111" stroke="#111" stroke-width="0.81" >BODY</text>
<text x="625.7" y="488.6" font-size="16.16" text-anchor="middle" textLength="79.0" lengthAdjust="spacingAndGlyphs" fill="#111" stroke="#111" stroke-width="0.81" >FUNCTIONS</text>
<text x="625.7" y="509.1" font-size="16.16" text-anchor="middle" textLength="60.5" lengthAdjust="spacingAndGlyphs" fill="#111" stroke="#111" stroke-width="0.81" >SUCH AS</text>
<text x="625.7" y="529.6" font-size="16.16" text-anchor="middle" textLength="45.0" lengthAdjust="spacingAndGlyphs" fill="#111" stroke="#111" stroke-width="0.81" >HEART</text>
<text x="625.7" y="550.0" font-size="16.16" text-anchor="middle" textLength="39.0" lengthAdjust="spacingAndGlyphs" fill="#111" stroke="#111" stroke-width="0.81" >RATE,</text>
<text x="625.7" y="570.5" font-size="16.16" text-anchor="middle" textLength="93.0" lengthAdjust="spacingAndGlyphs" fill="#111" stroke="#111" stroke-width="0.81" >RESPIRATION</text>
<text x="625.7" y="590.9" font-size="16.16" text-anchor="middle" textLength="28.5" lengthAdjust="spacingAndGlyphs" fill="#111" stroke="#111" stroke-width="0.81" >AND</text>
<text x="625.7" y="611.4" font-size="16.16" text-anchor="middle" textLength="73.5" lengthAdjust="spacingAndGlyphs" fill="#111" stroke="#111" stroke-width="0.81" >DIGESTION</text>
<text x="765.2" y="421.3" font-size="16.16" text-anchor="middle" textLength="72.0" lengthAdjust="spacingAndGlyphs" fill="#111" stroke="#111" stroke-width="0.81" >CONTROLS</text>
<text x="765.2" y="441.7" font-size="16.16" text-anchor="middle" textLength="80.0" lengthAdjust="spacingAndGlyphs" fill="#111" stroke="#111" stroke-width="0.81" >VOLUNTARY</text>
<text x="765.2" y="462.2" font-size="16.16" text-anchor="middle" textLength="99.0" lengthAdjust="spacingAndGlyphs" fill="#111" stroke="#111" stroke-width="0.81" >MUSCLES AND</text>
<text x="765.2" y="482.7" font-size="16.16" text-anchor="middle" textLength="60.0" lengthAdjust="spacingAndGlyphs" fill="#111" stroke="#111" stroke-width="0.81" >CARRIES</text>
<text x="765.2" y="503.1" font-size="16.16" text-anchor="middle" textLength="63.5" lengthAdjust="spacingAndGlyphs" fill="#111" stroke="#111" stroke-width="0.81" >SENSORY</text>
<text x="765.2" y="523.6" font-size="16.16" text-anchor="middle" textLength="96.0" lengthAdjust="spacingAndGlyphs" fill="#111" stroke="#111" stroke-width="0.81" >INFORMATION</text>
<text x="765.2" y="544.1" font-size="16.16" text-anchor="middle" textLength="89.5" lengthAdjust="spacingAndGlyphs" fill="#111" stroke="#111" stroke-width="0.81" >FROM SENSE</text>
<text x="765.2" y="564.5" font-size="16.16" text-anchor="middle" textLength="78.0" lengthAdjust="spacingAndGlyphs" fill="#111" stroke="#111" stroke-width="0.81" >ORGANS TO</text>
<text x="765.2" y="585.0" font-size="16.16" text-anchor="middle" textLength="62.0" lengthAdjust="spacingAndGlyphs" fill="#111" stroke="#111" stroke-width="0.81" >CENTRAL</text>
<text x="765.2" y="605.5" font-size="16.16" text-anchor="middle" textLength="64.5" lengthAdjust="spacingAndGlyphs" fill="#111" stroke="#111" stroke-width="0.81" >NERVOUS</text>
<text x="765.2" y="626.0" font-size="16.16" text-anchor="middle" textLength="54.7" lengthAdjust="spacingAndGlyphs" fill="#111" stroke="#111" stroke-width="0.81" >SYSTEM</text>
</g>
<path d="M629.2 640.0 L629.2 700.0" fill="none" stroke="#595959" stroke-width="5.3" stroke-linejoin="round" stroke-linecap="butt"/>
<path d="M614.2 686.5 L629.2 704.5 L644.2 686.5" fill="none" stroke="#595959" stroke-width="5.3" stroke-linecap="round" stroke-linejoin="round"/>
<path d="M631.8 665.0 L219.0 665.0 L219.0 707.0" fill="none" stroke="#595959" stroke-width="5.3" stroke-linejoin="round" stroke-linecap="butt"/>
<path d="M204.0 692.0 L219.0 710.0 L234.0 692.0" fill="none" stroke="#595959" stroke-width="5.3" stroke-linecap="round" stroke-linejoin="round"/>
<rect x="33.4" y="715.5" width="386.6" height="110.5" rx="55.2" fill="#f9e3b4"/>
<rect transform="rotate(-0.420 630.5 766.3)" x="437.5" y="711.0" width="386.0" height="110.5" rx="55.2" fill="#f9e3b4"/>
<g font-family="Liberation Sans, sans-serif" font-weight="700">
<text x="225.4" y="742.8" font-size="19.21" text-anchor="middle" textLength="276.1" lengthAdjust="spacingAndGlyphs" fill="#5b4312" stroke="#5b4312" stroke-width="0.96" >SYMPATHETIC NERVOUS SYSTEM</text>
<text x="225.9" y="767.8" font-size="15.82" text-anchor="middle" textLength="288.4" lengthAdjust="spacingAndGlyphs" fill="#111" stroke="#111" stroke-width="0.79" >AROUSES THE BODY TO EXPEND ENERGY.</text>
<text x="224.9" y="789.9" font-size="15.82" text-anchor="middle" textLength="225.9" lengthAdjust="spacingAndGlyphs" fill="#111" stroke="#111" stroke-width="0.79" >SPEED UP THE HEART RATE AND</text>
<text x="227.4" y="811.9" font-size="15.82" text-anchor="middle" textLength="273.5" lengthAdjust="spacingAndGlyphs" fill="#111" stroke="#111" stroke-width="0.79" >RESPIRATION IN RESPONSE TO THREAT</text>
<text x="630.6" y="738.1" font-size="19.21" text-anchor="middle" textLength="320.4" lengthAdjust="spacingAndGlyphs" fill="#5b4312" stroke="#5b4312" stroke-width="0.96" >PARASYMPATHETIC NERVOUS SYSTEM</text>
<text x="630.1" y="763.9" font-size="15.82" text-anchor="middle" textLength="337.9" lengthAdjust="spacingAndGlyphs" fill="#111" stroke="#111" stroke-width="0.79" >CALMS THE BODY AND HELPS TO CONSERVE AND</text>
<text x="629.9" y="786.1" font-size="15.82" text-anchor="middle" textLength="350.7" lengthAdjust="spacingAndGlyphs" fill="#111" stroke="#111" stroke-width="0.79" >MAINTAIN ENERGY.REDUCES THE HEART RATE AND</text>
<text x="631.3" y="808.2" font-size="15.82" text-anchor="middle" textLength="159.1" lengthAdjust="spacingAndGlyphs" fill="#111" stroke="#111" stroke-width="0.79" >PROMOTES DIGESTION.</text>
</g>
<rect transform="rotate(-0.665 427.3 897.5)" x="30.3" y="838.8" width="794.0" height="117.5" rx="58.8" fill="#f9d6d1"/>
<text transform="translate(92.66 864.84) rotate(-0.450)" x="0" y="7.52" font-size="21.00" textLength="669.7" lengthAdjust="spacingAndGlyphs" fill="#a51e2f" stroke="#a51e2f" stroke-width="0.84" font-family="Liberation Sans, sans-serif" font-weight="700">SYMPATHETIC NERVOUS SYSTEM &amp; THE FLIGHT OR FIGHT RESPONSE</text>
<text transform="translate(53.45 901.53) rotate(-0.411)" x="0" y="8.70" font-size="24.30" textLength="746.3" lengthAdjust="spacingAndGlyphs" fill="#111" stroke="#111" stroke-width="0.97" font-family="Liberation Sans, sans-serif" font-weight="700">THE FLIGHT OR FIGHT RESPONSE IS ACTIVATED IN RESPONSE TO ACUTE</text>
<text transform="translate(130.67 931.30) rotate(-0.369)" x="0" y="8.70" font-size="24.30" textLength="600.3" lengthAdjust="spacingAndGlyphs" fill="#111" stroke="#111" stroke-width="0.97" font-family="Liberation Sans, sans-serif" font-weight="700">THREAT, PROVIDING THE BODY WITH A BURST OF ENERGY</text>
</svg></div>
<svg class="abs" width="1500" height="1310" viewBox="0 0 1500 1310">
<g stroke-linejoin="round" stroke-linecap="round">
<polygon points="773.6,404.8 793.6,398.2 793.4,572 773.8,574.6" fill="#ee6a7b" stroke="#d95a6c" stroke-width="1"/>
<path d="M758.8 336.5 C761.0 336.8 764.4 339.9 766.7 342.4 C769.0 345.0 772.2 350.8 774.6 354.3 C777.0 357.9 781.6 363.3 783.6 367.2 C785.6 371.2 787.1 377.8 788.5 382.1 C790.0 386.4 795.8 394.3 793.7 397.6 C791.5 400.9 777.2 405.7 773.4 404.9 C769.7 404.1 769.4 395.4 767.7 392.0 C765.9 388.6 762.4 384.0 761.1 381.1 C759.9 378.3 760.2 374.0 758.8 372.2 C757.3 370.3 752.7 370.2 750.8 368.2 C749.0 366.2 746.9 360.8 745.9 358.3 C744.8 355.7 742.6 352.9 743.3 350.4 C744.0 347.8 748.6 342.4 750.8 340.4 C753.0 338.5 756.5 336.2 758.8 336.5Z" fill="#f39aa3" stroke="#41364f" stroke-width="2"/>
<path d="M758.8 354.3 C760.1 356.6 764.4 363.3 766.7 368.2 C769.0 373.2 770.7 379.1 772.7 384.1 C774.6 389.1 777.6 395.7 778.6 398.0" fill="none" stroke="#fbd0d4" stroke-width="2.5"/>
<path d="M835.2 312.3 C838.6 312.3 837.3 312.6 839.1 315.6 C841.0 318.7 845.5 324.7 846.1 330.5 C846.6 336.3 845.5 344.4 842.5 350.4 C839.5 356.3 833.9 362.3 828.2 366.2 C822.5 370.2 814.7 373.1 808.4 374.2 C802.1 375.2 794.6 373.7 790.5 372.6 C786.4 371.4 786.2 370.3 783.6 367.2 C780.9 364.2 777.4 358.5 774.6 354.3 C771.8 350.2 769.3 345.4 766.7 342.4 C764.1 339.4 757.4 338.4 758.8 336.5 C760.1 334.5 770.3 332.7 774.6 330.9 C778.9 329.1 780.6 327.4 784.6 325.6 C788.5 323.7 792.8 321.3 798.5 319.6 C804.1 317.9 812.2 316.9 818.3 315.6 C824.4 314.4 831.7 312.3 835.2 312.3Z" fill="#f0a3a1" stroke="#41364f" stroke-width="2"/>
<path d="M778.6 350.4 C781.9 348.4 791.2 341.8 798.5 338.5 C805.7 335.1 815.3 332.8 822.3 330.5 C829.2 328.2 837.2 325.6 840.1 324.6" fill="none" stroke="#8f3f52" stroke-width="1.1"/>
<path d="M782.6 352.3 C785.9 350.8 795.5 345.6 802.4 342.8 C809.4 340.0 818.1 337.7 824.3 335.7 C830.4 333.6 836.8 331.4 839.3 330.5" fill="none" stroke="#8f3f52" stroke-width="1.1"/>
<path d="M786.5 354.3 C789.9 353.1 799.8 349.4 806.4 347.2 C813.0 344.9 820.9 342.6 826.2 340.8 C831.6 339.0 836.5 337.2 838.5 336.5" fill="none" stroke="#8f3f52" stroke-width="1.1"/>
<path d="M790.5 356.3 C793.8 355.5 804.1 353.3 810.4 351.5 C816.6 349.8 823.7 347.5 828.2 346.0 C832.8 344.5 836.2 343.0 837.7 342.4" fill="none" stroke="#8f3f52" stroke-width="1.1"/>
<path d="M794.5 358.3 C797.8 357.9 808.4 357.1 814.3 355.9 C820.3 354.7 826.4 352.4 830.2 351.2 C834.0 349.9 835.8 348.8 837.0 348.4" fill="none" stroke="#8f3f52" stroke-width="1.1"/>
<path d="M798.5 360.3 C801.8 360.3 812.7 360.9 818.3 360.3 C823.9 359.6 829.2 357.3 832.2 356.3 C835.2 355.3 835.5 354.7 836.2 354.3" fill="none" stroke="#8f3f52" stroke-width="1.1"/>
<path d="M802.4 362.3 C805.7 362.7 817.0 364.8 822.3 364.6 C827.6 364.5 832.0 362.2 834.2 361.5 C836.4 360.7 835.2 360.5 835.4 360.3" fill="none" stroke="#8f3f52" stroke-width="1.1"/>
<path d="M750.8 152.9 C756.8 152.6 764.1 154.1 770.7 155.9 C777.3 157.7 785.7 160.9 790.5 163.8 C795.3 166.7 795.1 171.7 799.4 173.3 C803.7 175.0 811.2 171.4 816.3 173.7 C821.4 176.1 827.1 182.8 830.2 187.6 C833.3 192.4 832.2 197.9 835.2 202.5 C838.1 207.1 844.8 210.9 848.1 215.4 C851.4 219.9 853.3 223.3 855.0 229.3 C856.7 235.3 857.5 243.5 858.4 251.1 C859.3 258.7 860.8 267.7 860.4 274.9 C860.0 282.2 858.4 289.2 856.0 294.8 C853.6 300.4 849.6 305.8 846.1 308.7 C842.6 311.6 839.8 311.1 835.2 312.3 C830.5 313.4 824.4 314.4 818.3 315.6 C812.2 316.9 804.1 317.9 798.5 319.6 C792.8 321.3 788.5 323.7 784.6 325.6 C780.6 327.4 778.9 329.1 774.6 330.9 C770.3 332.7 762.7 334.9 758.8 336.5 C754.8 338.1 753.4 338.1 750.8 340.4 C748.2 342.8 745.9 347.1 743.3 350.4 C740.6 353.7 739.0 357.3 734.9 360.3 C730.9 363.3 725.0 366.6 719.1 368.2 C713.1 369.9 705.2 371.2 699.2 370.2 C693.3 369.2 687.2 366.2 683.3 362.3 C679.5 358.3 677.5 351.5 676.4 346.4 C675.3 341.3 679.8 334.5 677.0 331.5 C674.2 328.5 665.8 330.0 659.5 328.5 C653.3 327.0 644.7 324.9 639.7 322.6 C634.7 320.3 631.8 317.6 629.8 314.6 C627.8 311.7 629.6 308.0 627.8 304.7 C626.0 301.4 620.9 299.1 618.9 294.8 C616.8 290.5 615.3 284.2 615.5 278.9 C615.6 273.6 618.1 267.7 619.8 263.0 C621.6 258.4 623.8 256.1 625.8 251.1 C627.8 246.2 629.1 238.6 631.8 233.3 C634.4 228.0 638.0 222.2 641.7 219.4 C645.3 216.6 650.9 218.6 653.6 216.4 C656.3 214.3 656.0 210.0 657.9 206.5 C659.9 203.0 661.9 199.0 665.5 195.6 C669.1 192.1 674.8 188.3 679.4 185.6 C684.0 183.0 689.3 182.3 693.3 179.7 C697.2 177.0 698.9 172.5 703.2 169.8 C707.5 167.1 713.8 165.4 719.1 163.4 C724.4 161.4 729.7 159.6 734.9 157.9 C740.2 156.1 744.9 153.2 750.8 152.9Z" fill="#c9a6da" stroke="#41364f" stroke-width="2.4"/>
<path d="M653.6 216.4 C650.9 214.8 645.3 216.6 641.7 219.4 C638.0 222.2 634.4 228.0 631.8 233.3 C629.1 238.6 627.8 246.2 625.8 251.1 C623.8 256.1 621.6 258.4 619.8 263.0 C618.1 267.7 615.6 273.6 615.5 278.9 C615.3 284.2 616.8 290.5 618.9 294.8 C620.9 299.1 626.0 301.4 627.8 304.7 C629.6 308.0 627.8 311.7 629.8 314.6 C631.8 317.6 634.7 320.3 639.7 322.6 C644.7 324.9 653.3 327.0 659.5 328.5 C665.8 330.0 673.0 333.2 677.0 331.5 C681.0 329.9 680.6 322.4 683.3 318.6 C686.1 314.8 690.0 312.0 693.3 308.7 C696.6 305.4 701.9 302.4 703.2 298.8 C704.5 295.1 702.9 290.8 701.2 286.9 C699.6 282.9 695.9 278.3 693.3 274.9 C690.6 271.6 687.6 269.7 685.3 267.0 C683.0 264.4 682.0 261.1 679.4 259.1 C676.7 257.1 672.1 257.7 669.5 255.1 C666.8 252.5 665.5 247.5 663.5 243.2 C661.5 238.9 659.2 233.8 657.6 229.3 C655.9 224.8 656.2 218.1 653.6 216.4Z" fill="#f5a4be" stroke="#41364f" stroke-width="1.1"/>
<path d="M655.6 217.4 C656.9 214.5 662.2 211.9 665.5 211.8 C668.7 211.8 672.0 216.9 675.0 217.0 C678.0 217.1 680.3 212.0 683.3 212.4 C686.4 212.9 689.3 219.1 693.3 219.8 C697.2 220.4 703.8 215.1 707.2 216.4 C710.5 217.7 712.9 222.9 713.5 227.3 C714.2 231.8 710.2 238.2 711.1 243.2 C712.1 248.2 717.0 251.8 719.1 257.1 C721.1 262.4 722.8 269.7 723.4 274.9 C724.1 280.2 725.8 285.0 723.0 288.8 C720.3 292.7 710.8 298.5 707.2 298.2 C703.5 297.8 703.5 290.7 701.2 286.9 C698.9 283.0 695.9 278.3 693.3 274.9 C690.6 271.6 687.6 269.7 685.3 267.0 C683.0 264.4 682.0 261.1 679.4 259.1 C676.7 257.1 672.1 257.7 669.5 255.1 C666.8 252.5 665.5 247.5 663.5 243.2 C661.5 238.9 658.9 233.6 657.6 229.3 C656.2 225.0 654.2 220.3 655.6 217.4Z" fill="#f6d55d" stroke="#41364f" stroke-width="1.1"/>
<path d="M677.4 197.6 C679.5 194.9 685.0 192.9 689.3 191.6 C693.6 190.3 698.6 190.6 703.2 189.6 C707.8 188.6 711.8 187.0 717.1 185.6 C722.4 184.3 730.0 181.0 734.9 181.7 C739.9 182.3 744.5 185.6 746.9 189.6 C749.2 193.6 749.2 199.9 749.2 205.5 C749.2 211.1 748.6 217.7 746.9 223.3 C745.1 229.0 740.6 233.9 738.9 239.2 C737.3 244.5 736.3 249.8 736.9 255.1 C737.6 260.4 741.2 266.3 742.9 271.0 C744.5 275.7 750.2 280.2 746.9 283.3 C743.5 286.3 726.9 290.6 723.0 289.2 C719.1 287.8 724.1 280.3 723.4 274.9 C722.8 269.6 721.1 262.4 719.1 257.1 C717.0 251.8 712.1 248.2 711.1 243.2 C710.2 238.2 714.2 231.8 713.5 227.3 C712.9 222.9 710.5 217.7 707.2 216.4 C703.8 215.1 697.2 220.4 693.3 219.8 C689.3 219.1 686.2 214.5 683.3 212.4 C680.5 210.4 677.4 210.0 676.4 207.5 C675.4 205.0 675.2 200.2 677.4 197.6Z" fill="#90d4d0" stroke="#41364f" stroke-width="1.1"/>
<path d="M770.7 217.4 C774.0 215.7 779.3 216.7 782.6 219.4 C785.9 222.0 787.2 229.3 790.5 233.3 C793.8 237.2 799.4 238.9 802.4 243.2 C805.4 247.5 807.7 253.1 808.4 259.1 C809.0 265.0 808.3 272.9 806.4 278.9 C804.5 284.9 799.5 295.2 796.9 295.2 C794.2 295.2 793.6 282.3 790.5 278.9 C787.5 275.5 781.9 276.3 778.6 274.9 C775.3 273.6 774.0 270.9 770.7 271.0 C767.4 271.0 760.7 276.7 758.8 275.3 C756.8 274.0 758.1 267.7 758.8 263.0 C759.4 258.3 762.1 252.8 762.7 247.2 C763.4 241.5 761.4 234.3 762.7 229.3 C764.1 224.3 767.4 219.1 770.7 217.4Z" fill="#93d5d3" stroke="#41364f" stroke-width="1.1"/>
<path d="M799.4 173.3 C802.8 170.7 811.2 171.4 816.3 173.7 C821.4 176.1 827.1 182.8 830.2 187.6 C833.3 192.4 833.1 195.9 835.2 202.5 C837.2 209.1 842.7 221.9 842.5 227.3 C842.3 232.8 835.2 231.3 834.2 235.3 C833.1 239.2 836.8 245.8 836.2 251.1 C835.5 256.4 832.5 261.7 830.2 267.0 C828.0 272.3 826.0 277.9 822.7 282.9 C819.4 287.9 814.7 295.1 810.4 297.2 C806.1 299.2 797.5 298.2 796.9 295.2 C796.2 292.1 804.5 284.9 806.4 278.9 C808.3 272.9 809.0 265.0 808.4 259.1 C807.7 253.1 805.4 247.5 802.4 243.2 C799.4 238.9 793.8 237.2 790.5 233.3 C787.2 229.3 783.6 224.0 782.6 219.4 C781.6 214.8 782.2 210.5 784.6 205.5 C786.9 200.5 794.0 195.0 796.5 189.6 C798.9 184.3 796.1 176.0 799.4 173.3Z" fill="#fbe1af" stroke="#41364f" stroke-width="1.1"/>
<path d="M842.5 227.3 C844.8 224.0 846.0 215.1 848.1 215.4 C850.1 215.7 853.3 223.3 855.0 229.3 C856.7 235.3 857.5 243.5 858.4 251.1 C859.3 258.7 860.8 267.7 860.4 274.9 C860.0 282.2 858.4 289.2 856.0 294.8 C853.6 300.4 849.6 305.8 846.1 308.7 C842.6 311.6 836.8 314.6 835.2 312.3 C833.6 309.9 837.4 299.0 836.6 294.8 C835.7 290.6 832.5 289.2 830.2 287.3 C827.9 285.3 822.7 286.3 822.7 282.9 C822.7 279.5 828.0 272.3 830.2 267.0 C832.5 261.7 835.5 256.4 836.2 251.1 C836.8 245.8 833.1 239.2 834.2 235.3 C835.2 231.3 840.2 230.6 842.5 227.3Z" fill="#f4b1ad" stroke="#41364f" stroke-width="1.1"/>
<path d="M683.3 318.6 C686.1 314.8 689.3 312.1 693.3 308.7 C697.2 305.3 702.2 301.4 707.2 298.2 C712.1 294.9 716.4 291.7 723.0 289.2 C729.7 286.8 740.9 285.6 746.9 283.3 C752.8 281.0 754.8 277.4 758.8 275.3 C762.7 273.3 767.4 271.0 770.7 271.0 C774.0 270.9 775.3 273.6 778.6 274.9 C781.9 276.3 787.5 275.5 790.5 278.9 C793.6 282.3 797.5 291.8 796.9 295.2 C796.2 298.6 789.6 297.2 786.5 299.2 C783.5 301.1 778.9 302.7 778.6 307.1 C778.3 311.5 785.2 321.6 784.6 325.6 C783.9 329.5 778.9 329.1 774.6 330.9 C770.3 332.7 762.7 334.9 758.8 336.5 C754.8 338.1 753.4 338.1 750.8 340.4 C748.2 342.8 745.9 347.1 743.3 350.4 C740.6 353.7 739.0 357.3 734.9 360.3 C730.9 363.3 725.0 366.6 719.1 368.2 C713.1 369.9 705.2 371.2 699.2 370.2 C693.3 369.2 687.2 366.2 683.3 362.3 C679.5 358.3 677.5 351.5 676.4 346.4 C675.3 341.3 675.8 336.1 677.0 331.5 C678.2 326.9 680.6 322.4 683.3 318.6Z" fill="#97d6dc" stroke="#41364f" stroke-width="1.1"/>
<path d="M685.3 338.5 C688.3 333.2 698.9 326.5 703.2 326.5 C707.5 326.5 705.2 337.8 711.1 338.5 C717.1 339.1 729.0 333.8 738.9 330.5 C748.8 327.2 763.9 322.2 770.7 318.6 C777.4 315.0 777.4 307.7 779.6 308.7 C781.8 309.7 787.6 320.1 784.2 324.6 C780.7 329.0 765.6 331.3 758.8 335.5 C751.9 339.6 749.9 344.2 743.3 349.4 C736.7 354.5 726.4 363.1 719.1 366.2 C711.7 369.4 704.8 369.5 699.2 368.2 C693.6 366.9 687.6 363.3 685.3 358.3 C683.0 353.3 682.4 343.7 685.3 338.5Z" fill="#a6dcec" stroke="none"/>
<path d="M822.7 282.9 C826.0 281.2 827.9 285.3 830.2 287.3 C832.5 289.2 835.7 290.6 836.6 294.8 C837.4 299.0 838.2 308.8 835.2 312.3 C832.1 315.7 824.4 314.4 818.3 315.6 C812.2 316.9 804.1 317.9 798.5 319.6 C792.8 321.3 787.9 327.6 784.6 325.6 C781.3 323.5 778.3 311.5 778.6 307.1 C778.9 302.7 783.2 300.5 786.5 299.2 C789.9 297.8 794.5 299.1 798.5 298.8 C802.4 298.4 806.3 299.8 810.4 297.2 C814.4 294.5 819.4 284.5 822.7 282.9Z" fill="#c8a6da" stroke="#41364f" stroke-width="1.1"/>
<path d="M750.8 152.9 C756.8 152.6 764.1 154.1 770.7 155.9 C777.3 157.7 785.7 160.9 790.5 163.8 C795.3 166.7 795.1 171.7 799.4 173.3 C803.7 175.0 811.2 171.4 816.3 173.7 C821.4 176.1 827.1 182.8 830.2 187.6 C833.3 192.4 832.2 197.9 835.2 202.5 C838.1 207.1 844.8 210.9 848.1 215.4 C851.4 219.9 853.3 223.3 855.0 229.3 C856.7 235.3 857.5 243.5 858.4 251.1 C859.3 258.7 860.8 267.7 860.4 274.9 C860.0 282.2 858.4 289.2 856.0 294.8 C853.6 300.4 849.6 305.8 846.1 308.7 C842.6 311.6 839.8 311.1 835.2 312.3 C830.5 313.4 824.4 314.4 818.3 315.6 C812.2 316.9 804.1 317.9 798.5 319.6 C792.8 321.3 788.5 323.7 784.6 325.6 C780.6 327.4 778.9 329.1 774.6 330.9 C770.3 332.7 762.7 334.9 758.8 336.5 C754.8 338.1 753.4 338.1 750.8 340.4 C748.2 342.8 745.9 347.1 743.3 350.4 C740.6 353.7 739.0 357.3 734.9 360.3 C730.9 363.3 725.0 366.6 719.1 368.2 C713.1 369.9 705.2 371.2 699.2 370.2 C693.3 369.2 687.2 366.2 683.3 362.3 C679.5 358.3 677.5 351.5 676.4 346.4 C675.3 341.3 679.8 334.5 677.0 331.5 C674.2 328.5 665.8 330.0 659.5 328.5 C653.3 327.0 644.7 324.9 639.7 322.6 C634.7 320.3 631.8 317.6 629.8 314.6 C627.8 311.7 629.6 308.0 627.8 304.7 C626.0 301.4 620.9 299.1 618.9 294.8 C616.8 290.5 615.3 284.2 615.5 278.9 C615.6 273.6 618.1 267.7 619.8 263.0 C621.6 258.4 623.8 256.1 625.8 251.1 C627.8 246.2 629.1 238.6 631.8 233.3 C634.4 228.0 638.0 222.2 641.7 219.4 C645.3 216.6 650.9 218.6 653.6 216.4 C656.3 214.3 656.0 210.0 657.9 206.5 C659.9 203.0 661.9 199.0 665.5 195.6 C669.1 192.1 674.8 188.3 679.4 185.6 C684.0 183.0 689.3 182.3 693.3 179.7 C697.2 177.0 698.9 172.5 703.2 169.8 C707.5 167.1 713.8 165.4 719.1 163.4 C724.4 161.4 729.7 159.6 734.9 157.9 C740.2 156.1 744.9 153.2 750.8 152.9Z" fill="none" stroke="#41364f" stroke-width="2.4"/>
<path d="M639.7 251.1 C641.7 252.5 648.3 255.1 651.6 259.1 C654.9 263.0 655.6 271.6 659.5 274.9 C663.5 278.3 672.8 278.3 675.4 278.9" fill="none" stroke="#41364f" stroke-width="1.1"/>
<path d="M629.8 278.9 C632.1 279.6 640.0 279.9 643.7 282.9 C647.3 285.9 647.6 294.1 651.6 296.8 C655.6 299.4 664.8 298.4 667.5 298.8" fill="none" stroke="#41364f" stroke-width="1.1"/>
<path d="M665.5 290.8 C666.5 288.8 668.5 279.6 671.4 278.9 C674.4 278.3 681.4 285.5 683.3 286.9" fill="none" stroke="#41364f" stroke-width="1.1"/>
<path d="M750.8 169.8 C749.5 171.4 742.9 176.1 742.9 179.7 C742.9 183.3 749.2 187.3 750.8 191.6 C752.5 195.9 752.5 203.2 752.8 205.5" fill="none" stroke="#41364f" stroke-width="1.1"/>
<path d="M758.8 189.6 C759.4 192.3 763.1 200.5 762.7 205.5 C762.4 210.5 757.8 217.1 756.8 219.4" fill="none" stroke="#41364f" stroke-width="1.1"/>
<path d="M727.0 211.4 C728.3 213.4 734.3 218.7 734.9 223.3 C735.6 228.0 731.6 236.6 731.0 239.2" fill="none" stroke="#41364f" stroke-width="1.1"/>
<path d="M798.5 219.4 C800.4 220.7 807.1 227.3 810.4 227.3 C813.7 227.3 816.0 223.0 818.3 219.4 C820.6 215.7 823.3 207.8 824.3 205.5" fill="none" stroke="#41364f" stroke-width="1.1"/>
<path d="M703.2 338.5 C704.5 339.8 710.5 343.1 711.1 346.4 C711.8 349.7 707.8 356.3 707.2 358.3" fill="none" stroke="#41364f" stroke-width="1.1"/>
<path d="M689.3 334.5 C691.0 335.5 696.6 340.1 699.2 340.4 C701.9 340.8 704.2 337.1 705.2 336.5" fill="none" stroke="#41364f" stroke-width="1.1"/>
<path d="M738.9 298.8 C740.9 300.4 745.5 308.0 750.8 308.7 C756.1 309.3 767.4 303.7 770.7 302.7" fill="none" stroke="#41364f" stroke-width="1.1"/>
<path d="M844.1 251.1 C845.1 253.8 849.7 261.7 850.0 267.0 C850.4 272.3 846.7 280.2 846.1 282.9" fill="none" stroke="#41364f" stroke-width="1.1"/>
<path d="M665.5 212.4 C666.0 214.3 666.8 220.9 668.5 223.3 C670.1 225.8 673.9 228.0 675.4 227.3 C676.9 226.7 677.1 220.7 677.4 219.4" fill="none" stroke="#41364f" stroke-width="1.1"/>
<path d="M683.3 213.4 C683.7 215.4 683.7 222.0 685.3 225.3 C687.0 228.6 691.0 233.6 693.3 233.3 C695.6 232.9 696.9 226.0 699.2 223.3 C701.5 220.7 705.8 218.4 707.2 217.4" fill="none" stroke="#41364f" stroke-width="1.1"/>
<path d="M693.3 233.3 C694.9 236.2 700.2 246.2 703.2 251.1 C706.2 256.1 709.8 261.1 711.1 263.0" fill="none" stroke="#41364f" stroke-width="1.1"/>
<path d="M810.4 191.6 C811.7 192.9 815.3 198.5 818.3 199.5 C821.3 200.5 826.6 197.9 828.2 197.6" fill="none" stroke="#41364f" stroke-width="1.1"/>
<path d="M798.5 267.0 C799.8 265.7 805.1 260.4 806.4 259.1" fill="none" stroke="#41364f" stroke-width="1.1"/>
<path d="M774.6 235.3 C776.0 236.6 781.9 239.2 782.6 243.2 C783.2 247.2 779.3 256.4 778.6 259.1" fill="none" stroke="#41364f" stroke-width="1.1"/>
<path d="M719.1 298.8 C721.1 299.8 727.7 304.7 731.0 304.7 C734.3 304.7 737.6 299.8 738.9 298.8" fill="none" stroke="#41364f" stroke-width="1.1"/>
<path d="M762.7 282.9 C764.1 284.2 766.7 290.2 770.7 290.8 C774.6 291.5 783.9 287.5 786.5 286.9" fill="none" stroke="#41364f" stroke-width="1.1"/>
<path d="M647.6 235.3 C649.6 234.9 656.6 231.9 659.5 233.3 C662.5 234.6 664.5 241.5 665.5 243.2" fill="none" stroke="#41364f" stroke-width="1.1"/>
<path d="M635.7 298.8 C637.7 300.4 643.0 306.7 647.6 308.7 C652.3 310.7 660.9 310.3 663.5 310.7" fill="none" stroke="#41364f" stroke-width="1.1"/>
<path d="M838.1 229.3 C839.3 230.0 843.4 231.0 845.1 233.3 C846.7 235.6 847.6 241.5 848.1 243.2" fill="none" stroke="#41364f" stroke-width="1.1"/>
<path d="M834.2 278.9 C835.8 280.9 841.1 288.8 844.1 290.8 C847.1 292.8 850.7 290.8 852.0 290.8" fill="none" stroke="#41364f" stroke-width="1.1"/>
<path d="M635.7 263.0 C636.7 262.0 640.0 257.4 641.7 257.1 C643.3 256.8 645.0 260.4 645.6 261.1" fill="none" stroke="#ffffff" stroke-width="2" opacity="0.85"/>
<path d="M659.5 286.9 C660.9 286.2 665.2 281.6 667.5 282.9 C669.8 284.2 672.4 292.8 673.4 294.8" fill="none" stroke="#ffffff" stroke-width="2" opacity="0.85"/>
<path d="M719.1 199.5 C720.4 198.9 725.7 196.2 727.0 195.6" fill="none" stroke="#ffffff" stroke-width="2" opacity="0.85"/>
<path d="M758.8 189.6 C759.4 189.0 762.1 186.3 762.7 185.6" fill="none" stroke="#ffffff" stroke-width="2" opacity="0.85"/>
<path d="M693.3 330.5 C694.9 329.5 701.5 325.6 703.2 324.6" fill="none" stroke="#ffffff" stroke-width="2" opacity="0.85"/>
<path d="M770.7 235.3 C771.3 234.6 774.0 231.9 774.6 231.3" fill="none" stroke="#ffffff" stroke-width="2" opacity="0.85"/>
<path d="M711.1 338.5 C712.5 339.8 717.7 345.1 719.1 346.4" fill="none" stroke="#ffffff" stroke-width="2" opacity="0.85"/>
<path d="M683.3 191.6 C685.0 190.9 691.6 188.3 693.3 187.6" fill="none" stroke="#ffffff" stroke-width="2" opacity="0.85"/>
<path d="M738.9 163.8 C740.9 163.2 748.8 160.5 750.8 159.8" fill="none" stroke="#ffffff" stroke-width="2" opacity="0.85"/>
<path d="M774.6 171.8 C776.3 172.4 782.9 175.1 784.6 175.7" fill="none" stroke="#ffffff" stroke-width="2" opacity="0.85"/>
<path d="M806.4 179.7 C807.7 180.0 813.0 181.3 814.3 181.7" fill="none" stroke="#ffffff" stroke-width="2" opacity="0.85"/>
<path d="M798.5 199.5 C799.8 200.5 805.1 204.5 806.4 205.5" fill="none" stroke="#ffffff" stroke-width="2" opacity="0.85"/>
<path d="M711.1 223.3 C711.8 225.0 714.4 231.6 715.1 233.3" fill="none" stroke="#ffffff" stroke-width="2" opacity="0.85"/>
<path d="M647.6 247.2 C648.6 246.5 652.6 243.9 653.6 243.2" fill="none" stroke="#ffffff" stroke-width="2" opacity="0.85"/>
<path d="M723.0 302.7 C725.0 301.7 733.0 297.8 734.9 296.8" fill="none" stroke="#ffffff" stroke-width="2" opacity="0.85"/>
<path d="M750.8 294.8 C753.1 294.1 762.4 291.5 764.7 290.8" fill="none" stroke="#ffffff" stroke-width="2" opacity="0.85"/>
<path d="M784.6 282.9 C785.2 284.2 787.9 289.5 788.5 290.8" fill="none" stroke="#ffffff" stroke-width="2" opacity="0.85"/>
<path d="M824.3 290.8 C825.2 292.1 829.2 297.4 830.2 298.8" fill="none" stroke="#ffffff" stroke-width="2" opacity="0.85"/>
<path d="M844.1 235.3 C844.8 237.2 847.4 245.2 848.1 247.2" fill="none" stroke="#ffffff" stroke-width="2" opacity="0.85"/>
<path d="M665.5 219.4 C666.2 218.7 668.8 216.1 669.5 215.4" fill="none" stroke="#ffffff" stroke-width="2" opacity="0.85"/>
<path d="M689.3 223.3 C690.0 222.7 692.6 220.0 693.3 219.4" fill="none" stroke="#ffffff" stroke-width="2" opacity="0.85"/>
<path d="M727.0 263.0 C727.3 265.0 728.7 273.0 729.0 274.9" fill="none" stroke="#ffffff" stroke-width="2" opacity="0.85"/>
<path d="M766.7 199.5 C767.0 201.5 768.4 209.5 768.7 211.4" fill="none" stroke="#ffffff" stroke-width="2" opacity="0.85"/>
</g>
<defs><g id="neu" fill="none" stroke="#4c4c4c" stroke-width="1" stroke-linecap="round">
<path d="M0 0 L-6 -9 L-9 -14 M-6 -9 L-2 -13 M-9 -14 L-12 -15 M-9 -14 L-8 -18 M0 0 L-10 -2 L-16 -1 M-10 -2 L-13 -6 M-16 -1 L-19 2 M-16 -1 L-19 -4 M0 0 L-7 8 L-10 13 M-7 8 L-12 9 M-10 13 L-13 15 M-10 13 L-8 17 M0 0 L4 -10 L8 -15 M4 -10 L1 -15 M8 -15 L11 -16 M0 0 L5 8 L8 13 M5 8 L9 7 M8 13 L6 16"/>
<path d="M-5 -4 L-1 -6 L3 -5 L6 -1 L4 4 L0 6 L-5 4 L-7 0 Z" fill="#fff"/>
<path d="M-2 0 L1 -0.6" stroke="#222" stroke-width="1.6"/>
<path d="M6 -1 L72 -5"/>
<ellipse cx="18" cy="-1.8" rx="8" ry="1.8" transform="rotate(-3.5 18 -1.8)" fill="#ddd"/>
<ellipse cx="36" cy="-2.9" rx="8" ry="1.8" transform="rotate(-3.5 36 -2.9)" fill="#ddd"/>
<ellipse cx="54" cy="-4" rx="8" ry="1.8" transform="rotate(-3.5 54 -4)" fill="#ddd"/>
<path d="M72 -5 L76 -12 L77 -22 M76 -12 L81 -14 M72 -5 L80 -3 L85 2 M80 -3 L83 -8 M72 -5 L77 2 L78 9 M77 2 L81 8"/>
<circle cx="77" cy="-22" r="0.9" fill="#4c4c4c"/><circle cx="85" cy="2" r="0.9" fill="#4c4c4c"/><circle cx="78" cy="9" r="0.9" fill="#4c4c4c"/><circle cx="81" cy="8" r="0.9" fill="#4c4c4c"/>
</g></defs>
<use href="#neu" x="679" y="437.5"/>
<use href="#neu" x="684" y="493"/>
<use href="#neu" x="679" y="545.6"/>
<use href="#neu" transform="translate(884.5 425) scale(-1 1) rotate(7)"/>
<use href="#neu" transform="translate(880 478.5) scale(-1 1) rotate(7)"/>
<use href="#neu" transform="translate(884.5 530) scale(-1 1) rotate(7)"/>
<defs>
<linearGradient id="eL" x1="0" y1="0" x2="1" y2="0">
<stop offset="0" stop-color="#85858d"/><stop offset="0.16" stop-color="#8d8e97"/><stop offset="0.2" stop-color="#cfd9ea"/><stop offset="0.28" stop-color="#f4f7fb"/><stop offset="0.36" stop-color="#dfe6f2"/><stop offset="0.42" stop-color="#f5f7fb"/>
<stop offset="0.48" stop-color="#aebbd8"/><stop offset="0.52" stop-color="#6c85b8"/><stop offset="0.6" stop-color="#5f79b0"/><stop offset="0.68" stop-color="#7089ba"/><stop offset="0.74" stop-color="#cdd3e0"/><stop offset="0.85" stop-color="#e4e4e9"/><stop offset="1" stop-color="#eeeef1"/>
</linearGradient>
<linearGradient id="eLb" x1="0" y1="0" x2="1" y2="0">
<stop offset="0" stop-color="#9b9ca8"/><stop offset="0.3" stop-color="#c3c6d0"/><stop offset="0.55" stop-color="#a9acb9"/><stop offset="0.8" stop-color="#bfc2cc"/><stop offset="1" stop-color="#b0b3bf"/>
</linearGradient>
<linearGradient id="eLfade" x1="0" y1="0" x2="0" y2="1"><stop offset="0" stop-color="#fff" stop-opacity="0"/><stop offset="0.45" stop-color="#fff" stop-opacity="0.55"/><stop offset="0.52" stop-color="#fff" stop-opacity="1"/><stop offset="1" stop-color="#fff" stop-opacity="1"/></linearGradient>
<mask id="mLb"><rect x="270" y="560" width="60" height="500" fill="url(#eLfade)"/></mask>
<linearGradient id="eLd" x1="0" y1="0" x2="0" y2="1"><stop offset="0" stop-color="#5a5b68" stop-opacity="0"/><stop offset="0.08" stop-color="#5a5b68" stop-opacity="0.38"/><stop offset="0.9" stop-color="#5a5b68" stop-opacity="0.38"/><stop offset="1" stop-color="#5a5b68" stop-opacity="0"/></linearGradient>
<linearGradient id="eR" x1="0" y1="0" x2="1" y2="0">
<stop offset="0" stop-color="#5a5a5a"/><stop offset="0.08" stop-color="#444"/><stop offset="0.34" stop-color="#4a4a4a"/><stop offset="0.39" stop-color="#f0f0f0"/><stop offset="0.45" stop-color="#f0f0f0"/><stop offset="0.5" stop-color="#484848"/><stop offset="0.72" stop-color="#505050"/><stop offset="0.77" stop-color="#fafafa"/><stop offset="0.89" stop-color="#fafafa"/><stop offset="0.93" stop-color="#606060"/><stop offset="1" stop-color="#707070"/>
</linearGradient>
<linearGradient id="eRb" x1="0" y1="0" x2="0" y2="1"><stop offset="0" stop-color="#b4aaaa" stop-opacity="0"/><stop offset="0.2" stop-color="#b4aaaa" stop-opacity="0.6"/><stop offset="1" stop-color="#a89c98" stop-opacity="0.7"/></linearGradient>
</defs>
<path d="M283 42 C283 27 293 19.5 312 18.6 L340 18 C322 19.5 313 27 312 42 Z" fill="#dcdcde"/>
<path d="M312 18.8 L1150 2.2" stroke="#d8d8da" stroke-width="1.3" fill="none"/>
<path d="M1150 1.6 C1172 1.5 1190 8 1191.5 25 L1172 25 C1171 12 1164 4.5 1150 3.4 Z" fill="#dddddf"/>
<polygon points="282.5,40 312,40 319.8,1054 289.8,1043" fill="url(#eL)"/>
<polygon points="282.5,40 312,40 319.8,1054 289.8,1043" fill="url(#eLb)" mask="url(#mLb)"/>
<polygon points="288.3,835 318.2,835 319,940 289,940" fill="url(#eLd)"/>
<path d="M289 850 L319.5 850.5" stroke="rgba(245,246,250,0.5)" stroke-width="2"/>
<path d="M289 858 L319.5 858.5" stroke="rgba(245,246,250,0.35)" stroke-width="2"/>
<path d="M289 872 L319.5 872.5" stroke="rgba(245,246,250,0.3)" stroke-width="2"/>
<path d="M289 925 L319.5 925.5" stroke="rgba(245,246,250,0.4)" stroke-width="2"/>
<path d="M289 945 L319.5 945.5" stroke="rgba(245,246,250,0.55)" stroke-width="2"/>
<path d="M289 952 L319.5 952.5" stroke="rgba(245,246,250,0.4)" stroke-width="2"/>
<path d="M289 962 L319.5 962.5" stroke="rgba(245,246,250,0.35)" stroke-width="2"/>
<path d="M289 975 L319.5 975.5" stroke="rgba(245,246,250,0.3)" stroke-width="2"/>
<path d="M289 990 L319.5 990.5" stroke="rgba(245,246,250,0.35)" stroke-width="2"/>
<path d="M289 1004 L319.5 1004.5" stroke="rgba(245,246,250,0.3)" stroke-width="2"/>
<path d="M289 1018 L319.5 1018.5" stroke="rgba(245,246,250,0.35)" stroke-width="2"/>
<path d="M289 1030 L319.5 1030.5" stroke="rgba(245,246,250,0.3)" stroke-width="2"/>
<polygon points="1172,25 1191.5,25 1189.5,932 1170.5,936" fill="url(#eR)"/>
<polygon points="1170.8,820 1189.8,820 1189.5,932 1170.5,936" fill="url(#eRb)"/>
</svg>
</body></html>
